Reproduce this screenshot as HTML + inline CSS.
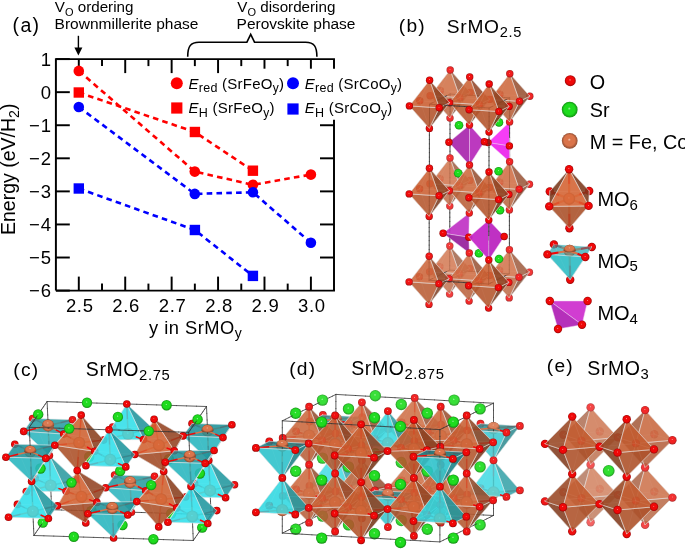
<!DOCTYPE html>
<html><head><meta charset="utf-8"><style>
html,body{margin:0;padding:0;background:#fff;}
svg{display:block;}
text{font-family:"Liberation Sans",Arial,sans-serif;}
</style></head><body>
<svg width="685" height="549" viewBox="0 0 685 549">
<defs><radialGradient id="g1" cx="0.5" cy="0.5" fx="0.47" fy="0.42" r="0.55"><stop offset="0" stop-color="#f99f9f"/><stop offset="0.18" stop-color="#f00e0e"/><stop offset="0.62" stop-color="#f00e0e"/><stop offset="1" stop-color="#870a0a"/></radialGradient><radialGradient id="g2" cx="0.5" cy="0.5" fx="0.47" fy="0.42" r="0.55"><stop offset="0" stop-color="#f99c9c"/><stop offset="0.18" stop-color="#f00808"/><stop offset="0.62" stop-color="#f00808"/><stop offset="1" stop-color="#840404"/></radialGradient><radialGradient id="g3" cx="0.5" cy="0.5" fx="0.47" fy="0.42" r="0.55"><stop offset="0" stop-color="#f9a1a1"/><stop offset="0.18" stop-color="#f11414"/><stop offset="0.62" stop-color="#f11414"/><stop offset="1" stop-color="#8a1111"/></radialGradient><radialGradient id="g4" cx="0.5" cy="0.5" fx="0.47" fy="0.42" r="0.55"><stop offset="0" stop-color="#f99d9d"/><stop offset="0.18" stop-color="#f00b0b"/><stop offset="0.62" stop-color="#f00b0b"/><stop offset="1" stop-color="#850707"/></radialGradient><radialGradient id="g5" cx="0.5" cy="0.5" fx="0.47" fy="0.42" r="0.55"><stop offset="0" stop-color="#faadad"/><stop offset="0.18" stop-color="#f33131"/><stop offset="0.62" stop-color="#f33131"/><stop offset="1" stop-color="#992e2e"/></radialGradient><radialGradient id="g6" cx="0.5" cy="0.5" fx="0.47" fy="0.42" r="0.55"><stop offset="0" stop-color="#faa8a8"/><stop offset="0.18" stop-color="#f22626"/><stop offset="0.62" stop-color="#f22626"/><stop offset="1" stop-color="#932323"/></radialGradient><radialGradient id="g7" cx="0.5" cy="0.5" fx="0.47" fy="0.42" r="0.55"><stop offset="0" stop-color="#faa6a6"/><stop offset="0.18" stop-color="#f12020"/><stop offset="0.62" stop-color="#f12020"/><stop offset="1" stop-color="#901c1c"/></radialGradient><radialGradient id="g8" cx="0.5" cy="0.5" fx="0.47" fy="0.42" r="0.55"><stop offset="0" stop-color="#faafaf"/><stop offset="0.18" stop-color="#f33737"/><stop offset="0.62" stop-color="#f33737"/><stop offset="1" stop-color="#9c3535"/></radialGradient><radialGradient id="g9" cx="0.5" cy="0.5" fx="0.47" fy="0.42" r="0.55"><stop offset="0" stop-color="#faabab"/><stop offset="0.18" stop-color="#f22e2e"/><stop offset="0.62" stop-color="#f22e2e"/><stop offset="1" stop-color="#972b2b"/></radialGradient><radialGradient id="g10" cx="0.5" cy="0.5" fx="0.47" fy="0.42" r="0.55"><stop offset="0" stop-color="#faa9a9"/><stop offset="0.18" stop-color="#f22929"/><stop offset="0.62" stop-color="#f22929"/><stop offset="1" stop-color="#942626"/></radialGradient><radialGradient id="g11" cx="0.5" cy="0.5" fx="0.47" fy="0.42" r="0.55"><stop offset="0" stop-color="#f9a3a3"/><stop offset="0.18" stop-color="#f11919"/><stop offset="0.62" stop-color="#f11919"/><stop offset="1" stop-color="#8d1616"/></radialGradient><radialGradient id="g12" cx="0.5" cy="0.5" fx="0.47" fy="0.42" r="0.55"><stop offset="0" stop-color="#f9a2a2"/><stop offset="0.18" stop-color="#f11616"/><stop offset="0.62" stop-color="#f11616"/><stop offset="1" stop-color="#8b1313"/></radialGradient><radialGradient id="g13" cx="0.5" cy="0.5" fx="0.47" fy="0.42" r="0.55"><stop offset="0" stop-color="#f9a0a0"/><stop offset="0.18" stop-color="#f11111"/><stop offset="0.62" stop-color="#f11111"/><stop offset="1" stop-color="#890e0e"/></radialGradient><radialGradient id="g14" cx="0.5" cy="0.5" fx="0.47" fy="0.42" r="0.55"><stop offset="0" stop-color="#faa8a8"/><stop offset="0.18" stop-color="#f22525"/><stop offset="0.62" stop-color="#f22525"/><stop offset="1" stop-color="#922222"/></radialGradient><radialGradient id="g15" cx="0.5" cy="0.5" fx="0.47" fy="0.42" r="0.55"><stop offset="0" stop-color="#f9a1a1"/><stop offset="0.18" stop-color="#f11313"/><stop offset="0.62" stop-color="#f11313"/><stop offset="1" stop-color="#8a1010"/></radialGradient><radialGradient id="g16" cx="0.5" cy="0.5" fx="0.47" fy="0.42" r="0.55"><stop offset="0" stop-color="#faaaaa"/><stop offset="0.18" stop-color="#f22b2b"/><stop offset="0.62" stop-color="#f22b2b"/><stop offset="1" stop-color="#962828"/></radialGradient><radialGradient id="g17" cx="0.5" cy="0.5" fx="0.47" fy="0.42" r="0.55"><stop offset="0" stop-color="#faa7a7"/><stop offset="0.18" stop-color="#f22222"/><stop offset="0.62" stop-color="#f22222"/><stop offset="1" stop-color="#911f1f"/></radialGradient><radialGradient id="g18" cx="0.5" cy="0.5" fx="0.47" fy="0.42" r="0.55"><stop offset="0" stop-color="#faa4a4"/><stop offset="0.18" stop-color="#f11d1d"/><stop offset="0.62" stop-color="#f11d1d"/><stop offset="1" stop-color="#8e1919"/></radialGradient><radialGradient id="g19" cx="0.5" cy="0.5" fx="0.47" fy="0.42" r="0.55"><stop offset="0" stop-color="#f9a2a2"/><stop offset="0.18" stop-color="#f11717"/><stop offset="0.62" stop-color="#f11717"/><stop offset="1" stop-color="#8c1414"/></radialGradient><radialGradient id="g20" cx="0.5" cy="0.5" fx="0.47" fy="0.42" r="0.55"><stop offset="0" stop-color="#f99e9e"/><stop offset="0.18" stop-color="#f00c0c"/><stop offset="0.62" stop-color="#f00c0c"/><stop offset="1" stop-color="#860808"/></radialGradient><radialGradient id="g21" cx="0.5" cy="0.5" fx="0.47" fy="0.42" r="0.55"><stop offset="0" stop-color="#faa5a5"/><stop offset="0.18" stop-color="#f11d1d"/><stop offset="0.62" stop-color="#f11d1d"/><stop offset="1" stop-color="#8f1a1a"/></radialGradient><radialGradient id="g22" cx="0.5" cy="0.5" fx="0.47" fy="0.42" r="0.55"><stop offset="0" stop-color="#f9a1a1"/><stop offset="0.18" stop-color="#f11414"/><stop offset="0.62" stop-color="#f11414"/><stop offset="1" stop-color="#8a1010"/></radialGradient><radialGradient id="g23" cx="0.5" cy="0.5" fx="0.47" fy="0.42" r="0.55"><stop offset="0" stop-color="#f99f9f"/><stop offset="0.18" stop-color="#f00f0f"/><stop offset="0.62" stop-color="#f00f0f"/><stop offset="1" stop-color="#870b0b"/></radialGradient><radialGradient id="g24" cx="0.5" cy="0.5" fx="0.47" fy="0.42" r="0.55"><stop offset="0" stop-color="#fab0b0"/><stop offset="0.18" stop-color="#f33b3b"/><stop offset="0.62" stop-color="#f33b3b"/><stop offset="1" stop-color="#9d3838"/></radialGradient><radialGradient id="g25" cx="0.5" cy="0.5" fx="0.47" fy="0.42" r="0.55"><stop offset="0" stop-color="#faacac"/><stop offset="0.18" stop-color="#f22f2f"/><stop offset="0.62" stop-color="#f22f2f"/><stop offset="1" stop-color="#972c2c"/></radialGradient><radialGradient id="g26" cx="0.5" cy="0.5" fx="0.47" fy="0.42" r="0.55"><stop offset="0" stop-color="#fab2b2"/><stop offset="0.18" stop-color="#f33e3e"/><stop offset="0.62" stop-color="#f33e3e"/><stop offset="1" stop-color="#9f3c3c"/></radialGradient><radialGradient id="g27" cx="0.5" cy="0.5" fx="0.47" fy="0.42" r="0.55"><stop offset="0" stop-color="#faafaf"/><stop offset="0.18" stop-color="#f33737"/><stop offset="0.62" stop-color="#f33737"/><stop offset="1" stop-color="#9c3434"/></radialGradient><radialGradient id="g28" cx="0.5" cy="0.5" fx="0.47" fy="0.42" r="0.55"><stop offset="0" stop-color="#faadad"/><stop offset="0.18" stop-color="#f33232"/><stop offset="0.62" stop-color="#f33232"/><stop offset="1" stop-color="#992f2f"/></radialGradient><radialGradient id="g29" cx="0.5" cy="0.5" fx="0.47" fy="0.42" r="0.55"><stop offset="0" stop-color="#faa7a7"/><stop offset="0.18" stop-color="#f22323"/><stop offset="0.62" stop-color="#f22323"/><stop offset="1" stop-color="#912020"/></radialGradient><radialGradient id="g30" cx="0.5" cy="0.5" fx="0.47" fy="0.42" r="0.55"><stop offset="0" stop-color="#f9a0a0"/><stop offset="0.18" stop-color="#f11111"/><stop offset="0.62" stop-color="#f11111"/><stop offset="1" stop-color="#880e0e"/></radialGradient><radialGradient id="g31" cx="0.5" cy="0.5" fx="0.47" fy="0.42" r="0.55"><stop offset="0" stop-color="#faa6a6"/><stop offset="0.18" stop-color="#f11f1f"/><stop offset="0.62" stop-color="#f11f1f"/><stop offset="1" stop-color="#901c1c"/></radialGradient><radialGradient id="g32" cx="0.5" cy="0.5" fx="0.47" fy="0.42" r="0.55"><stop offset="0" stop-color="#f9a4a4"/><stop offset="0.18" stop-color="#f11a1a"/><stop offset="0.62" stop-color="#f11a1a"/><stop offset="1" stop-color="#8d1717"/></radialGradient><radialGradient id="g33" cx="0.5" cy="0.5" fx="0.47" fy="0.42" r="0.55"><stop offset="0" stop-color="#faacac"/><stop offset="0.18" stop-color="#f22e2e"/><stop offset="0.62" stop-color="#f22e2e"/><stop offset="1" stop-color="#972b2b"/></radialGradient><radialGradient id="g34" cx="0.5" cy="0.5" fx="0.47" fy="0.42" r="0.55"><stop offset="0" stop-color="#faaeae"/><stop offset="0.18" stop-color="#f33434"/><stop offset="0.62" stop-color="#f33434"/><stop offset="1" stop-color="#9a3232"/></radialGradient><radialGradient id="g35" cx="0.5" cy="0.5" fx="0.47" fy="0.42" r="0.55"><stop offset="0" stop-color="#faaaaa"/><stop offset="0.18" stop-color="#f22b2b"/><stop offset="0.62" stop-color="#f22b2b"/><stop offset="1" stop-color="#952828"/></radialGradient><radialGradient id="g36" cx="0.5" cy="0.5" fx="0.47" fy="0.42" r="0.55"><stop offset="0" stop-color="#faa6a6"/><stop offset="0.18" stop-color="#f12020"/><stop offset="0.62" stop-color="#f12020"/><stop offset="1" stop-color="#901d1d"/></radialGradient><radialGradient id="g37" cx="0.5" cy="0.5" fx="0.47" fy="0.42" r="0.55"><stop offset="0" stop-color="#f9a1a1"/><stop offset="0.18" stop-color="#f11515"/><stop offset="0.62" stop-color="#f11515"/><stop offset="1" stop-color="#8a1111"/></radialGradient><radialGradient id="g38" cx="0.5" cy="0.5" fx="0.47" fy="0.42" r="0.55"><stop offset="0" stop-color="#faa8a8"/><stop offset="0.18" stop-color="#f22727"/><stop offset="0.62" stop-color="#f22727"/><stop offset="1" stop-color="#932323"/></radialGradient><radialGradient id="g39" cx="0.5" cy="0.5" fx="0.47" fy="0.42" r="0.55"><stop offset="0" stop-color="#f9a3a3"/><stop offset="0.18" stop-color="#f11818"/><stop offset="0.62" stop-color="#f11818"/><stop offset="1" stop-color="#8c1515"/></radialGradient><radialGradient id="g40" cx="0.5" cy="0.5" fx="0.47" fy="0.42" r="0.55"><stop offset="0" stop-color="#fab0b0"/><stop offset="0.18" stop-color="#f33838"/><stop offset="0.62" stop-color="#f33838"/><stop offset="1" stop-color="#9c3535"/></radialGradient><radialGradient id="g41" cx="0.5" cy="0.5" fx="0.47" fy="0.42" r="0.55"><stop offset="0" stop-color="#fab1b1"/><stop offset="0.18" stop-color="#f33c3c"/><stop offset="0.62" stop-color="#f33c3c"/><stop offset="1" stop-color="#9e3939"/></radialGradient><radialGradient id="g42" cx="0.5" cy="0.5" fx="0.47" fy="0.42" r="0.55"><stop offset="0" stop-color="#faabab"/><stop offset="0.18" stop-color="#f22c2c"/><stop offset="0.62" stop-color="#f22c2c"/><stop offset="1" stop-color="#962929"/></radialGradient><radialGradient id="g43" cx="0.5" cy="0.5" fx="0.47" fy="0.42" r="0.55"><stop offset="0" stop-color="#faa7a7"/><stop offset="0.18" stop-color="#f22424"/><stop offset="0.62" stop-color="#f22424"/><stop offset="1" stop-color="#922020"/></radialGradient><radialGradient id="g44" cx="0.5" cy="0.5" fx="0.47" fy="0.42" r="0.55"><stop offset="0" stop-color="#f99c9c"/><stop offset="0.18" stop-color="#f00909"/><stop offset="0.62" stop-color="#f00909"/><stop offset="1" stop-color="#840505"/></radialGradient><radialGradient id="g45" cx="0.5" cy="0.5" fx="0.47" fy="0.42" r="0.55"><stop offset="0" stop-color="#f9a0a0"/><stop offset="0.18" stop-color="#f11111"/><stop offset="0.62" stop-color="#f11111"/><stop offset="1" stop-color="#880d0d"/></radialGradient><radialGradient id="g46" cx="0.5" cy="0.5" fx="0.47" fy="0.42" r="0.55"><stop offset="0" stop-color="#faafaf"/><stop offset="0.18" stop-color="#f33838"/><stop offset="0.62" stop-color="#f33838"/><stop offset="1" stop-color="#9c3535"/></radialGradient><radialGradient id="g47" cx="0.5" cy="0.5" fx="0.47" fy="0.42" r="0.55"><stop offset="0" stop-color="#fab2b2"/><stop offset="0.18" stop-color="#f33e3e"/><stop offset="0.62" stop-color="#f33e3e"/><stop offset="1" stop-color="#9f3b3b"/></radialGradient><radialGradient id="g48" cx="0.5" cy="0.5" fx="0.47" fy="0.42" r="0.55"><stop offset="0" stop-color="#faaeae"/><stop offset="0.18" stop-color="#f33434"/><stop offset="0.62" stop-color="#f33434"/><stop offset="1" stop-color="#9a3131"/></radialGradient><radialGradient id="g49" cx="0.5" cy="0.5" fx="0.47" fy="0.42" r="0.55"><stop offset="0" stop-color="#faacac"/><stop offset="0.18" stop-color="#f22f2f"/><stop offset="0.62" stop-color="#f22f2f"/><stop offset="1" stop-color="#982c2c"/></radialGradient><radialGradient id="g50" cx="0.5" cy="0.5" fx="0.47" fy="0.42" r="0.55"><stop offset="0" stop-color="#a5f1a5"/><stop offset="0.18" stop-color="#1edc1e"/><stop offset="0.62" stop-color="#1edc1e"/><stop offset="1" stop-color="#107910"/></radialGradient><radialGradient id="g51" cx="0.5" cy="0.5" fx="0.47" fy="0.42" r="0.55"><stop offset="0" stop-color="#f0c7b7"/><stop offset="0.18" stop-color="#da744a"/><stop offset="0.62" stop-color="#da744a"/><stop offset="1" stop-color="#784029"/></radialGradient><radialGradient id="g52" cx="0.5" cy="0.5" fx="0.47" fy="0.42" r="0.55"><stop offset="0" stop-color="#f1cab9"/><stop offset="0.18" stop-color="#db7951"/><stop offset="0.62" stop-color="#db7951"/><stop offset="1" stop-color="#7d4731"/></radialGradient><radialGradient id="g53" cx="0.5" cy="0.5" fx="0.47" fy="0.42" r="0.55"><stop offset="0" stop-color="#f1cbbc"/><stop offset="0.18" stop-color="#dd7e56"/><stop offset="0.62" stop-color="#dd7e56"/><stop offset="1" stop-color="#814d37"/></radialGradient><radialGradient id="g54" cx="0.5" cy="0.5" fx="0.47" fy="0.42" r="0.55"><stop offset="0" stop-color="#f0c8b8"/><stop offset="0.18" stop-color="#db764d"/><stop offset="0.62" stop-color="#db764d"/><stop offset="1" stop-color="#7a432c"/></radialGradient><radialGradient id="g55" cx="0.5" cy="0.5" fx="0.47" fy="0.42" r="0.55"><stop offset="0" stop-color="#f9a2a2"/><stop offset="0.18" stop-color="#f11717"/><stop offset="0.62" stop-color="#f11717"/><stop offset="1" stop-color="#8b1313"/></radialGradient><radialGradient id="g56" cx="0.5" cy="0.5" fx="0.47" fy="0.42" r="0.55"><stop offset="0" stop-color="#f99e9e"/><stop offset="0.18" stop-color="#f00c0c"/><stop offset="0.62" stop-color="#f00c0c"/><stop offset="1" stop-color="#860909"/></radialGradient><radialGradient id="g57" cx="0.5" cy="0.5" fx="0.47" fy="0.42" r="0.55"><stop offset="0" stop-color="#f99d9d"/><stop offset="0.18" stop-color="#f00909"/><stop offset="0.62" stop-color="#f00909"/><stop offset="1" stop-color="#840505"/></radialGradient><radialGradient id="g58" cx="0.5" cy="0.5" fx="0.47" fy="0.42" r="0.55"><stop offset="0" stop-color="#f9a3a3"/><stop offset="0.18" stop-color="#f11a1a"/><stop offset="0.62" stop-color="#f11a1a"/><stop offset="1" stop-color="#8d1717"/></radialGradient><radialGradient id="g59" cx="0.5" cy="0.5" fx="0.47" fy="0.42" r="0.55"><stop offset="0" stop-color="#f9a1a1"/><stop offset="0.18" stop-color="#f11515"/><stop offset="0.62" stop-color="#f11515"/><stop offset="1" stop-color="#8b1212"/></radialGradient><radialGradient id="g60" cx="0.5" cy="0.5" fx="0.47" fy="0.42" r="0.55"><stop offset="0" stop-color="#faa5a5"/><stop offset="0.18" stop-color="#f11e1e"/><stop offset="0.62" stop-color="#f11e1e"/><stop offset="1" stop-color="#8f1b1b"/></radialGradient><radialGradient id="g61" cx="0.5" cy="0.5" fx="0.47" fy="0.42" r="0.55"><stop offset="0" stop-color="#f99f9f"/><stop offset="0.18" stop-color="#f01010"/><stop offset="0.62" stop-color="#f01010"/><stop offset="1" stop-color="#880d0d"/></radialGradient><radialGradient id="g62" cx="0.5" cy="0.5" fx="0.47" fy="0.42" r="0.55"><stop offset="0" stop-color="#faa6a6"/><stop offset="0.18" stop-color="#f22222"/><stop offset="0.62" stop-color="#f22222"/><stop offset="1" stop-color="#911e1e"/></radialGradient><radialGradient id="g63" cx="0.5" cy="0.5" fx="0.47" fy="0.42" r="0.55"><stop offset="0" stop-color="#f99d9d"/><stop offset="0.18" stop-color="#f00909"/><stop offset="0.62" stop-color="#f00909"/><stop offset="1" stop-color="#850606"/></radialGradient><radialGradient id="g64" cx="0.5" cy="0.5" fx="0.47" fy="0.42" r="0.55"><stop offset="0" stop-color="#f9a2a2"/><stop offset="0.18" stop-color="#f11515"/><stop offset="0.62" stop-color="#f11515"/><stop offset="1" stop-color="#8b1212"/></radialGradient><radialGradient id="g65" cx="0.5" cy="0.5" fx="0.47" fy="0.42" r="0.55"><stop offset="0" stop-color="#f99d9d"/><stop offset="0.18" stop-color="#f00a0a"/><stop offset="0.62" stop-color="#f00a0a"/><stop offset="1" stop-color="#850606"/></radialGradient><radialGradient id="g66" cx="0.5" cy="0.5" fx="0.47" fy="0.42" r="0.55"><stop offset="0" stop-color="#f99e9e"/><stop offset="0.18" stop-color="#f00d0d"/><stop offset="0.62" stop-color="#f00d0d"/><stop offset="1" stop-color="#860909"/></radialGradient><radialGradient id="g67" cx="0.5" cy="0.5" fx="0.47" fy="0.42" r="0.55"><stop offset="0" stop-color="#f99e9e"/><stop offset="0.18" stop-color="#f00b0b"/><stop offset="0.62" stop-color="#f00b0b"/><stop offset="1" stop-color="#860808"/></radialGradient><radialGradient id="g68" cx="0.5" cy="0.5" fx="0.47" fy="0.42" r="0.55"><stop offset="0" stop-color="#a7f1a7"/><stop offset="0.18" stop-color="#24dd24"/><stop offset="0.62" stop-color="#24dd24"/><stop offset="1" stop-color="#167c16"/></radialGradient><radialGradient id="g69" cx="0.5" cy="0.5" fx="0.47" fy="0.42" r="0.55"><stop offset="0" stop-color="#a6f1a6"/><stop offset="0.18" stop-color="#21dc21"/><stop offset="0.62" stop-color="#21dc21"/><stop offset="1" stop-color="#137b13"/></radialGradient><radialGradient id="g70" cx="0.5" cy="0.5" fx="0.47" fy="0.42" r="0.55"><stop offset="0" stop-color="#a9f2a9"/><stop offset="0.18" stop-color="#27dd27"/><stop offset="0.62" stop-color="#27dd27"/><stop offset="1" stop-color="#1a7e1a"/></radialGradient><radialGradient id="g71" cx="0.5" cy="0.5" fx="0.47" fy="0.42" r="0.55"><stop offset="0" stop-color="#abf2ab"/><stop offset="0.18" stop-color="#2dde2d"/><stop offset="0.62" stop-color="#2dde2d"/><stop offset="1" stop-color="#218221"/></radialGradient><radialGradient id="g72" cx="0.5" cy="0.5" fx="0.47" fy="0.42" r="0.55"><stop offset="0" stop-color="#a6f1a6"/><stop offset="0.18" stop-color="#21dc21"/><stop offset="0.62" stop-color="#21dc21"/><stop offset="1" stop-color="#147b14"/></radialGradient><radialGradient id="g73" cx="0.5" cy="0.5" fx="0.47" fy="0.42" r="0.55"><stop offset="0" stop-color="#f0c8b7"/><stop offset="0.18" stop-color="#da754b"/><stop offset="0.62" stop-color="#da754b"/><stop offset="1" stop-color="#79412a"/></radialGradient><radialGradient id="g74" cx="0.5" cy="0.5" fx="0.47" fy="0.42" r="0.55"><stop offset="0" stop-color="#f1ccbd"/><stop offset="0.18" stop-color="#dd8059"/><stop offset="0.62" stop-color="#dd8059"/><stop offset="1" stop-color="#83503b"/></radialGradient><radialGradient id="g75" cx="0.5" cy="0.5" fx="0.47" fy="0.42" r="0.55"><stop offset="0" stop-color="#f2cdbd"/><stop offset="0.18" stop-color="#dd815b"/><stop offset="0.62" stop-color="#dd815b"/><stop offset="1" stop-color="#85523d"/></radialGradient><radialGradient id="g76" cx="0.5" cy="0.5" fx="0.47" fy="0.42" r="0.55"><stop offset="0" stop-color="#f1c9b9"/><stop offset="0.18" stop-color="#db7850"/><stop offset="0.62" stop-color="#db7850"/><stop offset="1" stop-color="#7c4630"/></radialGradient><radialGradient id="g77" cx="0.5" cy="0.5" fx="0.47" fy="0.42" r="0.55"><stop offset="0" stop-color="#f1caba"/><stop offset="0.18" stop-color="#dc7a52"/><stop offset="0.62" stop-color="#dc7a52"/><stop offset="1" stop-color="#7e4832"/></radialGradient><radialGradient id="g78" cx="0.5" cy="0.5" fx="0.47" fy="0.42" r="0.55"><stop offset="0" stop-color="#f2cebf"/><stop offset="0.18" stop-color="#de8560"/><stop offset="0.62" stop-color="#de8560"/><stop offset="1" stop-color="#885742"/></radialGradient><radialGradient id="g79" cx="0.5" cy="0.5" fx="0.47" fy="0.42" r="0.55"><stop offset="0" stop-color="#f2cebf"/><stop offset="0.18" stop-color="#de835e"/><stop offset="0.62" stop-color="#de835e"/><stop offset="1" stop-color="#875540"/></radialGradient><radialGradient id="g80" cx="0.5" cy="0.5" fx="0.47" fy="0.42" r="0.55"><stop offset="0" stop-color="#f1cbbb"/><stop offset="0.18" stop-color="#dc7c55"/><stop offset="0.62" stop-color="#dc7c55"/><stop offset="1" stop-color="#804b35"/></radialGradient><radialGradient id="g81" cx="0.5" cy="0.5" fx="0.47" fy="0.42" r="0.55"><stop offset="0" stop-color="#f1cbbb"/><stop offset="0.18" stop-color="#dc7d56"/><stop offset="0.62" stop-color="#dc7d56"/><stop offset="1" stop-color="#814d37"/></radialGradient><radialGradient id="g82" cx="0.5" cy="0.5" fx="0.47" fy="0.42" r="0.55"><stop offset="0" stop-color="#f2cdbd"/><stop offset="0.18" stop-color="#dd815b"/><stop offset="0.62" stop-color="#dd815b"/><stop offset="1" stop-color="#84523d"/></radialGradient><radialGradient id="g83" cx="0.5" cy="0.5" fx="0.47" fy="0.42" r="0.55"><stop offset="0" stop-color="#f1c9b9"/><stop offset="0.18" stop-color="#db7850"/><stop offset="0.62" stop-color="#db7850"/><stop offset="1" stop-color="#7c462f"/></radialGradient><radialGradient id="g84" cx="0.5" cy="0.5" fx="0.47" fy="0.42" r="0.55"><stop offset="0" stop-color="#f1caba"/><stop offset="0.18" stop-color="#dc7a51"/><stop offset="0.62" stop-color="#dc7a51"/><stop offset="1" stop-color="#7d4832"/></radialGradient><radialGradient id="g85" cx="0.5" cy="0.5" fx="0.47" fy="0.42" r="0.55"><stop offset="0" stop-color="#f2cdbe"/><stop offset="0.18" stop-color="#de835e"/><stop offset="0.62" stop-color="#de835e"/><stop offset="1" stop-color="#875540"/></radialGradient><radialGradient id="g86" cx="0.5" cy="0.5" fx="0.47" fy="0.42" r="0.55"><stop offset="0" stop-color="#f99f9f"/><stop offset="0.18" stop-color="#f01010"/><stop offset="0.62" stop-color="#f01010"/><stop offset="1" stop-color="#880c0c"/></radialGradient><radialGradient id="g87" cx="0.5" cy="0.5" fx="0.47" fy="0.42" r="0.55"><stop offset="0" stop-color="#f99f9f"/><stop offset="0.18" stop-color="#f00f0f"/><stop offset="0.62" stop-color="#f00f0f"/><stop offset="1" stop-color="#880c0c"/></radialGradient><radialGradient id="g88" cx="0.5" cy="0.5" fx="0.47" fy="0.42" r="0.55"><stop offset="0" stop-color="#f9a0a0"/><stop offset="0.18" stop-color="#f11313"/><stop offset="0.62" stop-color="#f11313"/><stop offset="1" stop-color="#890f0f"/></radialGradient><radialGradient id="g89" cx="0.5" cy="0.5" fx="0.47" fy="0.42" r="0.55"><stop offset="0" stop-color="#f9a3a3"/><stop offset="0.18" stop-color="#f11a1a"/><stop offset="0.62" stop-color="#f11a1a"/><stop offset="1" stop-color="#8d1616"/></radialGradient><radialGradient id="g90" cx="0.5" cy="0.5" fx="0.47" fy="0.42" r="0.55"><stop offset="0" stop-color="#faa7a7"/><stop offset="0.18" stop-color="#f22323"/><stop offset="0.62" stop-color="#f22323"/><stop offset="1" stop-color="#922020"/></radialGradient><radialGradient id="g91" cx="0.5" cy="0.5" fx="0.47" fy="0.42" r="0.55"><stop offset="0" stop-color="#f9a4a4"/><stop offset="0.18" stop-color="#f11c1c"/><stop offset="0.62" stop-color="#f11c1c"/><stop offset="1" stop-color="#8e1818"/></radialGradient><radialGradient id="g92" cx="0.5" cy="0.5" fx="0.47" fy="0.42" r="0.55"><stop offset="0" stop-color="#f9a4a4"/><stop offset="0.18" stop-color="#f11c1c"/><stop offset="0.62" stop-color="#f11c1c"/><stop offset="1" stop-color="#8e1919"/></radialGradient><radialGradient id="g93" cx="0.5" cy="0.5" fx="0.47" fy="0.42" r="0.55"><stop offset="0" stop-color="#f9a3a3"/><stop offset="0.18" stop-color="#f11919"/><stop offset="0.62" stop-color="#f11919"/><stop offset="1" stop-color="#8c1515"/></radialGradient><radialGradient id="g94" cx="0.5" cy="0.5" fx="0.47" fy="0.42" r="0.55"><stop offset="0" stop-color="#faa8a8"/><stop offset="0.18" stop-color="#f22626"/><stop offset="0.62" stop-color="#f22626"/><stop offset="1" stop-color="#932222"/></radialGradient><radialGradient id="g95" cx="0.5" cy="0.5" fx="0.47" fy="0.42" r="0.55"><stop offset="0" stop-color="#faa5a5"/><stop offset="0.18" stop-color="#f11d1d"/><stop offset="0.62" stop-color="#f11d1d"/><stop offset="1" stop-color="#8e1a1a"/></radialGradient><radialGradient id="g96" cx="0.5" cy="0.5" fx="0.47" fy="0.42" r="0.55"><stop offset="0" stop-color="#faa8a8"/><stop offset="0.18" stop-color="#f22424"/><stop offset="0.62" stop-color="#f22424"/><stop offset="1" stop-color="#922121"/></radialGradient><radialGradient id="g97" cx="0.5" cy="0.5" fx="0.47" fy="0.42" r="0.55"><stop offset="0" stop-color="#faa5a5"/><stop offset="0.18" stop-color="#f11f1f"/><stop offset="0.62" stop-color="#f11f1f"/><stop offset="1" stop-color="#8f1c1c"/></radialGradient><radialGradient id="g98" cx="0.5" cy="0.5" fx="0.47" fy="0.42" r="0.55"><stop offset="0" stop-color="#f9a1a1"/><stop offset="0.18" stop-color="#f11515"/><stop offset="0.62" stop-color="#f11515"/><stop offset="1" stop-color="#8a1212"/></radialGradient><radialGradient id="g99" cx="0.5" cy="0.5" fx="0.47" fy="0.42" r="0.55"><stop offset="0" stop-color="#f9a0a0"/><stop offset="0.18" stop-color="#f11212"/><stop offset="0.62" stop-color="#f11212"/><stop offset="1" stop-color="#890f0f"/></radialGradient><radialGradient id="g100" cx="0.5" cy="0.5" fx="0.47" fy="0.42" r="0.55"><stop offset="0" stop-color="#f99c9c"/><stop offset="0.18" stop-color="#f00808"/><stop offset="0.62" stop-color="#f00808"/><stop offset="1" stop-color="#840505"/></radialGradient><radialGradient id="g101" cx="0.5" cy="0.5" fx="0.47" fy="0.42" r="0.55"><stop offset="0" stop-color="#f99e9e"/><stop offset="0.18" stop-color="#f00d0d"/><stop offset="0.62" stop-color="#f00d0d"/><stop offset="1" stop-color="#870a0a"/></radialGradient><radialGradient id="g102" cx="0.5" cy="0.5" fx="0.47" fy="0.42" r="0.55"><stop offset="0" stop-color="#faa8a8"/><stop offset="0.18" stop-color="#f22525"/><stop offset="0.62" stop-color="#f22525"/><stop offset="1" stop-color="#932222"/></radialGradient><radialGradient id="g103" cx="0.5" cy="0.5" fx="0.47" fy="0.42" r="0.55"><stop offset="0" stop-color="#f9a4a4"/><stop offset="0.18" stop-color="#f11b1b"/><stop offset="0.62" stop-color="#f11b1b"/><stop offset="1" stop-color="#8e1818"/></radialGradient><radialGradient id="g104" cx="0.5" cy="0.5" fx="0.47" fy="0.42" r="0.55"><stop offset="0" stop-color="#f9a1a1"/><stop offset="0.18" stop-color="#f11313"/><stop offset="0.62" stop-color="#f11313"/><stop offset="1" stop-color="#890f0f"/></radialGradient><radialGradient id="g105" cx="0.5" cy="0.5" fx="0.47" fy="0.42" r="0.55"><stop offset="0" stop-color="#faa7a7"/><stop offset="0.18" stop-color="#f22424"/><stop offset="0.62" stop-color="#f22424"/><stop offset="1" stop-color="#922121"/></radialGradient><radialGradient id="g106" cx="0.5" cy="0.5" fx="0.47" fy="0.42" r="0.55"><stop offset="0" stop-color="#aaf2aa"/><stop offset="0.18" stop-color="#29de29"/><stop offset="0.62" stop-color="#29de29"/><stop offset="1" stop-color="#1c801c"/></radialGradient><radialGradient id="g107" cx="0.5" cy="0.5" fx="0.47" fy="0.42" r="0.55"><stop offset="0" stop-color="#aaf2aa"/><stop offset="0.18" stop-color="#2cde2c"/><stop offset="0.62" stop-color="#2cde2c"/><stop offset="1" stop-color="#1f811f"/></radialGradient><radialGradient id="g108" cx="0.5" cy="0.5" fx="0.47" fy="0.42" r="0.55"><stop offset="0" stop-color="#a6f1a6"/><stop offset="0.18" stop-color="#20dc20"/><stop offset="0.62" stop-color="#20dc20"/><stop offset="1" stop-color="#127a12"/></radialGradient><radialGradient id="g109" cx="0.5" cy="0.5" fx="0.47" fy="0.42" r="0.55"><stop offset="0" stop-color="#b0f3b0"/><stop offset="0.18" stop-color="#39e039"/><stop offset="0.62" stop-color="#39e039"/><stop offset="1" stop-color="#2d892d"/></radialGradient><radialGradient id="g110" cx="0.5" cy="0.5" fx="0.47" fy="0.42" r="0.55"><stop offset="0" stop-color="#abf2ab"/><stop offset="0.18" stop-color="#2dde2d"/><stop offset="0.62" stop-color="#2dde2d"/><stop offset="1" stop-color="#208220"/></radialGradient><radialGradient id="g111" cx="0.5" cy="0.5" fx="0.47" fy="0.42" r="0.55"><stop offset="0" stop-color="#acf2ac"/><stop offset="0.18" stop-color="#2fdf2f"/><stop offset="0.62" stop-color="#2fdf2f"/><stop offset="1" stop-color="#238323"/></radialGradient><radialGradient id="g112" cx="0.5" cy="0.5" fx="0.47" fy="0.42" r="0.55"><stop offset="0" stop-color="#adf2ad"/><stop offset="0.18" stop-color="#31df31"/><stop offset="0.62" stop-color="#31df31"/><stop offset="1" stop-color="#258425"/></radialGradient><radialGradient id="g113" cx="0.5" cy="0.5" fx="0.47" fy="0.42" r="0.55"><stop offset="0" stop-color="#a7f1a7"/><stop offset="0.18" stop-color="#23dd23"/><stop offset="0.62" stop-color="#23dd23"/><stop offset="1" stop-color="#167c16"/></radialGradient><radialGradient id="g114" cx="0.5" cy="0.5" fx="0.47" fy="0.42" r="0.55"><stop offset="0" stop-color="#a8f1a8"/><stop offset="0.18" stop-color="#26dd26"/><stop offset="0.62" stop-color="#26dd26"/><stop offset="1" stop-color="#197e19"/></radialGradient><radialGradient id="g115" cx="0.5" cy="0.5" fx="0.47" fy="0.42" r="0.55"><stop offset="0" stop-color="#adf2ad"/><stop offset="0.18" stop-color="#33df33"/><stop offset="0.62" stop-color="#33df33"/><stop offset="1" stop-color="#268526"/></radialGradient><radialGradient id="g116" cx="0.5" cy="0.5" fx="0.47" fy="0.42" r="0.55"><stop offset="0" stop-color="#aef2ae"/><stop offset="0.18" stop-color="#35e035"/><stop offset="0.62" stop-color="#35e035"/><stop offset="1" stop-color="#298729"/></radialGradient><radialGradient id="g117" cx="0.5" cy="0.5" fx="0.47" fy="0.42" r="0.55"><stop offset="0" stop-color="#aff3af"/><stop offset="0.18" stop-color="#37e037"/><stop offset="0.62" stop-color="#37e037"/><stop offset="1" stop-color="#2b882b"/></radialGradient><radialGradient id="g118" cx="0.5" cy="0.5" fx="0.47" fy="0.42" r="0.55"><stop offset="0" stop-color="#a9f2a9"/><stop offset="0.18" stop-color="#29de29"/><stop offset="0.62" stop-color="#29de29"/><stop offset="1" stop-color="#1c801c"/></radialGradient><radialGradient id="g119" cx="0.5" cy="0.5" fx="0.47" fy="0.42" r="0.55"><stop offset="0" stop-color="#aaf2aa"/><stop offset="0.18" stop-color="#2bde2b"/><stop offset="0.62" stop-color="#2bde2b"/><stop offset="1" stop-color="#1f811f"/></radialGradient><radialGradient id="g120" cx="0.5" cy="0.5" fx="0.47" fy="0.42" r="0.55"><stop offset="0" stop-color="#b0f3b0"/><stop offset="0.18" stop-color="#38e038"/><stop offset="0.62" stop-color="#38e038"/><stop offset="1" stop-color="#2c892c"/></radialGradient><radialGradient id="g121" cx="0.5" cy="0.5" fx="0.47" fy="0.42" r="0.55"><stop offset="0" stop-color="#acf2ac"/><stop offset="0.18" stop-color="#2fdf2f"/><stop offset="0.62" stop-color="#2fdf2f"/><stop offset="1" stop-color="#228322"/></radialGradient><radialGradient id="g122" cx="0.5" cy="0.5" fx="0.47" fy="0.42" r="0.55"><stop offset="0" stop-color="#faa7a7"/><stop offset="0.18" stop-color="#f22323"/><stop offset="0.62" stop-color="#f22323"/><stop offset="1" stop-color="#911f1f"/></radialGradient><radialGradient id="g123" cx="0.5" cy="0.5" fx="0.47" fy="0.42" r="0.55"><stop offset="0" stop-color="#f9a2a2"/><stop offset="0.18" stop-color="#f11616"/><stop offset="0.62" stop-color="#f11616"/><stop offset="1" stop-color="#8b1212"/></radialGradient><radialGradient id="g124" cx="0.5" cy="0.5" fx="0.47" fy="0.42" r="0.55"><stop offset="0" stop-color="#fab2b2"/><stop offset="0.18" stop-color="#f33f3f"/><stop offset="0.62" stop-color="#f33f3f"/><stop offset="1" stop-color="#9f3c3c"/></radialGradient><radialGradient id="g125" cx="0.5" cy="0.5" fx="0.47" fy="0.42" r="0.55"><stop offset="0" stop-color="#fbbdbd"/><stop offset="0.18" stop-color="#f55b5b"/><stop offset="0.62" stop-color="#f55b5b"/><stop offset="1" stop-color="#ad5959"/></radialGradient><radialGradient id="g126" cx="0.5" cy="0.5" fx="0.47" fy="0.42" r="0.55"><stop offset="0" stop-color="#fbc2c2"/><stop offset="0.18" stop-color="#f66666"/><stop offset="0.62" stop-color="#f66666"/><stop offset="1" stop-color="#b36464"/></radialGradient><radialGradient id="g127" cx="0.5" cy="0.5" fx="0.47" fy="0.42" r="0.55"><stop offset="0" stop-color="#fbbbbb"/><stop offset="0.18" stop-color="#f55454"/><stop offset="0.62" stop-color="#f55454"/><stop offset="1" stop-color="#aa5252"/></radialGradient><radialGradient id="g128" cx="0.5" cy="0.5" fx="0.47" fy="0.42" r="0.55"><stop offset="0" stop-color="#fab5b5"/><stop offset="0.18" stop-color="#f44545"/><stop offset="0.62" stop-color="#f44545"/><stop offset="1" stop-color="#a34343"/></radialGradient><radialGradient id="g129" cx="0.5" cy="0.5" fx="0.47" fy="0.42" r="0.55"><stop offset="0" stop-color="#fbb8b8"/><stop offset="0.18" stop-color="#f44e4e"/><stop offset="0.62" stop-color="#f44e4e"/><stop offset="1" stop-color="#a74b4b"/></radialGradient><radialGradient id="g130" cx="0.5" cy="0.5" fx="0.47" fy="0.42" r="0.55"><stop offset="0" stop-color="#fbc1c1"/><stop offset="0.18" stop-color="#f66363"/><stop offset="0.62" stop-color="#f66363"/><stop offset="1" stop-color="#b16161"/></radialGradient><radialGradient id="g131" cx="0.5" cy="0.5" fx="0.47" fy="0.42" r="0.55"><stop offset="0" stop-color="#fbbdbd"/><stop offset="0.18" stop-color="#f55b5b"/><stop offset="0.62" stop-color="#f55b5b"/><stop offset="1" stop-color="#ad5858"/></radialGradient><radialGradient id="g132" cx="0.5" cy="0.5" fx="0.47" fy="0.42" r="0.55"><stop offset="0" stop-color="#faadad"/><stop offset="0.18" stop-color="#f23131"/><stop offset="0.62" stop-color="#f23131"/><stop offset="1" stop-color="#982e2e"/></radialGradient><radialGradient id="g133" cx="0.5" cy="0.5" fx="0.47" fy="0.42" r="0.55"><stop offset="0" stop-color="#fbb5b5"/><stop offset="0.18" stop-color="#f44747"/><stop offset="0.62" stop-color="#f44747"/><stop offset="1" stop-color="#a34444"/></radialGradient><radialGradient id="g134" cx="0.5" cy="0.5" fx="0.47" fy="0.42" r="0.55"><stop offset="0" stop-color="#acf2ac"/><stop offset="0.18" stop-color="#30df30"/><stop offset="0.62" stop-color="#30df30"/><stop offset="1" stop-color="#248424"/></radialGradient></defs>
<path d="M334.0,68.7 L334.0,59.1 L55.9,59.1 L55.9,290.6" stroke="#000" stroke-width="1.95" fill="none" stroke-linejoin="miter"/>
<path d="M55.9,290.6 L334.0,290.6 L334.0,119.7" stroke="#000" stroke-width="1.95" fill="none"/>
<line x1="78.80" y1="290.6" x2="78.80" y2="276.6" stroke="#000" stroke-width="1.95" fill="none"/>
<line x1="78.80" y1="59.1" x2="78.80" y2="73.1" stroke="#000" stroke-width="1.95" fill="none"/>
<line x1="102.01" y1="290.6" x2="102.01" y2="283.6" stroke="#000" stroke-width="1.95" fill="none"/>
<line x1="102.01" y1="59.1" x2="102.01" y2="66.1" stroke="#000" stroke-width="1.95" fill="none"/>
<line x1="125.22" y1="290.6" x2="125.22" y2="276.6" stroke="#000" stroke-width="1.95" fill="none"/>
<line x1="125.22" y1="59.1" x2="125.22" y2="73.1" stroke="#000" stroke-width="1.95" fill="none"/>
<line x1="148.43" y1="290.6" x2="148.43" y2="283.6" stroke="#000" stroke-width="1.95" fill="none"/>
<line x1="148.43" y1="59.1" x2="148.43" y2="66.1" stroke="#000" stroke-width="1.95" fill="none"/>
<line x1="171.64" y1="290.6" x2="171.64" y2="276.6" stroke="#000" stroke-width="1.95" fill="none"/>
<line x1="171.64" y1="59.1" x2="171.64" y2="73.1" stroke="#000" stroke-width="1.95" fill="none"/>
<line x1="194.85" y1="290.6" x2="194.85" y2="283.6" stroke="#000" stroke-width="1.95" fill="none"/>
<line x1="194.85" y1="59.1" x2="194.85" y2="66.1" stroke="#000" stroke-width="1.95" fill="none"/>
<line x1="218.06" y1="290.6" x2="218.06" y2="276.6" stroke="#000" stroke-width="1.95" fill="none"/>
<line x1="218.06" y1="59.1" x2="218.06" y2="73.1" stroke="#000" stroke-width="1.95" fill="none"/>
<line x1="241.27" y1="290.6" x2="241.27" y2="283.6" stroke="#000" stroke-width="1.95" fill="none"/>
<line x1="241.27" y1="59.1" x2="241.27" y2="66.1" stroke="#000" stroke-width="1.95" fill="none"/>
<line x1="264.48" y1="290.6" x2="264.48" y2="276.6" stroke="#000" stroke-width="1.95" fill="none"/>
<line x1="264.48" y1="59.1" x2="264.48" y2="68.7" stroke="#000" stroke-width="1.95" fill="none"/>
<line x1="287.69" y1="290.6" x2="287.69" y2="283.6" stroke="#000" stroke-width="1.95" fill="none"/>
<line x1="287.69" y1="59.1" x2="287.69" y2="66.1" stroke="#000" stroke-width="1.95" fill="none"/>
<line x1="310.90" y1="290.6" x2="310.90" y2="276.6" stroke="#000" stroke-width="1.95" fill="none"/>
<line x1="310.90" y1="59.1" x2="310.90" y2="68.7" stroke="#000" stroke-width="1.95" fill="none"/>
<line x1="55.9" y1="59.10" x2="69.8" y2="59.10" stroke="#000" stroke-width="1.95" fill="none"/>
<text x="52.0" y="65.7" font-size="18.5" letter-spacing="0.9" text-anchor="end" font-family="Liberation Sans, Arial, sans-serif">1</text>
<line x1="55.9" y1="92.17" x2="69.8" y2="92.17" stroke="#000" stroke-width="1.95" fill="none"/>
<text x="52.0" y="98.8" font-size="18.5" letter-spacing="0.9" text-anchor="end" font-family="Liberation Sans, Arial, sans-serif">0</text>
<line x1="55.9" y1="125.24" x2="69.8" y2="125.24" stroke="#000" stroke-width="1.95" fill="none"/>
<line x1="334.0" y1="125.24" x2="320.0" y2="125.24" stroke="#000" stroke-width="1.95" fill="none"/>
<text x="52.0" y="131.8" font-size="18.5" letter-spacing="0.9" text-anchor="end" font-family="Liberation Sans, Arial, sans-serif">−1</text>
<line x1="55.9" y1="158.31" x2="69.8" y2="158.31" stroke="#000" stroke-width="1.95" fill="none"/>
<line x1="334.0" y1="158.31" x2="320.0" y2="158.31" stroke="#000" stroke-width="1.95" fill="none"/>
<text x="52.0" y="164.9" font-size="18.5" letter-spacing="0.9" text-anchor="end" font-family="Liberation Sans, Arial, sans-serif">−2</text>
<line x1="55.9" y1="191.38" x2="69.8" y2="191.38" stroke="#000" stroke-width="1.95" fill="none"/>
<line x1="334.0" y1="191.38" x2="320.0" y2="191.38" stroke="#000" stroke-width="1.95" fill="none"/>
<text x="52.0" y="198.0" font-size="18.5" letter-spacing="0.9" text-anchor="end" font-family="Liberation Sans, Arial, sans-serif">−3</text>
<line x1="55.9" y1="224.45" x2="69.8" y2="224.45" stroke="#000" stroke-width="1.95" fill="none"/>
<line x1="334.0" y1="224.45" x2="320.0" y2="224.45" stroke="#000" stroke-width="1.95" fill="none"/>
<text x="52.0" y="231.0" font-size="18.5" letter-spacing="0.9" text-anchor="end" font-family="Liberation Sans, Arial, sans-serif">−4</text>
<line x1="55.9" y1="257.52" x2="69.8" y2="257.52" stroke="#000" stroke-width="1.95" fill="none"/>
<line x1="334.0" y1="257.52" x2="320.0" y2="257.52" stroke="#000" stroke-width="1.95" fill="none"/>
<text x="52.0" y="264.1" font-size="18.5" letter-spacing="0.9" text-anchor="end" font-family="Liberation Sans, Arial, sans-serif">−5</text>
<line x1="55.9" y1="290.59" x2="69.8" y2="290.59" stroke="#000" stroke-width="1.95" fill="none"/>
<text x="52.0" y="297.2" font-size="18.5" letter-spacing="0.9" text-anchor="end" font-family="Liberation Sans, Arial, sans-serif">−6</text>
<text x="79.8" y="312.2" font-size="18.5" letter-spacing="0.7" text-anchor="middle" font-family="Liberation Sans, Arial, sans-serif">2.5</text>
<text x="126.2" y="312.2" font-size="18.5" letter-spacing="0.7" text-anchor="middle" font-family="Liberation Sans, Arial, sans-serif">2.6</text>
<text x="172.6" y="312.2" font-size="18.5" letter-spacing="0.7" text-anchor="middle" font-family="Liberation Sans, Arial, sans-serif">2.7</text>
<text x="219.1" y="312.2" font-size="18.5" letter-spacing="0.7" text-anchor="middle" font-family="Liberation Sans, Arial, sans-serif">2.8</text>
<text x="265.5" y="312.2" font-size="18.5" letter-spacing="0.7" text-anchor="middle" font-family="Liberation Sans, Arial, sans-serif">2.9</text>
<text x="311.9" y="312.2" font-size="18.5" letter-spacing="0.7" text-anchor="middle" font-family="Liberation Sans, Arial, sans-serif">3.0</text>
<text x="149" y="334" font-size="18.3" letter-spacing="0.5" font-family="Liberation Sans, Arial, sans-serif">y in SrMO<tspan font-size="14" dy="4.3">y</tspan></text>
<text transform="translate(14.5,169.2) rotate(-90)" font-size="19.5" text-anchor="middle" font-family="Liberation Sans, Arial, sans-serif">Energy (eV/H<tspan font-size="14.4" dy="4.5">2</tspan><tspan dy="-4.5">)</tspan></text>
<polyline points="78.8,70.9 194.8,171.6 252.9,184.8 310.9,174.6" fill="none" stroke="#ff0000" stroke-width="2.6" stroke-dasharray="5.6,4.2"/>
<polyline points="78.8,92.5 194.8,132.0 252.9,170.7" fill="none" stroke="#ff0000" stroke-width="2.6" stroke-dasharray="5.6,4.2"/>
<polyline points="78.8,107.0 194.8,193.9 252.9,192.3 310.9,242.8" fill="none" stroke="#0000ff" stroke-width="2.6" stroke-dasharray="5.6,4.2"/>
<polyline points="78.8,188.5 194.8,230.0 252.9,275.9" fill="none" stroke="#0000ff" stroke-width="2.6" stroke-dasharray="5.6,4.2"/>
<circle cx="78.8" cy="70.9" r="5.3" fill="#ff0000"/>
<circle cx="194.8" cy="171.6" r="5.3" fill="#ff0000"/>
<circle cx="252.9" cy="184.8" r="5.3" fill="#ff0000"/>
<circle cx="310.9" cy="174.6" r="5.3" fill="#ff0000"/>
<rect x="73.6" y="87.3" width="10.4" height="10.4" fill="#ff0000"/>
<rect x="189.7" y="126.8" width="10.4" height="10.4" fill="#ff0000"/>
<rect x="247.7" y="165.5" width="10.4" height="10.4" fill="#ff0000"/>
<circle cx="78.8" cy="107.0" r="5.3" fill="#0000ff"/>
<circle cx="194.8" cy="193.9" r="5.3" fill="#0000ff"/>
<circle cx="252.9" cy="192.3" r="5.3" fill="#0000ff"/>
<circle cx="310.9" cy="242.8" r="5.3" fill="#0000ff"/>
<rect x="73.6" y="183.3" width="10.4" height="10.4" fill="#0000ff"/>
<rect x="189.7" y="224.8" width="10.4" height="10.4" fill="#0000ff"/>
<rect x="247.7" y="270.7" width="10.4" height="10.4" fill="#0000ff"/>
<circle cx="176.8" cy="83.2" r="6.0" fill="#ff0000"/>
<rect x="171.2" y="102.4" width="11.2" height="11.2" fill="#ff0000"/>
<circle cx="293.0" cy="83.3" r="6.0" fill="#0000ff"/>
<rect x="287.4" y="103.4" width="11.2" height="11.2" fill="#0000ff"/>
<text x="188.6" y="88.6" font-size="15" letter-spacing="0.25" font-family="Liberation Sans, Arial, sans-serif"><tspan font-style="italic">E</tspan><tspan font-size="12.5" dy="3.8">red</tspan><tspan dy="-3.8"> (SrFeO</tspan><tspan font-size="12" dy="3.8">y</tspan><tspan dy="-3.8">)</tspan></text>
<text x="188.6" y="113.4" font-size="15" letter-spacing="0.25" font-family="Liberation Sans, Arial, sans-serif"><tspan font-style="italic">E</tspan><tspan font-size="12.5" dy="3.8">H</tspan><tspan dy="-3.8"> (SrFeO</tspan><tspan font-size="12" dy="3.8">y</tspan><tspan dy="-3.8">)</tspan></text>
<text x="304.8" y="88.6" font-size="15" letter-spacing="0.25" font-family="Liberation Sans, Arial, sans-serif"><tspan font-style="italic">E</tspan><tspan font-size="12.5" dy="3.8">red</tspan><tspan dy="-3.8"> (SrCoO</tspan><tspan font-size="12" dy="3.8">y</tspan><tspan dy="-3.8">)</tspan></text>
<text x="304.8" y="113.4" font-size="15" letter-spacing="0.25" font-family="Liberation Sans, Arial, sans-serif"><tspan font-style="italic">E</tspan><tspan font-size="12.5" dy="3.8">H</tspan><tspan dy="-3.8"> (SrCoO</tspan><tspan font-size="12" dy="3.8">y</tspan><tspan dy="-3.8">)</tspan></text>
<text x="12.6" y="32" font-size="19.5" letter-spacing="1.3" font-family="Liberation Sans, Arial, sans-serif">(a)</text>
<text x="54.8" y="12" font-size="15.2" font-family="Liberation Sans, Arial, sans-serif">V<tspan font-size="11" dy="4">O</tspan><tspan dy="-4"> ordering</tspan></text>
<text x="54.6" y="29.1" font-size="15.5" font-family="Liberation Sans, Arial, sans-serif">Brownmillerite phase</text>
<text x="237.3" y="12" font-size="15.2" font-family="Liberation Sans, Arial, sans-serif">V<tspan font-size="11" dy="4">O</tspan><tspan dy="-4"> disordering</tspan></text>
<text x="236.6" y="29.3" font-size="15.5" font-family="Liberation Sans, Arial, sans-serif">Perovskite phase</text>
<line x1="78.4" y1="35.8" x2="78.4" y2="49" stroke="#000" stroke-width="1.4"/>
<polygon points="74.4,47.4 82.4,47.4 78.4,55.4" fill="#000"/>
<path d="M187.7,56.8 C187.7,46.5 190.5,42.2 199,42.2 L246.9,42.2 L250.7,34.4 L254.5,42.2 L305.6,42.2 C314.1,42.2 316.9,46.5 316.9,56.8" fill="none" stroke="#000" stroke-width="1.6" stroke-linejoin="miter"/>
<text x="398.8" y="32.2" font-size="19.2" letter-spacing="1.2" font-family="Liberation Sans, Arial, sans-serif">(b)</text>
<text x="446.8" y="32.5" font-size="19.2" letter-spacing="0.7" font-family="Liberation Sans, Arial, sans-serif">SrMO<tspan font-size="14.6" dy="4.2">2.5</tspan></text>
<text x="589.8" y="88.6" font-size="19.8" font-family="Liberation Sans, Arial, sans-serif">O</text>
<text x="589.8" y="116.8" font-size="19.8" font-family="Liberation Sans, Arial, sans-serif">Sr</text>
<text x="589.8" y="148.8" font-size="19.8" font-family="Liberation Sans, Arial, sans-serif">M = Fe, Co</text>
<text x="597.4" y="206.2" font-size="20" font-family="Liberation Sans, Arial, sans-serif">MO<tspan font-size="15" dy="3.6">6</tspan></text>
<text x="597.4" y="267.5" font-size="20" font-family="Liberation Sans, Arial, sans-serif">MO<tspan font-size="15" dy="3.6">5</tspan></text>
<text x="597.4" y="320.2" font-size="20" font-family="Liberation Sans, Arial, sans-serif">MO<tspan font-size="15" dy="3.6">4</tspan></text>
<text x="13.3" y="376.4" font-size="19.2" letter-spacing="1.2" font-family="Liberation Sans, Arial, sans-serif">(c)</text>
<text x="85.8" y="376" font-size="19.5" letter-spacing="0.6" font-family="Liberation Sans, Arial, sans-serif">SrMO<tspan font-size="14.8" dy="4">2.75</tspan></text>
<text x="289.2" y="375.2" font-size="19.2" letter-spacing="1.2" font-family="Liberation Sans, Arial, sans-serif">(d)</text>
<text x="351.2" y="375.2" font-size="19.5" letter-spacing="0.6" font-family="Liberation Sans, Arial, sans-serif">SrMO<tspan font-size="14.8" dy="4">2.875</tspan></text>
<text x="546.8" y="372.4" font-size="19.2" letter-spacing="1.2" font-family="Liberation Sans, Arial, sans-serif">(e)</text>
<text x="587.3" y="375.4" font-size="19.5" letter-spacing="0.6" font-family="Liberation Sans, Arial, sans-serif">SrMO<tspan font-size="14.8" dy="3.6">3</tspan></text>
<polygon points="469.8,268.4 439.9,266.6 449.6,294.1" fill="#b47357" fill-opacity="0.48" stroke="#e8e8e8" stroke-width="0.60" stroke-opacity="0.40" stroke-linejoin="round"/>
<circle cx="439.9" cy="266.6" r="3.70" fill="url(#g26)"/>
<polygon points="469.8,268.4 439.9,266.6 449.8,246.0" fill="#b47357" fill-opacity="0.48" stroke="#e8e8e8" stroke-width="0.60" stroke-opacity="0.40" stroke-linejoin="round"/>
<polygon points="429.6,271.7 439.9,266.6 449.6,294.1" fill="#b47357" fill-opacity="0.48" stroke="#e8e8e8" stroke-width="0.60" stroke-opacity="0.40" stroke-linejoin="round"/>
<polygon points="429.6,271.7 439.9,266.6 449.8,246.0" fill="#b47357" fill-opacity="0.48" stroke="#e8e8e8" stroke-width="0.60" stroke-opacity="0.40" stroke-linejoin="round"/>
<line x1="449.7" y1="265.6" x2="449.7" y2="270.1" stroke="#333" stroke-width="0.90" stroke-linecap="round"/>
<line x1="449.7" y1="270.1" x2="454.7" y2="270.4" stroke="#333" stroke-width="0.80" stroke-linecap="round"/>
<line x1="449.7" y1="261.2" x2="449.7" y2="265.6" stroke="#333" stroke-width="0.90" stroke-linecap="round"/>
<circle cx="469.8" cy="268.4" r="3.70" fill="url(#g26)"/>
<line x1="449.7" y1="256.9" x2="449.7" y2="261.2" stroke="#333" stroke-width="0.90" stroke-linecap="round"/>
<polygon points="469.8,268.4 459.4,273.6 449.6,294.1" fill="#93624d" fill-opacity="0.80" stroke="#e8e8e8" stroke-width="0.60" stroke-opacity="0.90" stroke-linejoin="round"/>
<line x1="448.0" y1="270.9" x2="449.7" y2="270.1" stroke="#333" stroke-width="0.80" stroke-linecap="round"/>
<line x1="454.7" y1="270.4" x2="459.6" y2="270.7" stroke="#333" stroke-width="0.80" stroke-linecap="round"/>
<line x1="449.7" y1="252.4" x2="449.7" y2="256.9" stroke="#333" stroke-width="0.90" stroke-linecap="round"/>
<line x1="449.8" y1="248.1" x2="449.7" y2="252.4" stroke="#333" stroke-width="0.90" stroke-linecap="round"/>
<polygon points="469.9,180.4 440.1,178.6 449.8,206.1" fill="#b37154" fill-opacity="0.48" stroke="#e8e8e8" stroke-width="0.60" stroke-opacity="0.40" stroke-linejoin="round"/>
<line x1="459.6" y1="270.7" x2="464.6" y2="271.0" stroke="#333" stroke-width="0.80" stroke-linecap="round"/>
<line x1="449.8" y1="243.6" x2="449.8" y2="248.1" stroke="#333" stroke-width="0.90" stroke-linecap="round"/>
<polygon points="469.8,268.4 459.4,273.6 449.8,246.0" fill="#a56a50" fill-opacity="0.80" stroke="#e8e8e8" stroke-width="0.60" stroke-opacity="0.90" stroke-linejoin="round"/>
<line x1="449.8" y1="239.2" x2="449.8" y2="243.6" stroke="#333" stroke-width="0.90" stroke-linecap="round"/>
<line x1="449.8" y1="234.9" x2="449.8" y2="239.2" stroke="#333" stroke-width="0.90" stroke-linecap="round"/>
<line x1="464.6" y1="271.0" x2="469.6" y2="271.3" stroke="#333" stroke-width="0.80" stroke-linecap="round"/>
<line x1="449.8" y1="230.4" x2="449.8" y2="234.9" stroke="#333" stroke-width="0.90" stroke-linecap="round"/>
<circle cx="440.1" cy="178.6" r="3.70" fill="url(#g26)"/>
<circle cx="449.6" cy="294.1" r="3.70" fill="url(#g26)"/>
<polygon points="469.9,180.4 440.1,178.6 450.0,158.0" fill="#b26f53" fill-opacity="0.48" stroke="#e8e8e8" stroke-width="0.60" stroke-opacity="0.40" stroke-linejoin="round"/>
<line x1="449.8" y1="226.1" x2="449.8" y2="230.4" stroke="#333" stroke-width="0.90" stroke-linecap="round"/>
<line x1="446.3" y1="271.8" x2="448.0" y2="270.9" stroke="#333" stroke-width="0.80" stroke-linecap="round"/>
<line x1="469.6" y1="271.3" x2="474.5" y2="271.6" stroke="#333" stroke-width="0.80" stroke-linecap="round"/>
<line x1="449.8" y1="221.6" x2="449.8" y2="226.1" stroke="#333" stroke-width="0.90" stroke-linecap="round"/>
<polygon points="429.6,271.7 459.4,273.6 449.6,294.1" fill="#c57857" fill-opacity="0.80" stroke="#e8e8e8" stroke-width="0.60" stroke-opacity="0.90" stroke-linejoin="round"/>
<line x1="449.8" y1="217.2" x2="449.8" y2="221.6" stroke="#333" stroke-width="0.90" stroke-linecap="round"/>
<polygon points="529.4,272.2 499.6,270.3 509.2,297.9" fill="#b26e52" fill-opacity="0.48" stroke="#e8e8e8" stroke-width="0.60" stroke-opacity="0.40" stroke-linejoin="round"/>
<line x1="474.5" y1="271.6" x2="479.5" y2="271.9" stroke="#333" stroke-width="0.80" stroke-linecap="round"/>
<line x1="449.8" y1="212.9" x2="449.8" y2="217.2" stroke="#333" stroke-width="0.90" stroke-linecap="round"/>
<line x1="449.8" y1="208.4" x2="449.8" y2="212.9" stroke="#333" stroke-width="0.90" stroke-linecap="round"/>
<polygon points="429.9,183.7 440.1,178.6 449.8,206.1" fill="#b26e51" fill-opacity="0.48" stroke="#e8e8e8" stroke-width="0.60" stroke-opacity="0.40" stroke-linejoin="round"/>
<line x1="479.5" y1="271.9" x2="484.5" y2="272.2" stroke="#333" stroke-width="0.80" stroke-linecap="round"/>
<line x1="449.9" y1="204.1" x2="449.8" y2="208.4" stroke="#333" stroke-width="0.90" stroke-linecap="round"/>
<polygon points="429.6,271.7 459.4,273.6 449.8,246.0" fill="#d8805a" fill-opacity="0.80" stroke="#e8e8e8" stroke-width="0.60" stroke-opacity="0.90" stroke-linejoin="round"/>
<circle cx="499.6" cy="270.3" r="3.70" fill="url(#g47)"/>
<polygon points="529.4,272.2 499.6,270.3 509.4,249.7" fill="#b16d50" fill-opacity="0.48" stroke="#e8e8e8" stroke-width="0.60" stroke-opacity="0.40" stroke-linejoin="round"/>
<line x1="449.9" y1="199.6" x2="449.9" y2="204.1" stroke="#333" stroke-width="0.90" stroke-linecap="round"/>
<line x1="444.6" y1="272.6" x2="446.3" y2="271.8" stroke="#333" stroke-width="0.80" stroke-linecap="round"/>
<line x1="484.5" y1="272.2" x2="489.4" y2="272.6" stroke="#333" stroke-width="0.80" stroke-linecap="round"/>
<line x1="449.9" y1="195.2" x2="449.9" y2="199.6" stroke="#333" stroke-width="0.90" stroke-linecap="round"/>
<polygon points="429.9,183.7 440.1,178.6 450.0,158.0" fill="#b16d4f" fill-opacity="0.48" stroke="#e8e8e8" stroke-width="0.60" stroke-opacity="0.40" stroke-linejoin="round"/>
<line x1="449.9" y1="190.9" x2="449.9" y2="195.2" stroke="#333" stroke-width="0.90" stroke-linecap="round"/>
<line x1="449.9" y1="186.4" x2="449.9" y2="190.9" stroke="#333" stroke-width="0.90" stroke-linecap="round"/>
<line x1="489.4" y1="272.6" x2="494.4" y2="272.9" stroke="#333" stroke-width="0.80" stroke-linecap="round"/>
<line x1="449.9" y1="182.1" x2="449.9" y2="186.4" stroke="#333" stroke-width="0.90" stroke-linecap="round"/>
<circle cx="449.8" cy="246.0" r="3.70" fill="url(#g41)"/>
<polygon points="489.2,275.4 499.6,270.3 509.2,297.9" fill="#b06c4e" fill-opacity="0.48" stroke="#e8e8e8" stroke-width="0.60" stroke-opacity="0.40" stroke-linejoin="round"/>
<line x1="449.9" y1="177.6" x2="449.9" y2="182.1" stroke="#333" stroke-width="0.90" stroke-linecap="round"/>
<line x1="494.4" y1="272.9" x2="499.4" y2="273.2" stroke="#333" stroke-width="0.80" stroke-linecap="round"/>
<line x1="449.9" y1="173.2" x2="449.9" y2="177.6" stroke="#333" stroke-width="0.90" stroke-linecap="round"/>
<circle cx="469.9" cy="180.4" r="3.70" fill="url(#g24)"/>
<line x1="442.8" y1="273.5" x2="444.6" y2="272.6" stroke="#333" stroke-width="0.80" stroke-linecap="round"/>
<line x1="449.9" y1="168.8" x2="449.9" y2="173.2" stroke="#333" stroke-width="0.90" stroke-linecap="round"/>
<polygon points="469.9,180.4 459.6,185.6 449.8,206.1" fill="#8e5b45" fill-opacity="0.80" stroke="#e8e8e8" stroke-width="0.60" stroke-opacity="0.90" stroke-linejoin="round"/>
<line x1="499.4" y1="273.2" x2="504.3" y2="273.5" stroke="#333" stroke-width="0.80" stroke-linecap="round"/>
<line x1="449.9" y1="164.4" x2="449.9" y2="168.8" stroke="#333" stroke-width="0.90" stroke-linecap="round"/>
<polygon points="489.2,275.4 499.6,270.3 509.4,249.7" fill="#b06a4d" fill-opacity="0.48" stroke="#e8e8e8" stroke-width="0.60" stroke-opacity="0.40" stroke-linejoin="round"/>
<line x1="449.9" y1="160.1" x2="449.9" y2="164.4" stroke="#333" stroke-width="0.90" stroke-linecap="round"/>
<line x1="504.3" y1="273.5" x2="509.3" y2="273.8" stroke="#333" stroke-width="0.80" stroke-linecap="round"/>
<polygon points="470.1,92.4 440.4,90.5 450.0,118.1" fill="#af6a4c" fill-opacity="0.48" stroke="#e8e8e8" stroke-width="0.60" stroke-opacity="0.40" stroke-linejoin="round"/>
<line x1="450.0" y1="155.6" x2="449.9" y2="160.1" stroke="#333" stroke-width="0.90" stroke-linecap="round"/>
<polygon points="469.9,180.4 459.6,185.6 450.0,158.0" fill="#a16348" fill-opacity="0.80" stroke="#e8e8e8" stroke-width="0.60" stroke-opacity="0.90" stroke-linejoin="round"/>
<line x1="450.0" y1="151.2" x2="450.0" y2="155.6" stroke="#333" stroke-width="0.90" stroke-linecap="round"/>
<line x1="509.3" y1="269.4" x2="509.3" y2="273.8" stroke="#333" stroke-width="0.90" stroke-linecap="round"/>
<circle cx="429.6" cy="271.7" r="3.70" fill="url(#g40)"/>
<line x1="450.0" y1="146.8" x2="450.0" y2="151.2" stroke="#333" stroke-width="0.90" stroke-linecap="round"/>
<line x1="509.3" y1="265.0" x2="509.3" y2="269.4" stroke="#333" stroke-width="0.90" stroke-linecap="round"/>
<circle cx="529.4" cy="272.2" r="3.70" fill="url(#g46)"/>
<line x1="450.0" y1="142.4" x2="450.0" y2="146.8" stroke="#333" stroke-width="0.90" stroke-linecap="round"/>
<line x1="441.1" y1="274.3" x2="442.8" y2="273.5" stroke="#333" stroke-width="0.80" stroke-linecap="round"/>
<line x1="509.3" y1="260.6" x2="509.3" y2="265.0" stroke="#333" stroke-width="0.90" stroke-linecap="round"/>
<circle cx="440.4" cy="90.5" r="3.70" fill="url(#g8)"/>
<polygon points="529.4,272.2 519.0,277.3 509.2,297.9" fill="#8c5842" fill-opacity="0.80" stroke="#e8e8e8" stroke-width="0.60" stroke-opacity="0.90" stroke-linejoin="round"/>
<circle cx="449.8" cy="206.1" r="3.70" fill="url(#g27)"/>
<polygon points="470.1,92.4 440.4,90.5 450.2,70.0" fill="#af694a" fill-opacity="0.48" stroke="#e8e8e8" stroke-width="0.60" stroke-opacity="0.40" stroke-linejoin="round"/>
<line x1="509.3" y1="273.8" x2="507.6" y2="274.7" stroke="#333" stroke-width="0.80" stroke-linecap="round"/>
<line x1="450.0" y1="138.1" x2="450.0" y2="142.4" stroke="#333" stroke-width="0.90" stroke-linecap="round"/>
<line x1="509.3" y1="256.2" x2="509.3" y2="260.6" stroke="#333" stroke-width="0.90" stroke-linecap="round"/>
<line x1="450.0" y1="133.7" x2="450.0" y2="138.1" stroke="#333" stroke-width="0.90" stroke-linecap="round"/>
<line x1="509.4" y1="251.8" x2="509.3" y2="256.2" stroke="#333" stroke-width="0.90" stroke-linecap="round"/>
<polygon points="429.9,183.7 459.6,185.6 449.8,206.1" fill="#c3714f" fill-opacity="0.80" stroke="#e8e8e8" stroke-width="0.60" stroke-opacity="0.90" stroke-linejoin="round"/>
<line x1="450.0" y1="129.2" x2="450.0" y2="133.7" stroke="#333" stroke-width="0.90" stroke-linecap="round"/>
<polygon points="529.5,184.2 499.8,182.3 509.4,209.9" fill="#ae6849" fill-opacity="0.48" stroke="#e8e8e8" stroke-width="0.60" stroke-opacity="0.40" stroke-linejoin="round"/>
<line x1="509.4" y1="247.4" x2="509.4" y2="251.8" stroke="#333" stroke-width="0.90" stroke-linecap="round"/>
<line x1="450.0" y1="124.8" x2="450.0" y2="129.2" stroke="#333" stroke-width="0.90" stroke-linecap="round"/>
<polygon points="529.4,272.2 519.0,277.3 509.4,249.7" fill="#a06045" fill-opacity="0.80" stroke="#e8e8e8" stroke-width="0.60" stroke-opacity="0.90" stroke-linejoin="round"/>
<line x1="509.4" y1="243.0" x2="509.4" y2="247.4" stroke="#333" stroke-width="0.90" stroke-linecap="round"/>
<line x1="450.0" y1="120.4" x2="450.0" y2="124.8" stroke="#333" stroke-width="0.90" stroke-linecap="round"/>
<polygon points="430.1,95.7 440.4,90.5 450.0,118.1" fill="#ae6749" fill-opacity="0.48" stroke="#e8e8e8" stroke-width="0.60" stroke-opacity="0.40" stroke-linejoin="round"/>
<line x1="509.4" y1="238.6" x2="509.4" y2="243.0" stroke="#333" stroke-width="0.90" stroke-linecap="round"/>
<line x1="450.1" y1="116.0" x2="450.0" y2="120.4" stroke="#333" stroke-width="0.90" stroke-linecap="round"/>
<polygon points="429.9,183.7 459.6,185.6 450.0,158.0" fill="#d67a52" fill-opacity="0.80" stroke="#e8e8e8" stroke-width="0.60" stroke-opacity="0.90" stroke-linejoin="round"/>
<line x1="509.4" y1="234.2" x2="509.4" y2="238.6" stroke="#333" stroke-width="0.90" stroke-linecap="round"/>
<line x1="439.4" y1="275.2" x2="441.1" y2="274.3" stroke="#333" stroke-width="0.80" stroke-linecap="round"/>
<circle cx="499.8" cy="182.3" r="3.70" fill="url(#g34)"/>
<circle cx="509.2" cy="297.9" r="3.70" fill="url(#g48)"/>
<polygon points="529.5,184.2 499.8,182.3 509.6,161.7" fill="#ae6648" fill-opacity="0.48" stroke="#e8e8e8" stroke-width="0.60" stroke-opacity="0.40" stroke-linejoin="round"/>
<line x1="450.1" y1="111.7" x2="450.1" y2="116.0" stroke="#333" stroke-width="0.90" stroke-linecap="round"/>
<line x1="509.4" y1="229.8" x2="509.4" y2="234.2" stroke="#333" stroke-width="0.90" stroke-linecap="round"/>
<line x1="507.6" y1="274.7" x2="505.9" y2="275.5" stroke="#333" stroke-width="0.80" stroke-linecap="round"/>
<line x1="450.1" y1="107.2" x2="450.1" y2="111.7" stroke="#333" stroke-width="0.90" stroke-linecap="round"/>
<polygon points="489.2,275.4 459.4,273.6 469.1,301.1" fill="#ad6647" fill-opacity="0.48" stroke="#e8e8e8" stroke-width="0.60" stroke-opacity="0.40" stroke-linejoin="round"/>
<line x1="509.4" y1="225.4" x2="509.4" y2="229.8" stroke="#333" stroke-width="0.90" stroke-linecap="round"/>
<polygon points="489.2,275.4 519.0,277.3 509.2,297.9" fill="#c26f4c" fill-opacity="0.80" stroke="#e8e8e8" stroke-width="0.60" stroke-opacity="0.90" stroke-linejoin="round"/>
<polygon points="430.1,95.7 440.4,90.5 450.2,70.0" fill="#ad6647" fill-opacity="0.48" stroke="#e8e8e8" stroke-width="0.60" stroke-opacity="0.40" stroke-linejoin="round"/>
<line x1="450.1" y1="102.8" x2="450.1" y2="107.2" stroke="#333" stroke-width="0.90" stroke-linecap="round"/>
<line x1="509.4" y1="221.0" x2="509.4" y2="225.4" stroke="#333" stroke-width="0.90" stroke-linecap="round"/>
<line x1="450.1" y1="98.5" x2="450.1" y2="102.8" stroke="#333" stroke-width="0.90" stroke-linecap="round"/>
<line x1="509.4" y1="216.6" x2="509.4" y2="221.0" stroke="#333" stroke-width="0.90" stroke-linecap="round"/>
<line x1="450.1" y1="94.0" x2="450.1" y2="98.5" stroke="#333" stroke-width="0.90" stroke-linecap="round"/>
<line x1="509.4" y1="212.2" x2="509.4" y2="216.6" stroke="#333" stroke-width="0.90" stroke-linecap="round"/>
<circle cx="450.0" cy="158.0" r="3.70" fill="url(#g28)"/>
<polygon points="489.4,187.4 499.8,182.3 509.4,209.9" fill="#ad6546" fill-opacity="0.48" stroke="#e8e8e8" stroke-width="0.60" stroke-opacity="0.40" stroke-linejoin="round"/>
<circle cx="459.4" cy="273.6" r="3.70" fill="url(#g28)"/>
<polygon points="489.2,275.4 459.4,273.6 469.3,253.0" fill="#ad6546" fill-opacity="0.48" stroke="#e8e8e8" stroke-width="0.60" stroke-opacity="0.40" stroke-linejoin="round"/>
<line x1="509.4" y1="207.8" x2="509.4" y2="212.2" stroke="#333" stroke-width="0.90" stroke-linecap="round"/>
<polygon points="489.2,275.4 519.0,277.3 509.4,249.7" fill="#d67850" fill-opacity="0.80" stroke="#e8e8e8" stroke-width="0.60" stroke-opacity="0.90" stroke-linejoin="round"/>
<line x1="450.1" y1="94.0" x2="455.1" y2="94.4" stroke="#333" stroke-width="0.80" stroke-linecap="round"/>
<line x1="437.7" y1="276.0" x2="439.4" y2="275.2" stroke="#333" stroke-width="0.80" stroke-linecap="round"/>
<line x1="509.5" y1="203.4" x2="509.4" y2="207.8" stroke="#333" stroke-width="0.90" stroke-linecap="round"/>
<circle cx="470.1" cy="92.4" r="3.70" fill="url(#g5)"/>
<line x1="505.9" y1="275.5" x2="504.1" y2="276.4" stroke="#333" stroke-width="0.80" stroke-linecap="round"/>
<polygon points="470.1,92.4 459.9,97.5 450.0,118.1" fill="#89533c" fill-opacity="0.80" stroke="#e8e8e8" stroke-width="0.60" stroke-opacity="0.90" stroke-linejoin="round"/>
<line x1="509.5" y1="199.0" x2="509.5" y2="203.4" stroke="#333" stroke-width="0.90" stroke-linecap="round"/>
<line x1="448.4" y1="94.9" x2="450.1" y2="94.0" stroke="#333" stroke-width="0.80" stroke-linecap="round"/>
<line x1="455.1" y1="94.4" x2="460.0" y2="94.7" stroke="#333" stroke-width="0.80" stroke-linecap="round"/>
<polygon points="489.4,187.4 499.8,182.3 509.6,161.7" fill="#ac6445" fill-opacity="0.48" stroke="#e8e8e8" stroke-width="0.60" stroke-opacity="0.40" stroke-linejoin="round"/>
<line x1="509.5" y1="194.6" x2="509.5" y2="199.0" stroke="#333" stroke-width="0.90" stroke-linecap="round"/>
<line x1="509.5" y1="190.2" x2="509.5" y2="194.6" stroke="#333" stroke-width="0.90" stroke-linecap="round"/>
<polygon points="449.1,278.7 459.4,273.6 469.1,301.1" fill="#ac6344" fill-opacity="0.48" stroke="#e8e8e8" stroke-width="0.60" stroke-opacity="0.40" stroke-linejoin="round"/>
<line x1="460.0" y1="94.7" x2="465.0" y2="95.0" stroke="#333" stroke-width="0.80" stroke-linecap="round"/>
<line x1="509.5" y1="185.8" x2="509.5" y2="190.2" stroke="#333" stroke-width="0.90" stroke-linecap="round"/>
<polygon points="470.1,92.4 459.9,97.5 450.2,70.0" fill="#9d5c40" fill-opacity="0.80" stroke="#e8e8e8" stroke-width="0.60" stroke-opacity="0.90" stroke-linejoin="round"/>
<circle cx="509.4" cy="249.7" r="3.70" fill="url(#g49)"/>
<circle cx="479.0" cy="253.3" r="4.30" fill="url(#g50)"/>
<circle cx="499.0" cy="259.0" r="4.30" fill="url(#g50)"/>
<line x1="509.5" y1="181.4" x2="509.5" y2="185.8" stroke="#333" stroke-width="0.90" stroke-linecap="round"/>
<circle cx="429.9" cy="183.7" r="3.70" fill="url(#g25)"/>
<line x1="436.0" y1="276.9" x2="437.7" y2="276.0" stroke="#333" stroke-width="0.80" stroke-linecap="round"/>
<line x1="465.0" y1="95.0" x2="470.0" y2="95.3" stroke="#333" stroke-width="0.80" stroke-linecap="round"/>
<line x1="509.5" y1="177.0" x2="509.5" y2="181.4" stroke="#333" stroke-width="0.90" stroke-linecap="round"/>
<circle cx="529.5" cy="184.2" r="3.70" fill="url(#g33)"/>
<line x1="504.1" y1="276.4" x2="502.4" y2="277.2" stroke="#333" stroke-width="0.80" stroke-linecap="round"/>
<polygon points="449.1,278.7 459.4,273.6 469.3,253.0" fill="#ab6242" fill-opacity="0.48" stroke="#e8e8e8" stroke-width="0.60" stroke-opacity="0.40" stroke-linejoin="round"/>
<line x1="509.5" y1="172.6" x2="509.5" y2="177.0" stroke="#333" stroke-width="0.90" stroke-linecap="round"/>
<polygon points="529.5,184.2 519.2,189.3 509.4,209.9" fill="#87513a" fill-opacity="0.80" stroke="#e8e8e8" stroke-width="0.60" stroke-opacity="0.90" stroke-linejoin="round"/>
<circle cx="450.0" cy="118.1" r="3.70" fill="url(#g9)"/>
<line x1="446.7" y1="95.8" x2="448.4" y2="94.9" stroke="#333" stroke-width="0.80" stroke-linecap="round"/>
<line x1="509.5" y1="168.2" x2="509.5" y2="172.6" stroke="#333" stroke-width="0.90" stroke-linecap="round"/>
<line x1="470.0" y1="95.3" x2="474.9" y2="95.6" stroke="#333" stroke-width="0.80" stroke-linecap="round"/>
<line x1="509.6" y1="163.8" x2="509.5" y2="168.2" stroke="#333" stroke-width="0.90" stroke-linecap="round"/>
<polygon points="430.1,95.7 459.9,97.5 450.0,118.1" fill="#c06b47" fill-opacity="0.80" stroke="#e8e8e8" stroke-width="0.60" stroke-opacity="0.90" stroke-linejoin="round"/>
<polygon points="529.8,96.2 499.9,94.3 509.6,121.9" fill="#ab6141" fill-opacity="0.48" stroke="#e8e8e8" stroke-width="0.60" stroke-opacity="0.40" stroke-linejoin="round"/>
<line x1="509.6" y1="159.4" x2="509.6" y2="163.8" stroke="#333" stroke-width="0.90" stroke-linecap="round"/>
<line x1="474.9" y1="95.6" x2="479.9" y2="95.9" stroke="#333" stroke-width="0.80" stroke-linecap="round"/>
<polygon points="529.5,184.2 519.2,189.3 509.6,161.7" fill="#9b593d" fill-opacity="0.80" stroke="#e8e8e8" stroke-width="0.60" stroke-opacity="0.90" stroke-linejoin="round"/>
<line x1="509.6" y1="155.0" x2="509.6" y2="159.4" stroke="#333" stroke-width="0.90" stroke-linecap="round"/>
<circle cx="489.2" cy="275.4" r="3.70" fill="url(#g42)"/>
<line x1="509.6" y1="150.6" x2="509.6" y2="155.0" stroke="#333" stroke-width="0.90" stroke-linecap="round"/>
<polygon points="489.2,275.4 478.9,280.6 469.1,301.1" fill="#864f37" fill-opacity="0.80" stroke="#e8e8e8" stroke-width="0.60" stroke-opacity="0.90" stroke-linejoin="round"/>
<line x1="434.2" y1="277.7" x2="436.0" y2="276.9" stroke="#333" stroke-width="0.80" stroke-linecap="round"/>
<line x1="479.9" y1="95.9" x2="484.9" y2="96.2" stroke="#333" stroke-width="0.80" stroke-linecap="round"/>
<polygon points="430.1,95.7 459.9,97.5 450.2,70.0" fill="#d4744a" fill-opacity="0.80" stroke="#e8e8e8" stroke-width="0.60" stroke-opacity="0.90" stroke-linejoin="round"/>
<line x1="509.6" y1="146.2" x2="509.6" y2="150.6" stroke="#333" stroke-width="0.90" stroke-linecap="round"/>
<line x1="502.4" y1="277.2" x2="500.7" y2="278.1" stroke="#333" stroke-width="0.80" stroke-linecap="round"/>
<circle cx="499.9" cy="94.3" r="3.70" fill="url(#g16)"/>
<circle cx="509.4" cy="209.9" r="3.70" fill="url(#g35)"/>
<polygon points="529.8,96.2 499.9,94.3 509.8,73.7" fill="#aa6040" fill-opacity="0.48" stroke="#e8e8e8" stroke-width="0.60" stroke-opacity="0.40" stroke-linejoin="round"/>
<line x1="509.6" y1="141.8" x2="509.6" y2="146.2" stroke="#333" stroke-width="0.90" stroke-linecap="round"/>
<line x1="444.9" y1="96.6" x2="446.7" y2="95.8" stroke="#333" stroke-width="0.80" stroke-linecap="round"/>
<polygon points="488.0,142.6 509.6,121.9 509.4,145.9" fill="#f52df5" fill-opacity="0.92" stroke="#f0d0f0" stroke-width="0.60" stroke-opacity="0.8" stroke-linejoin="round"/>
<circle cx="500.0" cy="210.3" r="4.30" fill="url(#g50)"/>
<line x1="484.9" y1="96.2" x2="489.8" y2="96.5" stroke="#333" stroke-width="0.80" stroke-linecap="round"/>
<polygon points="489.4,187.4 459.6,185.6 469.3,213.1" fill="#aa5f3f" fill-opacity="0.48" stroke="#e8e8e8" stroke-width="0.60" stroke-opacity="0.40" stroke-linejoin="round"/>
<line x1="509.6" y1="137.4" x2="509.6" y2="141.8" stroke="#333" stroke-width="0.90" stroke-linecap="round"/>
<polygon points="509.6,121.9 509.4,145.9 509.6,161.7" fill="#e628e6" fill-opacity="0.92" stroke="#f0d0f0" stroke-width="0.60" stroke-opacity="0.8" stroke-linejoin="round"/>
<polygon points="488.0,142.6 509.4,145.9 509.6,161.7" fill="#eb23eb" fill-opacity="0.92" stroke="#f0d0f0" stroke-width="0.60" stroke-opacity="0.8" stroke-linejoin="round"/>
<polygon points="489.4,187.4 519.2,189.3 509.4,209.9" fill="#bf6944" fill-opacity="0.80" stroke="#e8e8e8" stroke-width="0.60" stroke-opacity="0.90" stroke-linejoin="round"/>
<polygon points="489.2,275.4 478.9,280.6 469.3,253.0" fill="#9a583b" fill-opacity="0.80" stroke="#e8e8e8" stroke-width="0.60" stroke-opacity="0.90" stroke-linejoin="round"/>
<line x1="509.6" y1="133.0" x2="509.6" y2="137.4" stroke="#333" stroke-width="0.90" stroke-linecap="round"/>
<line x1="489.8" y1="96.5" x2="494.8" y2="96.9" stroke="#333" stroke-width="0.80" stroke-linecap="round"/>
<line x1="509.6" y1="128.6" x2="509.6" y2="133.0" stroke="#333" stroke-width="0.90" stroke-linecap="round"/>
<line x1="509.6" y1="124.2" x2="509.6" y2="128.6" stroke="#333" stroke-width="0.90" stroke-linecap="round"/>
<circle cx="450.2" cy="70.0" r="3.70" fill="url(#g10)"/>
<polygon points="489.6,99.4 499.9,94.3 509.6,121.9" fill="#a95e3e" fill-opacity="0.48" stroke="#e8e8e8" stroke-width="0.60" stroke-opacity="0.40" stroke-linejoin="round"/>
<circle cx="459.6" cy="185.6" r="3.70" fill="url(#g10)"/>
<circle cx="469.1" cy="301.1" r="3.70" fill="url(#g10)"/>
<line x1="432.5" y1="278.6" x2="434.2" y2="277.7" stroke="#333" stroke-width="0.80" stroke-linecap="round"/>
<polygon points="489.4,187.4 459.6,185.6 469.5,165.0" fill="#a95e3e" fill-opacity="0.48" stroke="#e8e8e8" stroke-width="0.60" stroke-opacity="0.40" stroke-linejoin="round"/>
<line x1="509.6" y1="119.8" x2="509.6" y2="124.2" stroke="#333" stroke-width="0.90" stroke-linecap="round"/>
<line x1="494.8" y1="96.9" x2="499.8" y2="97.2" stroke="#333" stroke-width="0.80" stroke-linecap="round"/>
<polygon points="489.4,187.4 519.2,189.3 509.6,161.7" fill="#d47248" fill-opacity="0.80" stroke="#e8e8e8" stroke-width="0.60" stroke-opacity="0.90" stroke-linejoin="round"/>
<line x1="500.7" y1="278.1" x2="499.0" y2="278.9" stroke="#333" stroke-width="0.80" stroke-linecap="round"/>
<polygon points="443.1,233.2 469.3,213.1 468.8,237.2" fill="#c032c4" fill-opacity="0.92" stroke="#f0d0f0" stroke-width="0.60" stroke-opacity="0.8" stroke-linejoin="round"/>
<polygon points="449.1,278.7 419.4,276.8 429.0,304.4" fill="#a95d3d" fill-opacity="0.48" stroke="#e8e8e8" stroke-width="0.60" stroke-opacity="0.40" stroke-linejoin="round"/>
<line x1="509.7" y1="115.4" x2="509.6" y2="119.8" stroke="#333" stroke-width="0.90" stroke-linecap="round"/>
<polygon points="443.1,233.2 468.8,237.2 469.3,253.0" fill="#961e9b" fill-opacity="0.92" stroke="#f0d0f0" stroke-width="0.60" stroke-opacity="0.8" stroke-linejoin="round"/>
<polygon points="449.1,278.7 478.9,280.6 469.1,301.1" fill="#be6742" fill-opacity="0.80" stroke="#e8e8e8" stroke-width="0.60" stroke-opacity="0.90" stroke-linejoin="round"/>
<line x1="443.2" y1="97.5" x2="444.9" y2="96.6" stroke="#333" stroke-width="0.80" stroke-linecap="round"/>
<line x1="509.7" y1="111.0" x2="509.7" y2="115.4" stroke="#333" stroke-width="0.90" stroke-linecap="round"/>
<line x1="499.8" y1="97.2" x2="504.7" y2="97.5" stroke="#333" stroke-width="0.80" stroke-linecap="round"/>
<polygon points="489.6,99.4 499.9,94.3 509.8,73.7" fill="#a85d3c" fill-opacity="0.48" stroke="#e8e8e8" stroke-width="0.60" stroke-opacity="0.40" stroke-linejoin="round"/>
<line x1="509.7" y1="106.6" x2="509.7" y2="111.0" stroke="#333" stroke-width="0.90" stroke-linecap="round"/>
<line x1="509.7" y1="102.2" x2="509.7" y2="106.6" stroke="#333" stroke-width="0.90" stroke-linecap="round"/>
<polygon points="449.4,190.7 459.6,185.6 469.3,213.1" fill="#a85c3c" fill-opacity="0.48" stroke="#e8e8e8" stroke-width="0.60" stroke-opacity="0.40" stroke-linejoin="round"/>
<circle cx="419.4" cy="276.8" r="3.70" fill="url(#g38)"/>
<line x1="504.7" y1="97.5" x2="509.7" y2="97.8" stroke="#333" stroke-width="0.80" stroke-linecap="round"/>
<polygon points="449.1,278.7 419.4,276.8 429.2,256.2" fill="#a85c3c" fill-opacity="0.48" stroke="#e8e8e8" stroke-width="0.60" stroke-opacity="0.40" stroke-linejoin="round"/>
<polygon points="449.1,278.7 478.9,280.6 469.3,253.0" fill="#d37146" fill-opacity="0.80" stroke="#e8e8e8" stroke-width="0.60" stroke-opacity="0.90" stroke-linejoin="round"/>
<line x1="509.7" y1="97.8" x2="509.7" y2="102.2" stroke="#333" stroke-width="0.90" stroke-linecap="round"/>
<circle cx="509.6" cy="161.7" r="3.70" fill="url(#g6)"/>
<circle cx="458.2" cy="173.2" r="4.30" fill="url(#g50)"/>
<circle cx="498.6" cy="171.3" r="4.30" fill="url(#g50)"/>
<circle cx="519.0" cy="277.3" r="3.70" fill="url(#g6)"/>
<circle cx="488.0" cy="142.6" r="3.70" fill="url(#g2)"/>
<circle cx="509.4" cy="145.9" r="3.70" fill="url(#g2)"/>
<line x1="430.8" y1="279.4" x2="432.5" y2="278.6" stroke="#333" stroke-width="0.80" stroke-linecap="round"/>
<circle cx="430.1" cy="95.7" r="3.70" fill="url(#g6)"/>
<line x1="499.0" y1="278.9" x2="497.3" y2="279.8" stroke="#333" stroke-width="0.80" stroke-linecap="round"/>
<circle cx="529.8" cy="96.2" r="3.70" fill="url(#g14)"/>
<line x1="441.5" y1="98.3" x2="443.2" y2="97.5" stroke="#333" stroke-width="0.80" stroke-linecap="round"/>
<polygon points="449.4,190.7 459.6,185.6 469.5,165.0" fill="#a85b3a" fill-opacity="0.48" stroke="#e8e8e8" stroke-width="0.60" stroke-opacity="0.40" stroke-linejoin="round"/>
<polygon points="529.8,96.2 519.5,101.3 509.6,121.9" fill="#824931" fill-opacity="0.80" stroke="#e8e8e8" stroke-width="0.60" stroke-opacity="0.90" stroke-linejoin="round"/>
<line x1="509.7" y1="97.8" x2="508.0" y2="98.7" stroke="#333" stroke-width="0.80" stroke-linecap="round"/>
<polygon points="409.1,281.9 419.4,276.8 429.0,304.4" fill="#a75b3a" fill-opacity="0.48" stroke="#e8e8e8" stroke-width="0.60" stroke-opacity="0.40" stroke-linejoin="round"/>
<circle cx="469.3" cy="253.0" r="3.70" fill="url(#g43)"/>
<circle cx="443.1" cy="233.2" r="3.70" fill="url(#g2)"/>
<circle cx="468.8" cy="237.2" r="3.70" fill="url(#g2)"/>
<polygon points="529.8,96.2 519.5,101.3 509.8,73.7" fill="#975235" fill-opacity="0.80" stroke="#e8e8e8" stroke-width="0.60" stroke-opacity="0.90" stroke-linejoin="round"/>
<line x1="429.1" y1="280.3" x2="430.8" y2="279.4" stroke="#333" stroke-width="0.80" stroke-linecap="round"/>
<circle cx="489.4" cy="187.4" r="3.70" fill="url(#g29)"/>
<polygon points="409.1,281.9 419.4,276.8 429.2,256.2" fill="#a75938" fill-opacity="0.48" stroke="#e8e8e8" stroke-width="0.60" stroke-opacity="0.40" stroke-linejoin="round"/>
<polygon points="489.4,187.4 479.1,192.6 469.3,213.1" fill="#81482f" fill-opacity="0.80" stroke="#e8e8e8" stroke-width="0.60" stroke-opacity="0.90" stroke-linejoin="round"/>
<line x1="497.3" y1="279.8" x2="495.6" y2="280.6" stroke="#333" stroke-width="0.80" stroke-linecap="round"/>
<line x1="439.8" y1="99.2" x2="441.5" y2="98.3" stroke="#333" stroke-width="0.80" stroke-linecap="round"/>
<circle cx="509.6" cy="121.9" r="3.70" fill="url(#g17)"/>
<line x1="508.0" y1="98.7" x2="506.3" y2="99.5" stroke="#333" stroke-width="0.80" stroke-linecap="round"/>
<circle cx="459.0" cy="125.3" r="4.30" fill="url(#g50)"/>
<circle cx="499.0" cy="122.4" r="4.30" fill="url(#g50)"/>
<line x1="429.1" y1="275.9" x2="429.1" y2="280.3" stroke="#333" stroke-width="0.90" stroke-linecap="round"/>
<polygon points="489.6,99.4 459.9,97.5 469.5,125.1" fill="#a65837" fill-opacity="0.48" stroke="#e8e8e8" stroke-width="0.60" stroke-opacity="0.40" stroke-linejoin="round"/>
<polygon points="489.6,99.4 519.5,101.3 509.6,121.9" fill="#bc633c" fill-opacity="0.80" stroke="#e8e8e8" stroke-width="0.60" stroke-opacity="0.90" stroke-linejoin="round"/>
<line x1="434.1" y1="280.6" x2="429.1" y2="280.3" stroke="#333" stroke-width="0.80" stroke-linecap="round"/>
<polygon points="489.4,187.4 479.1,192.6 469.5,165.0" fill="#965133" fill-opacity="0.80" stroke="#e8e8e8" stroke-width="0.60" stroke-opacity="0.90" stroke-linejoin="round"/>
<line x1="429.1" y1="271.5" x2="429.1" y2="275.9" stroke="#333" stroke-width="0.90" stroke-linecap="round"/>
<circle cx="449.1" cy="278.7" r="3.70" fill="url(#g36)"/>
<line x1="429.1" y1="267.1" x2="429.1" y2="271.5" stroke="#333" stroke-width="0.90" stroke-linecap="round"/>
<polygon points="449.1,278.7 438.9,283.8 429.0,304.4" fill="#7f462d" fill-opacity="0.80" stroke="#e8e8e8" stroke-width="0.60" stroke-opacity="0.90" stroke-linejoin="round"/>
<line x1="439.0" y1="280.9" x2="434.1" y2="280.6" stroke="#333" stroke-width="0.80" stroke-linecap="round"/>
<line x1="429.1" y1="262.7" x2="429.1" y2="267.1" stroke="#333" stroke-width="0.90" stroke-linecap="round"/>
<circle cx="459.9" cy="97.5" r="3.70" fill="url(#g7)"/>
<circle cx="469.3" cy="213.1" r="3.70" fill="url(#g31)"/>
<line x1="495.6" y1="280.6" x2="493.9" y2="281.5" stroke="#333" stroke-width="0.80" stroke-linecap="round"/>
<polygon points="489.6,99.4 459.9,97.5 469.7,77.0" fill="#a55736" fill-opacity="0.48" stroke="#e8e8e8" stroke-width="0.60" stroke-opacity="0.40" stroke-linejoin="round"/>
<line x1="429.1" y1="258.3" x2="429.1" y2="262.7" stroke="#333" stroke-width="0.90" stroke-linecap="round"/>
<polygon points="489.6,99.4 519.5,101.3 509.8,73.7" fill="#d26c40" fill-opacity="0.80" stroke="#e8e8e8" stroke-width="0.60" stroke-opacity="0.90" stroke-linejoin="round"/>
<polygon points="469.5,125.1 448.9,142.3 469.5,165.0" fill="#a826ac" fill-opacity="0.92" stroke="#f0d0f0" stroke-width="0.60" stroke-opacity="0.8" stroke-linejoin="round"/>
<line x1="438.1" y1="100.0" x2="439.8" y2="99.2" stroke="#333" stroke-width="0.80" stroke-linecap="round"/>
<polygon points="449.4,190.7 419.6,188.8 429.2,216.4" fill="#a55735" fill-opacity="0.48" stroke="#e8e8e8" stroke-width="0.60" stroke-opacity="0.40" stroke-linejoin="round"/>
<line x1="444.0" y1="281.2" x2="439.0" y2="280.9" stroke="#333" stroke-width="0.80" stroke-linecap="round"/>
<line x1="429.2" y1="253.9" x2="429.1" y2="258.3" stroke="#333" stroke-width="0.90" stroke-linecap="round"/>
<polygon points="469.5,125.1 484.4,141.7 469.5,165.0" fill="#b628ba" fill-opacity="0.92" stroke="#f0d0f0" stroke-width="0.60" stroke-opacity="0.8" stroke-linejoin="round"/>
<polygon points="449.4,190.7 479.1,192.6 469.3,213.1" fill="#bc613a" fill-opacity="0.80" stroke="#e8e8e8" stroke-width="0.60" stroke-opacity="0.90" stroke-linejoin="round"/>
<line x1="506.3" y1="99.5" x2="504.6" y2="100.4" stroke="#333" stroke-width="0.80" stroke-linecap="round"/>
<polygon points="449.1,278.7 438.9,283.8 429.2,256.2" fill="#954f31" fill-opacity="0.80" stroke="#e8e8e8" stroke-width="0.60" stroke-opacity="0.90" stroke-linejoin="round"/>
<line x1="429.2" y1="249.5" x2="429.2" y2="253.9" stroke="#333" stroke-width="0.90" stroke-linecap="round"/>
<line x1="429.2" y1="245.1" x2="429.2" y2="249.5" stroke="#333" stroke-width="0.90" stroke-linecap="round"/>
<line x1="449.0" y1="281.6" x2="444.0" y2="281.2" stroke="#333" stroke-width="0.80" stroke-linecap="round"/>
<line x1="429.2" y1="240.7" x2="429.2" y2="245.1" stroke="#333" stroke-width="0.90" stroke-linecap="round"/>
<polygon points="449.6,102.7 459.9,97.5 469.5,125.1" fill="#a55634" fill-opacity="0.48" stroke="#e8e8e8" stroke-width="0.60" stroke-opacity="0.40" stroke-linejoin="round"/>
<circle cx="419.6" cy="188.8" r="3.70" fill="url(#g21)"/>
<circle cx="429.0" cy="304.4" r="3.70" fill="url(#g21)"/>
<polygon points="449.4,190.7 419.6,188.8 429.4,168.2" fill="#a55534" fill-opacity="0.48" stroke="#e8e8e8" stroke-width="0.60" stroke-opacity="0.40" stroke-linejoin="round"/>
<line x1="429.2" y1="236.3" x2="429.2" y2="240.7" stroke="#333" stroke-width="0.90" stroke-linecap="round"/>
<polygon points="449.4,190.7 479.1,192.6 469.5,165.0" fill="#d26b3e" fill-opacity="0.80" stroke="#e8e8e8" stroke-width="0.60" stroke-opacity="0.90" stroke-linejoin="round"/>
<line x1="453.9" y1="281.9" x2="449.0" y2="281.6" stroke="#333" stroke-width="0.80" stroke-linecap="round"/>
<circle cx="509.8" cy="73.7" r="3.70" fill="url(#g18)"/>
<circle cx="519.2" cy="189.3" r="3.70" fill="url(#g18)"/>
<line x1="493.9" y1="281.5" x2="492.1" y2="282.3" stroke="#333" stroke-width="0.80" stroke-linecap="round"/>
<line x1="429.2" y1="231.9" x2="429.2" y2="236.3" stroke="#333" stroke-width="0.90" stroke-linecap="round"/>
<polygon points="409.1,281.9 438.9,283.8 429.0,304.4" fill="#bb6038" fill-opacity="0.80" stroke="#e8e8e8" stroke-width="0.60" stroke-opacity="0.90" stroke-linejoin="round"/>
<line x1="436.4" y1="100.9" x2="438.1" y2="100.0" stroke="#333" stroke-width="0.80" stroke-linecap="round"/>
<line x1="429.2" y1="227.5" x2="429.2" y2="231.9" stroke="#333" stroke-width="0.90" stroke-linecap="round"/>
<polygon points="508.8,282.4 478.9,280.6 488.6,308.1" fill="#a45532" fill-opacity="0.48" stroke="#e8e8e8" stroke-width="0.60" stroke-opacity="0.40" stroke-linejoin="round"/>
<line x1="458.9" y1="282.2" x2="453.9" y2="281.9" stroke="#333" stroke-width="0.80" stroke-linecap="round"/>
<line x1="504.6" y1="100.4" x2="502.8" y2="101.2" stroke="#333" stroke-width="0.80" stroke-linecap="round"/>
<polygon points="449.6,102.7 459.9,97.5 469.7,77.0" fill="#a45432" fill-opacity="0.48" stroke="#e8e8e8" stroke-width="0.60" stroke-opacity="0.40" stroke-linejoin="round"/>
<line x1="429.2" y1="223.1" x2="429.2" y2="227.5" stroke="#333" stroke-width="0.90" stroke-linecap="round"/>
<line x1="429.2" y1="218.7" x2="429.2" y2="223.1" stroke="#333" stroke-width="0.90" stroke-linecap="round"/>
<polygon points="409.2,193.9 419.6,188.8 429.2,216.4" fill="#a45432" fill-opacity="0.48" stroke="#e8e8e8" stroke-width="0.60" stroke-opacity="0.40" stroke-linejoin="round"/>
<line x1="463.9" y1="282.5" x2="458.9" y2="282.2" stroke="#333" stroke-width="0.80" stroke-linecap="round"/>
<line x1="429.2" y1="214.3" x2="429.2" y2="218.7" stroke="#333" stroke-width="0.90" stroke-linecap="round"/>
<polygon points="409.1,281.9 438.9,283.8 429.2,256.2" fill="#d1693d" fill-opacity="0.80" stroke="#e8e8e8" stroke-width="0.60" stroke-opacity="0.90" stroke-linejoin="round"/>
<circle cx="469.5" cy="165.0" r="3.70" fill="url(#g32)"/>
<circle cx="478.9" cy="280.6" r="3.70" fill="url(#g32)"/>
<circle cx="448.9" cy="142.3" r="3.70" fill="url(#g2)"/>
<circle cx="484.4" cy="141.7" r="3.70" fill="url(#g2)"/>
<polygon points="508.8,282.4 478.9,280.6 488.8,260.0" fill="#a35331" fill-opacity="0.48" stroke="#e8e8e8" stroke-width="0.60" stroke-opacity="0.40" stroke-linejoin="round"/>
<line x1="429.3" y1="209.9" x2="429.2" y2="214.3" stroke="#333" stroke-width="0.90" stroke-linecap="round"/>
<line x1="468.8" y1="282.8" x2="463.9" y2="282.5" stroke="#333" stroke-width="0.80" stroke-linecap="round"/>
<line x1="429.3" y1="205.5" x2="429.3" y2="209.9" stroke="#333" stroke-width="0.90" stroke-linecap="round"/>
<line x1="492.1" y1="282.3" x2="490.4" y2="283.2" stroke="#333" stroke-width="0.80" stroke-linecap="round"/>
<circle cx="489.6" cy="99.4" r="3.70" fill="url(#g11)"/>
<polygon points="409.2,193.9 419.6,188.8 429.4,168.2" fill="#a35330" fill-opacity="0.48" stroke="#e8e8e8" stroke-width="0.60" stroke-opacity="0.40" stroke-linejoin="round"/>
<line x1="429.3" y1="201.1" x2="429.3" y2="205.5" stroke="#333" stroke-width="0.90" stroke-linecap="round"/>
<polygon points="489.6,99.4 479.4,104.5 469.5,125.1" fill="#7c4026" fill-opacity="0.80" stroke="#e8e8e8" stroke-width="0.60" stroke-opacity="0.90" stroke-linejoin="round"/>
<line x1="434.6" y1="101.7" x2="436.4" y2="100.9" stroke="#333" stroke-width="0.80" stroke-linecap="round"/>
<line x1="429.3" y1="196.7" x2="429.3" y2="201.1" stroke="#333" stroke-width="0.90" stroke-linecap="round"/>
<line x1="473.8" y1="283.1" x2="468.8" y2="282.8" stroke="#333" stroke-width="0.80" stroke-linecap="round"/>
<line x1="502.8" y1="101.2" x2="501.1" y2="102.1" stroke="#333" stroke-width="0.80" stroke-linecap="round"/>
<line x1="429.3" y1="192.3" x2="429.3" y2="196.7" stroke="#333" stroke-width="0.90" stroke-linecap="round"/>
<circle cx="429.2" cy="256.2" r="3.70" fill="url(#g39)"/>
<polygon points="468.6,285.7 478.9,280.6 488.6,308.1" fill="#a3522f" fill-opacity="0.48" stroke="#e8e8e8" stroke-width="0.60" stroke-opacity="0.40" stroke-linejoin="round"/>
<line x1="429.3" y1="187.9" x2="429.3" y2="192.3" stroke="#333" stroke-width="0.90" stroke-linecap="round"/>
<line x1="478.8" y1="283.4" x2="473.8" y2="283.1" stroke="#333" stroke-width="0.80" stroke-linecap="round"/>
<polygon points="489.6,99.4 479.4,104.5 469.7,77.0" fill="#92492b" fill-opacity="0.80" stroke="#e8e8e8" stroke-width="0.60" stroke-opacity="0.90" stroke-linejoin="round"/>
<line x1="429.3" y1="183.5" x2="429.3" y2="187.9" stroke="#333" stroke-width="0.90" stroke-linecap="round"/>
<circle cx="449.4" cy="190.7" r="3.70" fill="url(#g19)"/>
<line x1="429.3" y1="179.1" x2="429.3" y2="183.5" stroke="#333" stroke-width="0.90" stroke-linecap="round"/>
<polygon points="449.4,190.7 439.1,195.8 429.2,216.4" fill="#7a3e24" fill-opacity="0.80" stroke="#e8e8e8" stroke-width="0.60" stroke-opacity="0.90" stroke-linejoin="round"/>
<line x1="483.7" y1="283.7" x2="478.8" y2="283.4" stroke="#333" stroke-width="0.80" stroke-linecap="round"/>
<line x1="490.4" y1="283.2" x2="488.7" y2="284.1" stroke="#333" stroke-width="0.80" stroke-linecap="round"/>
<line x1="429.3" y1="174.7" x2="429.3" y2="179.1" stroke="#333" stroke-width="0.90" stroke-linecap="round"/>
<polygon points="468.6,285.7 478.9,280.6 488.8,260.0" fill="#a2512e" fill-opacity="0.48" stroke="#e8e8e8" stroke-width="0.60" stroke-opacity="0.40" stroke-linejoin="round"/>
<circle cx="469.5" cy="125.1" r="3.70" fill="url(#g12)"/>
<line x1="432.9" y1="102.6" x2="434.6" y2="101.7" stroke="#333" stroke-width="0.80" stroke-linecap="round"/>
<line x1="429.4" y1="170.3" x2="429.3" y2="174.7" stroke="#333" stroke-width="0.90" stroke-linecap="round"/>
<line x1="501.1" y1="102.1" x2="499.4" y2="102.9" stroke="#333" stroke-width="0.80" stroke-linecap="round"/>
<line x1="488.7" y1="284.1" x2="483.7" y2="283.7" stroke="#333" stroke-width="0.80" stroke-linecap="round"/>
<polygon points="449.6,102.7 419.8,100.8 429.4,128.4" fill="#a2502d" fill-opacity="0.48" stroke="#e8e8e8" stroke-width="0.60" stroke-opacity="0.40" stroke-linejoin="round"/>
<line x1="429.4" y1="165.9" x2="429.4" y2="170.3" stroke="#333" stroke-width="0.90" stroke-linecap="round"/>
<polygon points="449.6,102.7 479.4,104.5 469.5,125.1" fill="#b95b32" fill-opacity="0.80" stroke="#e8e8e8" stroke-width="0.60" stroke-opacity="0.90" stroke-linejoin="round"/>
<polygon points="449.4,190.7 439.1,195.8 429.4,168.2" fill="#914828" fill-opacity="0.80" stroke="#e8e8e8" stroke-width="0.60" stroke-opacity="0.90" stroke-linejoin="round"/>
<line x1="429.4" y1="161.5" x2="429.4" y2="165.9" stroke="#333" stroke-width="0.90" stroke-linecap="round"/>
<line x1="488.7" y1="279.6" x2="488.7" y2="284.1" stroke="#333" stroke-width="0.90" stroke-linecap="round"/>
<circle cx="409.1" cy="281.9" r="3.70" fill="url(#g37)"/>
<line x1="429.4" y1="157.1" x2="429.4" y2="161.5" stroke="#333" stroke-width="0.90" stroke-linecap="round"/>
<line x1="488.7" y1="275.2" x2="488.7" y2="279.6" stroke="#333" stroke-width="0.90" stroke-linecap="round"/>
<circle cx="508.8" cy="282.4" r="3.70" fill="url(#g3)"/>
<line x1="429.4" y1="152.7" x2="429.4" y2="157.1" stroke="#333" stroke-width="0.90" stroke-linecap="round"/>
<line x1="488.7" y1="270.9" x2="488.7" y2="275.2" stroke="#333" stroke-width="0.90" stroke-linecap="round"/>
<circle cx="419.8" cy="100.8" r="3.70" fill="url(#g3)"/>
<polygon points="508.8,282.4 498.4,287.6 488.6,308.1" fill="#793c22" fill-opacity="0.80" stroke="#e8e8e8" stroke-width="0.60" stroke-opacity="0.90" stroke-linejoin="round"/>
<circle cx="429.2" cy="216.4" r="3.70" fill="url(#g22)"/>
<polygon points="449.6,102.7 419.8,100.8 429.6,80.2" fill="#a14f2b" fill-opacity="0.48" stroke="#e8e8e8" stroke-width="0.60" stroke-opacity="0.40" stroke-linejoin="round"/>
<line x1="429.4" y1="148.3" x2="429.4" y2="152.7" stroke="#333" stroke-width="0.90" stroke-linecap="round"/>
<polygon points="449.6,102.7 479.4,104.5 469.7,77.0" fill="#d06537" fill-opacity="0.80" stroke="#e8e8e8" stroke-width="0.60" stroke-opacity="0.90" stroke-linejoin="round"/>
<line x1="488.7" y1="266.4" x2="488.7" y2="270.9" stroke="#333" stroke-width="0.90" stroke-linecap="round"/>
<circle cx="519.5" cy="101.3" r="3.70" fill="url(#g15)"/>
<line x1="431.2" y1="103.4" x2="432.9" y2="102.6" stroke="#333" stroke-width="0.80" stroke-linecap="round"/>
<line x1="429.4" y1="143.9" x2="429.4" y2="148.3" stroke="#333" stroke-width="0.90" stroke-linecap="round"/>
<line x1="488.8" y1="262.1" x2="488.7" y2="266.4" stroke="#333" stroke-width="0.90" stroke-linecap="round"/>
<polygon points="409.2,193.9 439.1,195.8 429.2,216.4" fill="#b85930" fill-opacity="0.80" stroke="#e8e8e8" stroke-width="0.60" stroke-opacity="0.90" stroke-linejoin="round"/>
<line x1="499.4" y1="102.9" x2="497.7" y2="103.8" stroke="#333" stroke-width="0.80" stroke-linecap="round"/>
<line x1="429.4" y1="139.5" x2="429.4" y2="143.9" stroke="#333" stroke-width="0.90" stroke-linecap="round"/>
<polygon points="508.9,194.4 479.1,192.6 488.8,220.1" fill="#a04e2a" fill-opacity="0.48" stroke="#e8e8e8" stroke-width="0.60" stroke-opacity="0.40" stroke-linejoin="round"/>
<line x1="488.8" y1="257.6" x2="488.8" y2="262.1" stroke="#333" stroke-width="0.90" stroke-linecap="round"/>
<line x1="429.4" y1="135.1" x2="429.4" y2="139.5" stroke="#333" stroke-width="0.90" stroke-linecap="round"/>
<polygon points="508.8,282.4 498.4,287.6 488.8,260.0" fill="#8f4526" fill-opacity="0.80" stroke="#e8e8e8" stroke-width="0.60" stroke-opacity="0.90" stroke-linejoin="round"/>
<line x1="488.8" y1="253.2" x2="488.8" y2="257.6" stroke="#333" stroke-width="0.90" stroke-linecap="round"/>
<line x1="429.4" y1="130.7" x2="429.4" y2="135.1" stroke="#333" stroke-width="0.90" stroke-linecap="round"/>
<polygon points="409.4,105.9 419.8,100.8 429.4,128.4" fill="#a04d2a" fill-opacity="0.48" stroke="#e8e8e8" stroke-width="0.60" stroke-opacity="0.40" stroke-linejoin="round"/>
<line x1="488.8" y1="248.9" x2="488.8" y2="253.2" stroke="#333" stroke-width="0.90" stroke-linecap="round"/>
<line x1="429.4" y1="126.3" x2="429.4" y2="130.7" stroke="#333" stroke-width="0.90" stroke-linecap="round"/>
<polygon points="409.2,193.9 439.1,195.8 429.4,168.2" fill="#cf6335" fill-opacity="0.80" stroke="#e8e8e8" stroke-width="0.60" stroke-opacity="0.90" stroke-linejoin="round"/>
<line x1="488.8" y1="244.4" x2="488.8" y2="248.9" stroke="#333" stroke-width="0.90" stroke-linecap="round"/>
<circle cx="469.7" cy="77.0" r="3.70" fill="url(#g13)"/>
<circle cx="479.1" cy="192.6" r="3.70" fill="url(#g30)"/>
<circle cx="488.6" cy="308.1" r="3.70" fill="url(#g45)"/>
<polygon points="508.9,194.4 479.1,192.6 489.0,172.0" fill="#a04d29" fill-opacity="0.48" stroke="#e8e8e8" stroke-width="0.60" stroke-opacity="0.40" stroke-linejoin="round"/>
<line x1="429.5" y1="121.9" x2="429.4" y2="126.3" stroke="#333" stroke-width="0.90" stroke-linecap="round"/>
<line x1="488.8" y1="240.1" x2="488.8" y2="244.4" stroke="#333" stroke-width="0.90" stroke-linecap="round"/>
<polygon points="488.8,220.1 468.8,237.2 488.8,260.0" fill="#c424c8" fill-opacity="0.92" stroke="#f0d0f0" stroke-width="0.60" stroke-opacity="0.8" stroke-linejoin="round"/>
<line x1="429.5" y1="117.5" x2="429.5" y2="121.9" stroke="#333" stroke-width="0.90" stroke-linecap="round"/>
<line x1="488.8" y1="235.6" x2="488.8" y2="240.1" stroke="#333" stroke-width="0.90" stroke-linecap="round"/>
<line x1="429.5" y1="104.3" x2="431.2" y2="103.4" stroke="#333" stroke-width="0.80" stroke-linecap="round"/>
<polygon points="488.8,220.1 504.2,236.5 488.8,260.0" fill="#ba20be" fill-opacity="0.92" stroke="#f0d0f0" stroke-width="0.60" stroke-opacity="0.8" stroke-linejoin="round"/>
<polygon points="468.6,285.7 498.4,287.6 488.6,308.1" fill="#b7572e" fill-opacity="0.80" stroke="#e8e8e8" stroke-width="0.60" stroke-opacity="0.90" stroke-linejoin="round"/>
<polygon points="409.4,105.9 419.8,100.8 429.6,80.2" fill="#9f4c28" fill-opacity="0.48" stroke="#e8e8e8" stroke-width="0.60" stroke-opacity="0.40" stroke-linejoin="round"/>
<line x1="429.5" y1="113.1" x2="429.5" y2="117.5" stroke="#333" stroke-width="0.90" stroke-linecap="round"/>
<line x1="497.7" y1="103.8" x2="496.0" y2="104.6" stroke="#333" stroke-width="0.80" stroke-linecap="round"/>
<line x1="488.8" y1="231.2" x2="488.8" y2="235.6" stroke="#333" stroke-width="0.90" stroke-linecap="round"/>
<line x1="429.5" y1="108.7" x2="429.5" y2="113.1" stroke="#333" stroke-width="0.90" stroke-linecap="round"/>
<line x1="488.8" y1="226.9" x2="488.8" y2="231.2" stroke="#333" stroke-width="0.90" stroke-linecap="round"/>
<line x1="429.5" y1="104.3" x2="429.5" y2="108.7" stroke="#333" stroke-width="0.90" stroke-linecap="round"/>
<line x1="488.8" y1="222.4" x2="488.8" y2="226.9" stroke="#333" stroke-width="0.90" stroke-linecap="round"/>
<circle cx="429.4" cy="168.2" r="3.70" fill="url(#g23)"/>
<polygon points="468.9,197.7 479.1,192.6 488.8,220.1" fill="#9f4b27" fill-opacity="0.48" stroke="#e8e8e8" stroke-width="0.60" stroke-opacity="0.40" stroke-linejoin="round"/>
<circle cx="438.9" cy="283.8" r="3.70" fill="url(#g23)"/>
<line x1="488.9" y1="218.1" x2="488.8" y2="222.4" stroke="#333" stroke-width="0.90" stroke-linecap="round"/>
<polygon points="468.6,285.7 498.4,287.6 488.8,260.0" fill="#cf6233" fill-opacity="0.80" stroke="#e8e8e8" stroke-width="0.60" stroke-opacity="0.90" stroke-linejoin="round"/>
<line x1="434.5" y1="104.6" x2="429.5" y2="104.3" stroke="#333" stroke-width="0.80" stroke-linecap="round"/>
<line x1="488.9" y1="213.6" x2="488.9" y2="218.1" stroke="#333" stroke-width="0.90" stroke-linecap="round"/>
<circle cx="449.6" cy="102.7" r="3.70" fill="url(#g1)"/>
<polygon points="449.6,102.7 439.2,107.8 429.4,128.4" fill="#76381d" fill-opacity="0.80" stroke="#e8e8e8" stroke-width="0.60" stroke-opacity="0.90" stroke-linejoin="round"/>
<line x1="488.9" y1="209.2" x2="488.9" y2="213.6" stroke="#333" stroke-width="0.90" stroke-linecap="round"/>
<line x1="439.4" y1="104.9" x2="434.5" y2="104.6" stroke="#333" stroke-width="0.80" stroke-linecap="round"/>
<polygon points="468.9,197.7 479.1,192.6 489.0,172.0" fill="#9f4b27" fill-opacity="0.48" stroke="#e8e8e8" stroke-width="0.60" stroke-opacity="0.40" stroke-linejoin="round"/>
<line x1="488.9" y1="204.9" x2="488.9" y2="209.2" stroke="#333" stroke-width="0.90" stroke-linecap="round"/>
<line x1="496.0" y1="104.6" x2="494.2" y2="105.5" stroke="#333" stroke-width="0.80" stroke-linecap="round"/>
<line x1="488.9" y1="200.4" x2="488.9" y2="204.9" stroke="#333" stroke-width="0.90" stroke-linecap="round"/>
<line x1="444.4" y1="105.2" x2="439.4" y2="104.9" stroke="#333" stroke-width="0.80" stroke-linecap="round"/>
<line x1="488.9" y1="196.1" x2="488.9" y2="200.4" stroke="#333" stroke-width="0.90" stroke-linecap="round"/>
<polygon points="449.6,102.7 439.2,107.8 429.6,80.2" fill="#8e4323" fill-opacity="0.80" stroke="#e8e8e8" stroke-width="0.60" stroke-opacity="0.90" stroke-linejoin="round"/>
<circle cx="488.8" cy="260.0" r="3.70" fill="url(#g20)"/>
<circle cx="504.2" cy="236.5" r="3.70" fill="url(#g2)"/>
<line x1="488.9" y1="191.6" x2="488.9" y2="196.1" stroke="#333" stroke-width="0.90" stroke-linecap="round"/>
<circle cx="409.2" cy="193.9" r="3.70" fill="url(#g20)"/>
<line x1="449.4" y1="105.5" x2="444.4" y2="105.2" stroke="#333" stroke-width="0.80" stroke-linecap="round"/>
<line x1="488.9" y1="187.2" x2="488.9" y2="191.6" stroke="#333" stroke-width="0.90" stroke-linecap="round"/>
<circle cx="508.9" cy="194.4" r="3.70" fill="url(#g4)"/>
<line x1="488.9" y1="182.8" x2="488.9" y2="187.2" stroke="#333" stroke-width="0.90" stroke-linecap="round"/>
<polygon points="508.9,194.4 498.6,199.6 488.8,220.1" fill="#76381d" fill-opacity="0.80" stroke="#e8e8e8" stroke-width="0.60" stroke-opacity="0.90" stroke-linejoin="round"/>
<circle cx="429.4" cy="128.4" r="3.70" fill="url(#g4)"/>
<line x1="488.9" y1="178.4" x2="488.9" y2="182.8" stroke="#333" stroke-width="0.90" stroke-linecap="round"/>
<line x1="454.3" y1="105.9" x2="449.4" y2="105.5" stroke="#333" stroke-width="0.80" stroke-linecap="round"/>
<line x1="494.2" y1="105.5" x2="492.5" y2="106.3" stroke="#333" stroke-width="0.80" stroke-linecap="round"/>
<line x1="488.9" y1="174.1" x2="488.9" y2="178.4" stroke="#333" stroke-width="0.90" stroke-linecap="round"/>
<polygon points="409.4,105.9 439.2,107.8 429.4,128.4" fill="#b7562d" fill-opacity="0.80" stroke="#e8e8e8" stroke-width="0.60" stroke-opacity="0.90" stroke-linejoin="round"/>
<polygon points="509.1,106.4 479.4,104.5 489.0,132.1" fill="#9f4b27" fill-opacity="0.48" stroke="#e8e8e8" stroke-width="0.60" stroke-opacity="0.40" stroke-linejoin="round"/>
<line x1="489.0" y1="169.6" x2="488.9" y2="174.1" stroke="#333" stroke-width="0.90" stroke-linecap="round"/>
<line x1="459.3" y1="106.2" x2="454.3" y2="105.9" stroke="#333" stroke-width="0.80" stroke-linecap="round"/>
<polygon points="508.9,194.4 498.6,199.6 489.0,172.0" fill="#8e4323" fill-opacity="0.80" stroke="#e8e8e8" stroke-width="0.60" stroke-opacity="0.90" stroke-linejoin="round"/>
<line x1="489.0" y1="165.2" x2="489.0" y2="169.6" stroke="#333" stroke-width="0.90" stroke-linecap="round"/>
<circle cx="468.6" cy="285.7" r="3.70" fill="url(#g44)"/>
<line x1="489.0" y1="160.8" x2="489.0" y2="165.2" stroke="#333" stroke-width="0.90" stroke-linecap="round"/>
<line x1="464.3" y1="106.5" x2="459.3" y2="106.2" stroke="#333" stroke-width="0.80" stroke-linecap="round"/>
<polygon points="409.4,105.9 439.2,107.8 429.6,80.2" fill="#cf6233" fill-opacity="0.80" stroke="#e8e8e8" stroke-width="0.60" stroke-opacity="0.90" stroke-linejoin="round"/>
<line x1="489.0" y1="156.4" x2="489.0" y2="160.8" stroke="#333" stroke-width="0.90" stroke-linecap="round"/>
<circle cx="479.4" cy="104.5" r="3.70" fill="url(#g2)"/>
<circle cx="488.8" cy="220.1" r="3.70" fill="url(#g2)"/>
<polygon points="509.1,106.4 479.4,104.5 489.2,84.0" fill="#9f4b27" fill-opacity="0.48" stroke="#e8e8e8" stroke-width="0.60" stroke-opacity="0.40" stroke-linejoin="round"/>
<line x1="489.0" y1="152.1" x2="489.0" y2="156.4" stroke="#333" stroke-width="0.90" stroke-linecap="round"/>
<line x1="469.2" y1="106.8" x2="464.3" y2="106.5" stroke="#333" stroke-width="0.80" stroke-linecap="round"/>
<line x1="492.5" y1="106.3" x2="490.8" y2="107.2" stroke="#333" stroke-width="0.80" stroke-linecap="round"/>
<line x1="489.0" y1="147.7" x2="489.0" y2="152.1" stroke="#333" stroke-width="0.90" stroke-linecap="round"/>
<polygon points="468.9,197.7 498.6,199.6 488.8,220.1" fill="#b7562d" fill-opacity="0.80" stroke="#e8e8e8" stroke-width="0.60" stroke-opacity="0.90" stroke-linejoin="round"/>
<line x1="489.0" y1="143.2" x2="489.0" y2="147.7" stroke="#333" stroke-width="0.90" stroke-linecap="round"/>
<line x1="474.2" y1="107.1" x2="469.2" y2="106.8" stroke="#333" stroke-width="0.80" stroke-linecap="round"/>
<line x1="489.0" y1="138.8" x2="489.0" y2="143.2" stroke="#333" stroke-width="0.90" stroke-linecap="round"/>
<line x1="489.0" y1="134.4" x2="489.0" y2="138.8" stroke="#333" stroke-width="0.90" stroke-linecap="round"/>
<circle cx="429.6" cy="80.2" r="3.70" fill="url(#g2)"/>
<polygon points="469.1,109.7 479.4,104.5 489.0,132.1" fill="#9f4b27" fill-opacity="0.48" stroke="#e8e8e8" stroke-width="0.60" stroke-opacity="0.40" stroke-linejoin="round"/>
<circle cx="439.1" cy="195.8" r="3.70" fill="url(#g2)"/>
<line x1="489.1" y1="130.1" x2="489.0" y2="134.4" stroke="#333" stroke-width="0.90" stroke-linecap="round"/>
<line x1="479.2" y1="107.4" x2="474.2" y2="107.1" stroke="#333" stroke-width="0.80" stroke-linecap="round"/>
<polygon points="468.9,197.7 498.6,199.6 489.0,172.0" fill="#cf6233" fill-opacity="0.80" stroke="#e8e8e8" stroke-width="0.60" stroke-opacity="0.90" stroke-linejoin="round"/>
<line x1="489.1" y1="125.7" x2="489.1" y2="130.1" stroke="#333" stroke-width="0.90" stroke-linecap="round"/>
<line x1="489.1" y1="121.2" x2="489.1" y2="125.7" stroke="#333" stroke-width="0.90" stroke-linecap="round"/>
<line x1="484.1" y1="107.7" x2="479.2" y2="107.4" stroke="#333" stroke-width="0.80" stroke-linecap="round"/>
<line x1="490.8" y1="107.2" x2="489.1" y2="108.0" stroke="#333" stroke-width="0.80" stroke-linecap="round"/>
<polygon points="469.1,109.7 479.4,104.5 489.2,84.0" fill="#9f4b27" fill-opacity="0.48" stroke="#e8e8e8" stroke-width="0.60" stroke-opacity="0.40" stroke-linejoin="round"/>
<line x1="489.1" y1="116.8" x2="489.1" y2="121.2" stroke="#333" stroke-width="0.90" stroke-linecap="round"/>
<line x1="489.1" y1="112.5" x2="489.1" y2="116.8" stroke="#333" stroke-width="0.90" stroke-linecap="round"/>
<line x1="489.1" y1="108.0" x2="484.1" y2="107.7" stroke="#333" stroke-width="0.80" stroke-linecap="round"/>
<line x1="489.1" y1="108.0" x2="489.1" y2="112.5" stroke="#333" stroke-width="0.90" stroke-linecap="round"/>
<circle cx="489.0" cy="172.0" r="3.70" fill="url(#g2)"/>
<circle cx="498.4" cy="287.6" r="3.70" fill="url(#g2)"/>
<circle cx="409.4" cy="105.9" r="3.70" fill="url(#g2)"/>
<circle cx="509.1" cy="106.4" r="3.70" fill="url(#g2)"/>
<polygon points="509.1,106.4 498.9,111.5 489.0,132.1" fill="#76381d" fill-opacity="0.80" stroke="#e8e8e8" stroke-width="0.60" stroke-opacity="0.90" stroke-linejoin="round"/>
<polygon points="509.1,106.4 498.9,111.5 489.2,84.0" fill="#8e4323" fill-opacity="0.80" stroke="#e8e8e8" stroke-width="0.60" stroke-opacity="0.90" stroke-linejoin="round"/>
<circle cx="468.9" cy="197.7" r="3.70" fill="url(#g2)"/>
<circle cx="489.0" cy="132.1" r="3.70" fill="url(#g2)"/>
<polygon points="469.1,109.7 498.9,111.5 489.0,132.1" fill="#b7562d" fill-opacity="0.80" stroke="#e8e8e8" stroke-width="0.60" stroke-opacity="0.90" stroke-linejoin="round"/>
<circle cx="439.2" cy="107.8" r="3.70" fill="url(#g2)"/>
<polygon points="469.1,109.7 498.9,111.5 489.2,84.0" fill="#cf6233" fill-opacity="0.80" stroke="#e8e8e8" stroke-width="0.60" stroke-opacity="0.90" stroke-linejoin="round"/>
<circle cx="489.2" cy="84.0" r="3.70" fill="url(#g2)"/>
<circle cx="498.6" cy="199.6" r="3.70" fill="url(#g2)"/>
<circle cx="469.1" cy="109.7" r="3.70" fill="url(#g2)"/>
<circle cx="498.9" cy="111.5" r="3.70" fill="url(#g2)"/>
<circle cx="570.3" cy="80.7" r="5.50" fill="url(#g2)"/>
<circle cx="569.7" cy="109.7" r="7.90" fill="url(#g50)"/>
<circle cx="569.7" cy="140.8" r="7.90" fill="url(#g51)"/>
<polygon points="549.8,191.5 589.2,191.0 569.4,228.2" fill="#9f4b27" fill-opacity="0.48" stroke="#e8e8e8" stroke-width="0.60" stroke-opacity="0.40" stroke-linejoin="round"/>
<line x1="559.5" y1="195.1" x2="549.8" y2="191.5" stroke="#f00808" stroke-width="2.20"/>
<line x1="579.2" y1="194.8" x2="589.2" y2="191.0" stroke="#f00808" stroke-width="2.20"/>
<polygon points="549.8,191.5 589.2,191.0 569.1,169.2" fill="#9f4b27" fill-opacity="0.48" stroke="#e8e8e8" stroke-width="0.60" stroke-opacity="0.40" stroke-linejoin="round"/>
<line x1="569.3" y1="213.4" x2="569.4" y2="228.2" stroke="#f00808" stroke-width="2.20"/>
<circle cx="549.8" cy="191.5" r="4.20" fill="url(#g2)"/>
<line x1="569.2" y1="198.7" x2="559.5" y2="195.1" stroke="#da744a" stroke-width="2.20"/>
<line x1="569.2" y1="198.7" x2="579.2" y2="194.8" stroke="#da744a" stroke-width="2.20"/>
<circle cx="589.2" cy="191.0" r="4.20" fill="url(#g2)"/>
<polygon points="549.8,191.5 549.2,206.4 569.4,228.2" fill="#9f4b27" fill-opacity="0.48" stroke="#e8e8e8" stroke-width="0.60" stroke-opacity="0.40" stroke-linejoin="round"/>
<polygon points="588.6,205.9 589.2,191.0 569.4,228.2" fill="#9f4b27" fill-opacity="0.48" stroke="#e8e8e8" stroke-width="0.60" stroke-opacity="0.40" stroke-linejoin="round"/>
<line x1="569.2" y1="198.7" x2="569.3" y2="213.4" stroke="#da744a" stroke-width="2.20"/>
<line x1="569.2" y1="198.7" x2="569.1" y2="183.9" stroke="#da744a" stroke-width="2.20"/>
<polygon points="549.8,191.5 549.2,206.4 569.1,169.2" fill="#76381d" fill-opacity="0.80" stroke="#e8e8e8" stroke-width="0.60" stroke-opacity="0.90" stroke-linejoin="round"/>
<polygon points="588.6,205.9 589.2,191.0 569.1,169.2" fill="#79391e" fill-opacity="0.80" stroke="#e8e8e8" stroke-width="0.60" stroke-opacity="0.90" stroke-linejoin="round"/>
<line x1="569.2" y1="198.7" x2="559.2" y2="202.5" stroke="#da744a" stroke-width="2.20"/>
<circle cx="569.4" cy="228.2" r="4.20" fill="url(#g2)"/>
<line x1="569.2" y1="198.7" x2="578.9" y2="202.3" stroke="#da744a" stroke-width="2.20"/>
<circle cx="569.2" cy="198.7" r="6.00" fill="url(#g51)"/>
<line x1="569.1" y1="183.9" x2="569.1" y2="169.2" stroke="#f00808" stroke-width="2.20"/>
<polygon points="588.6,205.9 549.2,206.4 569.4,228.2" fill="#ab512a" fill-opacity="0.80" stroke="#e8e8e8" stroke-width="0.60" stroke-opacity="0.90" stroke-linejoin="round"/>
<line x1="559.2" y1="202.5" x2="549.2" y2="206.4" stroke="#f00808" stroke-width="2.20"/>
<line x1="578.9" y1="202.3" x2="588.6" y2="205.9" stroke="#f00808" stroke-width="2.20"/>
<polygon points="588.6,205.9 549.2,206.4 569.1,169.2" fill="#da6736" fill-opacity="0.80" stroke="#e8e8e8" stroke-width="0.60" stroke-opacity="0.90" stroke-linejoin="round"/>
<circle cx="569.1" cy="169.2" r="4.20" fill="url(#g2)"/>
<circle cx="549.2" cy="206.4" r="4.20" fill="url(#g2)"/>
<circle cx="588.6" cy="205.9" r="4.20" fill="url(#g2)"/>
<line x1="561.8" y1="247.5" x2="553.9" y2="244.4" stroke="#f00808" stroke-width="2.20"/>
<polygon points="553.9,244.4 591.8,247.0 570.2,279.7" fill="#27aab1" fill-opacity="0.48" stroke="#e8e8e8" stroke-width="0.60" stroke-opacity="0.40" stroke-linejoin="round"/>
<line x1="580.7" y1="248.8" x2="591.8" y2="247.0" stroke="#f00808" stroke-width="2.20"/>
<circle cx="553.9" cy="244.4" r="4.20" fill="url(#g2)"/>
<line x1="569.6" y1="250.7" x2="561.8" y2="247.5" stroke="#da744a" stroke-width="2.20"/>
<line x1="569.9" y1="265.2" x2="570.2" y2="279.7" stroke="#f00808" stroke-width="2.20"/>
<polygon points="553.9,244.4 547.4,254.4 570.2,279.7" fill="#27aab1" fill-opacity="0.48" stroke="#e8e8e8" stroke-width="0.60" stroke-opacity="0.40" stroke-linejoin="round"/>
<line x1="569.6" y1="250.7" x2="580.7" y2="248.8" stroke="#da744a" stroke-width="2.20"/>
<line x1="569.6" y1="250.7" x2="569.9" y2="265.2" stroke="#da744a" stroke-width="2.20"/>
<circle cx="591.8" cy="247.0" r="4.20" fill="url(#g2)"/>
<circle cx="569.6" cy="250.7" r="6.00" fill="url(#g51)"/>
<polygon points="585.3,257.0 591.8,247.0 570.2,279.7" fill="#27aab1" fill-opacity="0.48" stroke="#e8e8e8" stroke-width="0.60" stroke-opacity="0.40" stroke-linejoin="round"/>
<polygon points="585.3,257.0 547.4,254.4 553.9,244.4 591.8,247.0" fill="#27aab1" fill-opacity="0.48" stroke="#e8e8e8" stroke-width="0.60" stroke-opacity="0.40" stroke-linejoin="round"/>
<line x1="569.6" y1="250.7" x2="558.5" y2="252.5" stroke="#da744a" stroke-width="2.20"/>
<line x1="569.6" y1="250.7" x2="577.5" y2="253.8" stroke="#da744a" stroke-width="2.20"/>
<path d="M563.60,250.57 A6.00,6.00 0 0 1 575.60,250.83 A6.00,1.53 1.2 0 1 563.60,250.57 Z" fill="url(#g51)"/>
<circle cx="570.2" cy="279.7" r="4.20" fill="url(#g2)"/>
<polygon points="585.3,257.0 547.4,254.4 570.2,279.7" fill="#2cbec6" fill-opacity="0.80" stroke="#e8e8e8" stroke-width="0.60" stroke-opacity="0.90" stroke-linejoin="round"/>
<line x1="558.5" y1="252.5" x2="547.4" y2="254.4" stroke="#f00808" stroke-width="2.20"/>
<line x1="577.5" y1="253.8" x2="585.3" y2="257.0" stroke="#f00808" stroke-width="2.20"/>
<circle cx="547.4" cy="254.4" r="4.20" fill="url(#g2)"/>
<circle cx="585.3" cy="257.0" r="4.20" fill="url(#g2)"/>
<polygon points="549.8,301.0 587.6,301.0 582.0,324.7" fill="#cd2dcd" fill-opacity="0.92" stroke="#f0d0f0" stroke-width="0.60" stroke-opacity="0.8" stroke-linejoin="round"/>
<polygon points="549.8,301.0 582.0,324.7 558.0,329.0" fill="#af1eb4" fill-opacity="0.92" stroke="#f0d0f0" stroke-width="0.60" stroke-opacity="0.8" stroke-linejoin="round"/>
<circle cx="549.8" cy="301.0" r="4.20" fill="url(#g2)"/>
<circle cx="587.6" cy="301.0" r="4.20" fill="url(#g2)"/>
<circle cx="582.0" cy="324.7" r="4.20" fill="url(#g2)"/>
<circle cx="558.0" cy="329.0" r="4.20" fill="url(#g2)"/>
<line x1="42.9" y1="482.1" x2="35.2" y2="478.6" stroke="#f00808" stroke-width="1.50"/>
<line x1="62.9" y1="482.7" x2="75.1" y2="479.8" stroke="#f00808" stroke-width="1.50"/>
<polygon points="75.1,479.8 35.2,478.6 49.4,455.6" fill="#39b1b7" fill-opacity="0.48" stroke="#e8e8e8" stroke-width="0.60" stroke-opacity="0.40" stroke-linejoin="round"/>
<line x1="51.7" y1="509.7" x2="61.7" y2="510.0" stroke="#333" stroke-width="0.80" stroke-linecap="round"/>
<line x1="51.4" y1="502.9" x2="51.7" y2="509.7" stroke="#333" stroke-width="0.80" stroke-linecap="round"/>
<line x1="50.7" y1="485.6" x2="42.9" y2="482.1" stroke="#da744a" stroke-width="1.50"/>
<line x1="51.7" y1="509.7" x2="50.6" y2="511.3" stroke="#333" stroke-width="0.80" stroke-linecap="round"/>
<line x1="61.7" y1="510.0" x2="71.6" y2="510.3" stroke="#333" stroke-width="0.80" stroke-linecap="round"/>
<line x1="51.1" y1="496.2" x2="51.4" y2="502.9" stroke="#333" stroke-width="0.80" stroke-linecap="round"/>
<circle cx="35.2" cy="478.6" r="3.80" fill="url(#g62)"/>
<line x1="50.7" y1="485.6" x2="62.9" y2="482.7" stroke="#da744a" stroke-width="1.50"/>
<line x1="71.6" y1="510.3" x2="81.6" y2="510.6" stroke="#333" stroke-width="0.80" stroke-linecap="round"/>
<line x1="50.8" y1="489.4" x2="51.1" y2="496.2" stroke="#333" stroke-width="0.80" stroke-linecap="round"/>
<line x1="50.6" y1="511.3" x2="49.5" y2="512.9" stroke="#333" stroke-width="0.80" stroke-linecap="round"/>
<line x1="81.6" y1="510.6" x2="91.5" y2="510.9" stroke="#333" stroke-width="0.80" stroke-linecap="round"/>
<line x1="50.6" y1="482.6" x2="50.8" y2="489.4" stroke="#333" stroke-width="0.80" stroke-linecap="round"/>
<polygon points="75.1,479.8 66.1,491.2 26.3,491.5 35.2,478.6" fill="#36afb6" fill-opacity="0.48" stroke="#e8e8e8" stroke-width="0.60" stroke-opacity="0.40" stroke-linejoin="round"/>
<polygon points="26.3,491.5 35.2,478.6 49.4,455.6" fill="#36afb6" fill-opacity="0.48" stroke="#e8e8e8" stroke-width="0.60" stroke-opacity="0.40" stroke-linejoin="round"/>
<line x1="91.5" y1="510.9" x2="101.5" y2="511.3" stroke="#333" stroke-width="0.80" stroke-linecap="round"/>
<line x1="50.3" y1="475.9" x2="50.6" y2="482.6" stroke="#333" stroke-width="0.80" stroke-linecap="round"/>
<line x1="122.4" y1="478.6" x2="114.6" y2="475.1" stroke="#f00808" stroke-width="1.50"/>
<line x1="50.7" y1="485.6" x2="50.0" y2="470.6" stroke="#da744a" stroke-width="1.50"/>
<line x1="40.4" y1="422.0" x2="32.6" y2="418.5" stroke="#f00808" stroke-width="1.50"/>
<line x1="50.7" y1="485.6" x2="38.5" y2="488.5" stroke="#da744a" stroke-width="1.50"/>
<line x1="49.5" y1="512.9" x2="48.4" y2="514.5" stroke="#333" stroke-width="0.80" stroke-linecap="round"/>
<polygon points="154.5,476.3 114.6,475.1 131.4,512.2" fill="#35afb6" fill-opacity="0.48" stroke="#e8e8e8" stroke-width="0.60" stroke-opacity="0.40" stroke-linejoin="round"/>
<line x1="101.5" y1="511.3" x2="111.5" y2="511.6" stroke="#333" stroke-width="0.80" stroke-linecap="round"/>
<polygon points="72.5,419.7 32.6,418.5 49.4,455.6" fill="#34afb6" fill-opacity="0.48" stroke="#e8e8e8" stroke-width="0.60" stroke-opacity="0.40" stroke-linejoin="round"/>
<line x1="50.0" y1="469.1" x2="50.3" y2="475.9" stroke="#333" stroke-width="0.80" stroke-linecap="round"/>
<circle cx="75.1" cy="479.8" r="3.80" fill="url(#g60)"/>
<line x1="50.7" y1="485.6" x2="58.4" y2="488.4" stroke="#da744a" stroke-width="1.50"/>
<circle cx="91.5" cy="510.9" r="5.20" fill="url(#g71)"/>
<circle cx="50.7" cy="485.6" r="6.00" fill="url(#g53)"/>
<line x1="111.5" y1="511.6" x2="121.4" y2="511.9" stroke="#333" stroke-width="0.80" stroke-linecap="round"/>
<polygon points="75.1,479.8 66.1,491.2 49.4,455.6" fill="#2f9aa0" fill-opacity="0.80" stroke="#e8e8e8" stroke-width="0.60" stroke-opacity="0.90" stroke-linejoin="round"/>
<line x1="49.7" y1="462.4" x2="50.0" y2="469.1" stroke="#333" stroke-width="0.80" stroke-linecap="round"/>
<line x1="50.0" y1="470.6" x2="49.4" y2="455.6" stroke="#f00808" stroke-width="1.50"/>
<line x1="48.4" y1="514.5" x2="47.2" y2="516.1" stroke="#333" stroke-width="0.80" stroke-linecap="round"/>
<line x1="121.4" y1="511.9" x2="131.4" y2="512.2" stroke="#333" stroke-width="0.80" stroke-linecap="round"/>
<line x1="49.4" y1="455.6" x2="49.7" y2="462.4" stroke="#333" stroke-width="0.80" stroke-linecap="round"/>
<line x1="142.3" y1="479.3" x2="154.5" y2="476.3" stroke="#f00808" stroke-width="1.50"/>
<line x1="60.3" y1="422.7" x2="72.5" y2="419.7" stroke="#f00808" stroke-width="1.50"/>
<line x1="38.5" y1="488.5" x2="26.3" y2="491.5" stroke="#f00808" stroke-width="1.50"/>
<line x1="131.4" y1="512.2" x2="141.4" y2="512.5" stroke="#333" stroke-width="0.80" stroke-linecap="round"/>
<line x1="49.1" y1="448.8" x2="49.4" y2="455.6" stroke="#333" stroke-width="0.80" stroke-linecap="round"/>
<line x1="130.8" y1="497.2" x2="131.4" y2="512.2" stroke="#f00808" stroke-width="1.50"/>
<line x1="48.8" y1="440.6" x2="49.4" y2="455.6" stroke="#f00808" stroke-width="1.50"/>
<line x1="47.2" y1="516.1" x2="46.1" y2="517.8" stroke="#333" stroke-width="0.80" stroke-linecap="round"/>
<line x1="141.4" y1="512.5" x2="151.3" y2="512.8" stroke="#333" stroke-width="0.80" stroke-linecap="round"/>
<polygon points="105.6,487.8 114.6,475.1 131.4,512.2" fill="#31aeb5" fill-opacity="0.48" stroke="#e8e8e8" stroke-width="0.60" stroke-opacity="0.40" stroke-linejoin="round"/>
<line x1="48.8" y1="442.1" x2="49.1" y2="448.8" stroke="#333" stroke-width="0.80" stroke-linecap="round"/>
<polygon points="23.7,431.4 32.6,418.5 49.4,455.6" fill="#31aeb5" fill-opacity="0.48" stroke="#e8e8e8" stroke-width="0.60" stroke-opacity="0.40" stroke-linejoin="round"/>
<line x1="130.1" y1="482.2" x2="122.4" y2="478.6" stroke="#da744a" stroke-width="1.50"/>
<line x1="48.1" y1="425.6" x2="40.4" y2="422.0" stroke="#da744a" stroke-width="1.50"/>
<line x1="151.3" y1="512.8" x2="161.3" y2="513.1" stroke="#333" stroke-width="0.80" stroke-linecap="round"/>
<circle cx="114.6" cy="475.1" r="3.80" fill="url(#g58)"/>
<line x1="48.5" y1="435.3" x2="48.8" y2="442.1" stroke="#333" stroke-width="0.80" stroke-linecap="round"/>
<polygon points="26.3,491.5 66.1,491.2 49.4,455.6" fill="#3ee6f0" fill-opacity="0.80" stroke="#e8e8e8" stroke-width="0.60" stroke-opacity="0.90" stroke-linejoin="round"/>
<circle cx="32.6" cy="418.5" r="3.80" fill="url(#g58)"/>
<line x1="130.1" y1="482.2" x2="142.3" y2="479.3" stroke="#da744a" stroke-width="1.50"/>
<line x1="48.1" y1="425.6" x2="60.3" y2="422.7" stroke="#da744a" stroke-width="1.50"/>
<line x1="130.1" y1="482.2" x2="130.8" y2="497.2" stroke="#da744a" stroke-width="1.50"/>
<line x1="161.3" y1="513.1" x2="171.2" y2="513.5" stroke="#333" stroke-width="0.80" stroke-linecap="round"/>
<line x1="46.1" y1="517.8" x2="45.0" y2="519.4" stroke="#333" stroke-width="0.80" stroke-linecap="round"/>
<line x1="48.1" y1="425.6" x2="48.8" y2="440.6" stroke="#da744a" stroke-width="1.50"/>
<line x1="58.4" y1="488.4" x2="66.1" y2="491.2" stroke="#f00808" stroke-width="1.50"/>
<line x1="48.2" y1="428.6" x2="48.5" y2="435.3" stroke="#333" stroke-width="0.80" stroke-linecap="round"/>
<line x1="202.3" y1="487.1" x2="194.6" y2="483.6" stroke="#f00808" stroke-width="1.50"/>
<line x1="120.3" y1="430.5" x2="112.6" y2="427.0" stroke="#f00808" stroke-width="1.50"/>
<polygon points="154.5,476.3 145.7,490.7 131.4,512.2" fill="#30adb4" fill-opacity="0.48" stroke="#e8e8e8" stroke-width="0.60" stroke-opacity="0.40" stroke-linejoin="round"/>
<line x1="171.2" y1="513.5" x2="181.2" y2="513.8" stroke="#333" stroke-width="0.80" stroke-linecap="round"/>
<polygon points="72.5,419.7 63.7,434.1 49.4,455.6" fill="#2fadb4" fill-opacity="0.48" stroke="#e8e8e8" stroke-width="0.60" stroke-opacity="0.40" stroke-linejoin="round"/>
<polygon points="154.5,476.3 145.7,490.7 105.6,487.8 114.6,475.1" fill="#2b9ba1" fill-opacity="0.80" stroke="#e8e8e8" stroke-width="0.60" stroke-opacity="0.90" stroke-linejoin="round"/>
<circle cx="130.1" cy="482.2" r="6.00" fill="url(#g52)"/>
<polygon points="72.5,419.7 63.7,434.1 23.7,431.4 32.6,418.5" fill="#2b9ba1" fill-opacity="0.80" stroke="#e8e8e8" stroke-width="0.60" stroke-opacity="0.90" stroke-linejoin="round"/>
<circle cx="48.1" cy="425.6" r="6.00" fill="url(#g52)"/>
<line x1="48.0" y1="421.8" x2="48.2" y2="428.6" stroke="#333" stroke-width="0.80" stroke-linecap="round"/>
<line x1="181.2" y1="513.8" x2="191.2" y2="514.1" stroke="#333" stroke-width="0.80" stroke-linecap="round"/>
<line x1="45.0" y1="519.4" x2="43.9" y2="521.0" stroke="#333" stroke-width="0.80" stroke-linecap="round"/>
<line x1="47.7" y1="415.0" x2="48.0" y2="421.8" stroke="#333" stroke-width="0.80" stroke-linecap="round"/>
<line x1="130.1" y1="482.2" x2="117.9" y2="485.0" stroke="#da744a" stroke-width="1.50"/>
<circle cx="171.2" cy="513.5" r="5.20" fill="url(#g70)"/>
<line x1="48.1" y1="425.6" x2="35.9" y2="428.5" stroke="#da744a" stroke-width="1.50"/>
<line x1="191.2" y1="514.1" x2="201.1" y2="514.4" stroke="#333" stroke-width="0.80" stroke-linecap="round"/>
<circle cx="89.2" cy="456.8" r="5.20" fill="url(#g70)"/>
<circle cx="154.5" cy="476.3" r="3.80" fill="url(#g55)"/>
<line x1="222.3" y1="487.7" x2="234.5" y2="484.8" stroke="#f00808" stroke-width="1.50"/>
<circle cx="72.5" cy="419.7" r="3.80" fill="url(#g55)"/>
<line x1="47.4" y1="408.3" x2="47.7" y2="415.0" stroke="#333" stroke-width="0.80" stroke-linecap="round"/>
<line x1="140.3" y1="431.1" x2="152.5" y2="428.2" stroke="#f00808" stroke-width="1.50"/>
<line x1="130.1" y1="482.2" x2="137.9" y2="486.5" stroke="#da744a" stroke-width="1.50"/>
<path d="M124.13,482.43 A6.00,6.00 0 0 1 136.12,481.92 A6.00,1.90 -2.5 0 1 124.13,482.43 Z" fill="url(#g52)"/>
<line x1="48.1" y1="425.6" x2="55.9" y2="429.9" stroke="#da744a" stroke-width="1.50"/>
<path d="M42.13,425.83 A6.00,6.00 0 0 1 54.12,425.32 A6.00,1.90 -2.5 0 1 42.13,425.83 Z" fill="url(#g52)"/>
<line x1="201.1" y1="514.4" x2="211.1" y2="514.7" stroke="#333" stroke-width="0.80" stroke-linecap="round"/>
<polygon points="234.5,484.8 194.6,483.6 208.8,460.6" fill="#2dacb3" fill-opacity="0.48" stroke="#e8e8e8" stroke-width="0.60" stroke-opacity="0.40" stroke-linejoin="round"/>
<polygon points="152.5,428.2 112.6,427.0 126.8,404.0" fill="#2dacb3" fill-opacity="0.48" stroke="#e8e8e8" stroke-width="0.60" stroke-opacity="0.40" stroke-linejoin="round"/>
<line x1="43.9" y1="521.0" x2="42.8" y2="522.6" stroke="#333" stroke-width="0.80" stroke-linecap="round"/>
<line x1="47.1" y1="401.5" x2="47.4" y2="408.3" stroke="#333" stroke-width="0.80" stroke-linecap="round"/>
<line x1="210.8" y1="507.9" x2="211.1" y2="514.7" stroke="#333" stroke-width="0.80" stroke-linecap="round"/>
<circle cx="131.4" cy="512.2" r="3.80" fill="url(#g64)"/>
<polygon points="105.6,487.8 145.7,490.7 131.4,512.2" fill="#2fb8c0" fill-opacity="0.80" stroke="#e8e8e8" stroke-width="0.60" stroke-opacity="0.90" stroke-linejoin="round"/>
<circle cx="49.4" cy="455.6" r="3.80" fill="url(#g59)"/>
<polygon points="23.7,431.4 63.7,434.1 49.4,455.6" fill="#2fb8c0" fill-opacity="0.80" stroke="#e8e8e8" stroke-width="0.60" stroke-opacity="0.90" stroke-linejoin="round"/>
<line x1="47.1" y1="401.5" x2="57.1" y2="401.8" stroke="#333" stroke-width="0.80" stroke-linecap="round"/>
<line x1="73.8" y1="494.0" x2="66.1" y2="491.2" stroke="#f00808" stroke-width="1.50"/>
<line x1="210.1" y1="490.6" x2="202.3" y2="487.1" stroke="#da744a" stroke-width="1.50"/>
<line x1="211.1" y1="514.7" x2="210.0" y2="516.3" stroke="#333" stroke-width="0.80" stroke-linecap="round"/>
<line x1="128.1" y1="434.0" x2="120.3" y2="430.5" stroke="#da744a" stroke-width="1.50"/>
<line x1="117.9" y1="485.0" x2="105.6" y2="487.8" stroke="#f00808" stroke-width="1.50"/>
<line x1="47.1" y1="401.5" x2="46.0" y2="403.1" stroke="#333" stroke-width="0.80" stroke-linecap="round"/>
<line x1="210.5" y1="501.2" x2="210.8" y2="507.9" stroke="#333" stroke-width="0.80" stroke-linecap="round"/>
<line x1="35.9" y1="428.5" x2="23.7" y2="431.4" stroke="#f00808" stroke-width="1.50"/>
<circle cx="194.6" cy="483.6" r="3.80" fill="url(#g3)"/>
<polygon points="105.6,487.8 66.1,491.2 85.8,522.9" fill="#a14f2c" fill-opacity="0.48" stroke="#e8e8e8" stroke-width="0.60" stroke-opacity="0.40" stroke-linejoin="round"/>
<line x1="42.8" y1="522.6" x2="41.7" y2="524.2" stroke="#333" stroke-width="0.80" stroke-linecap="round"/>
<line x1="57.1" y1="401.8" x2="67.0" y2="402.1" stroke="#333" stroke-width="0.80" stroke-linecap="round"/>
<circle cx="112.6" cy="427.0" r="3.80" fill="url(#g3)"/>
<line x1="210.1" y1="490.6" x2="222.3" y2="487.7" stroke="#da744a" stroke-width="1.50"/>
<line x1="128.1" y1="434.0" x2="140.3" y2="431.1" stroke="#da744a" stroke-width="1.50"/>
<line x1="210.2" y1="494.4" x2="210.5" y2="501.2" stroke="#333" stroke-width="0.80" stroke-linecap="round"/>
<circle cx="26.3" cy="491.5" r="3.80" fill="url(#g22)"/>
<line x1="67.0" y1="402.1" x2="77.0" y2="402.4" stroke="#333" stroke-width="0.80" stroke-linecap="round"/>
<line x1="210.0" y1="516.3" x2="208.9" y2="517.9" stroke="#333" stroke-width="0.80" stroke-linecap="round"/>
<circle cx="42.8" cy="522.6" r="5.20" fill="url(#g68)"/>
<line x1="209.9" y1="487.6" x2="210.2" y2="494.4" stroke="#333" stroke-width="0.80" stroke-linecap="round"/>
<line x1="46.0" y1="403.1" x2="44.9" y2="404.7" stroke="#333" stroke-width="0.80" stroke-linecap="round"/>
<polygon points="234.5,484.8 225.6,497.7 185.6,497.0 194.6,483.6" fill="#2aabb2" fill-opacity="0.48" stroke="#e8e8e8" stroke-width="0.60" stroke-opacity="0.40" stroke-linejoin="round"/>
<polygon points="185.6,497.0 194.6,483.6 208.8,460.6" fill="#2aabb2" fill-opacity="0.48" stroke="#e8e8e8" stroke-width="0.60" stroke-opacity="0.40" stroke-linejoin="round"/>
<polygon points="152.5,428.2 143.5,439.6 103.6,440.1 112.6,427.0" fill="#2aabb2" fill-opacity="0.48" stroke="#e8e8e8" stroke-width="0.60" stroke-opacity="0.40" stroke-linejoin="round"/>
<line x1="77.0" y1="402.4" x2="87.0" y2="402.8" stroke="#333" stroke-width="0.80" stroke-linecap="round"/>
<line x1="41.7" y1="524.2" x2="40.6" y2="525.8" stroke="#333" stroke-width="0.80" stroke-linecap="round"/>
<polygon points="103.6,440.1 112.6,427.0 126.8,404.0" fill="#2aabb2" fill-opacity="0.48" stroke="#e8e8e8" stroke-width="0.60" stroke-opacity="0.40" stroke-linejoin="round"/>
<line x1="137.9" y1="486.5" x2="145.7" y2="490.7" stroke="#f00808" stroke-width="1.50"/>
<line x1="55.9" y1="429.9" x2="63.7" y2="434.1" stroke="#f00808" stroke-width="1.50"/>
<line x1="93.6" y1="492.3" x2="105.6" y2="487.8" stroke="#f00808" stroke-width="1.50"/>
<line x1="209.7" y1="480.9" x2="209.9" y2="487.6" stroke="#333" stroke-width="0.80" stroke-linecap="round"/>
<line x1="210.1" y1="490.6" x2="209.4" y2="475.6" stroke="#da744a" stroke-width="1.50"/>
<line x1="87.0" y1="402.8" x2="96.9" y2="403.1" stroke="#333" stroke-width="0.80" stroke-linecap="round"/>
<line x1="199.8" y1="427.0" x2="192.0" y2="423.5" stroke="#f00808" stroke-width="1.50"/>
<line x1="128.1" y1="434.0" x2="127.4" y2="419.0" stroke="#da744a" stroke-width="1.50"/>
<polygon points="105.6,487.8 66.1,491.2 77.2,470.5" fill="#a04d29" fill-opacity="0.48" stroke="#e8e8e8" stroke-width="0.60" stroke-opacity="0.40" stroke-linejoin="round"/>
<line x1="210.1" y1="490.6" x2="197.8" y2="493.8" stroke="#da744a" stroke-width="1.50"/>
<line x1="208.9" y1="517.9" x2="207.8" y2="519.5" stroke="#333" stroke-width="0.80" stroke-linecap="round"/>
<line x1="83.7" y1="509.8" x2="85.8" y2="522.9" stroke="#f00808" stroke-width="1.50"/>
<line x1="128.1" y1="434.0" x2="115.8" y2="437.1" stroke="#da744a" stroke-width="1.50"/>
<polygon points="231.9,424.7 192.0,423.5 208.8,460.6" fill="#29aab2" fill-opacity="0.48" stroke="#e8e8e8" stroke-width="0.60" stroke-opacity="0.40" stroke-linejoin="round"/>
<line x1="209.4" y1="474.1" x2="209.7" y2="480.9" stroke="#333" stroke-width="0.80" stroke-linecap="round"/>
<line x1="44.9" y1="404.7" x2="43.8" y2="406.3" stroke="#333" stroke-width="0.80" stroke-linecap="round"/>
<polygon points="57.4,505.8 66.1,491.2 85.8,522.9" fill="#a04c29" fill-opacity="0.48" stroke="#e8e8e8" stroke-width="0.60" stroke-opacity="0.40" stroke-linejoin="round"/>
<circle cx="234.5" cy="484.8" r="3.80" fill="url(#g30)"/>
<line x1="96.9" y1="403.1" x2="106.9" y2="403.4" stroke="#333" stroke-width="0.80" stroke-linecap="round"/>
<circle cx="152.5" cy="428.2" r="3.80" fill="url(#g45)"/>
<line x1="40.6" y1="525.8" x2="39.5" y2="527.4" stroke="#333" stroke-width="0.80" stroke-linecap="round"/>
<line x1="210.1" y1="490.6" x2="217.8" y2="494.2" stroke="#da744a" stroke-width="1.50"/>
<line x1="81.5" y1="496.8" x2="73.8" y2="494.0" stroke="#da744a" stroke-width="1.50"/>
<circle cx="210.1" cy="490.6" r="6.00" fill="url(#g54)"/>
<polygon points="234.5,484.8 225.6,497.7 208.8,460.6" fill="#24979d" fill-opacity="0.80" stroke="#e8e8e8" stroke-width="0.60" stroke-opacity="0.90" stroke-linejoin="round"/>
<line x1="128.1" y1="434.0" x2="135.8" y2="436.8" stroke="#da744a" stroke-width="1.50"/>
<circle cx="168.9" cy="459.3" r="5.20" fill="url(#g72)"/>
<circle cx="128.1" cy="434.0" r="6.00" fill="url(#g54)"/>
<line x1="209.1" y1="467.4" x2="209.4" y2="474.1" stroke="#333" stroke-width="0.80" stroke-linecap="round"/>
<circle cx="87.0" cy="402.8" r="5.20" fill="url(#g69)"/>
<polygon points="152.5,428.2 143.5,439.6 126.8,404.0" fill="#23949b" fill-opacity="0.80" stroke="#e8e8e8" stroke-width="0.60" stroke-opacity="0.90" stroke-linejoin="round"/>
<circle cx="66.1" cy="491.2" r="3.80" fill="url(#g61)"/>
<line x1="106.9" y1="403.4" x2="116.8" y2="403.7" stroke="#333" stroke-width="0.80" stroke-linecap="round"/>
<line x1="209.4" y1="475.6" x2="208.8" y2="460.6" stroke="#f00808" stroke-width="1.50"/>
<line x1="127.4" y1="419.0" x2="126.8" y2="404.0" stroke="#f00808" stroke-width="1.50"/>
<line x1="207.8" y1="519.5" x2="206.7" y2="521.1" stroke="#333" stroke-width="0.80" stroke-linecap="round"/>
<line x1="81.5" y1="496.8" x2="93.6" y2="492.3" stroke="#da744a" stroke-width="1.50"/>
<line x1="208.8" y1="460.6" x2="209.1" y2="467.4" stroke="#333" stroke-width="0.80" stroke-linecap="round"/>
<line x1="81.5" y1="496.8" x2="83.7" y2="509.8" stroke="#da744a" stroke-width="1.50"/>
<line x1="43.8" y1="406.3" x2="42.7" y2="407.9" stroke="#333" stroke-width="0.80" stroke-linecap="round"/>
<line x1="116.8" y1="403.7" x2="126.8" y2="404.0" stroke="#333" stroke-width="0.80" stroke-linecap="round"/>
<line x1="219.7" y1="427.7" x2="231.9" y2="424.7" stroke="#f00808" stroke-width="1.50"/>
<line x1="39.5" y1="527.4" x2="38.4" y2="529.0" stroke="#333" stroke-width="0.80" stroke-linecap="round"/>
<line x1="197.8" y1="493.8" x2="185.6" y2="497.0" stroke="#f00808" stroke-width="1.50"/>
<line x1="115.8" y1="437.1" x2="103.6" y2="440.1" stroke="#f00808" stroke-width="1.50"/>
<line x1="208.5" y1="453.8" x2="208.8" y2="460.6" stroke="#333" stroke-width="0.80" stroke-linecap="round"/>
<polygon points="105.6,487.8 96.9,502.4 85.8,522.9" fill="#612e18" fill-opacity="0.80" stroke="#e8e8e8" stroke-width="0.60" stroke-opacity="0.90" stroke-linejoin="round"/>
<line x1="126.8" y1="404.0" x2="136.8" y2="404.3" stroke="#333" stroke-width="0.80" stroke-linecap="round"/>
<polygon points="57.4,505.8 66.1,491.2 77.2,470.5" fill="#9f4b27" fill-opacity="0.48" stroke="#e8e8e8" stroke-width="0.60" stroke-opacity="0.40" stroke-linejoin="round"/>
<line x1="153.4" y1="495.0" x2="145.7" y2="490.7" stroke="#f00808" stroke-width="1.50"/>
<line x1="208.2" y1="445.6" x2="208.8" y2="460.6" stroke="#f00808" stroke-width="1.50"/>
<line x1="206.7" y1="521.1" x2="205.5" y2="522.8" stroke="#333" stroke-width="0.80" stroke-linecap="round"/>
<line x1="71.4" y1="438.4" x2="63.7" y2="434.1" stroke="#f00808" stroke-width="1.50"/>
<line x1="208.2" y1="447.1" x2="208.5" y2="453.8" stroke="#333" stroke-width="0.80" stroke-linecap="round"/>
<line x1="42.7" y1="407.9" x2="41.5" y2="409.6" stroke="#333" stroke-width="0.80" stroke-linecap="round"/>
<line x1="136.8" y1="404.3" x2="146.7" y2="404.6" stroke="#333" stroke-width="0.80" stroke-linecap="round"/>
<polygon points="183.0,435.9 192.0,423.5 208.8,460.6" fill="#27aab1" fill-opacity="0.48" stroke="#e8e8e8" stroke-width="0.60" stroke-opacity="0.40" stroke-linejoin="round"/>
<line x1="207.5" y1="430.6" x2="199.8" y2="427.0" stroke="#da744a" stroke-width="1.50"/>
<line x1="81.5" y1="496.8" x2="79.3" y2="483.7" stroke="#da744a" stroke-width="1.50"/>
<polygon points="185.6,497.0 145.7,490.7 158.7,526.9" fill="#9f4b27" fill-opacity="0.48" stroke="#e8e8e8" stroke-width="0.60" stroke-opacity="0.40" stroke-linejoin="round"/>
<line x1="38.4" y1="529.0" x2="37.2" y2="530.7" stroke="#333" stroke-width="0.80" stroke-linecap="round"/>
<polygon points="103.6,440.1 63.7,434.1 77.2,470.5" fill="#9f4b27" fill-opacity="0.48" stroke="#e8e8e8" stroke-width="0.60" stroke-opacity="0.40" stroke-linejoin="round"/>
<line x1="81.5" y1="496.8" x2="69.4" y2="501.3" stroke="#da744a" stroke-width="1.50"/>
<polygon points="185.6,497.0 225.6,497.7 208.8,460.6" fill="#35e6f0" fill-opacity="0.80" stroke="#e8e8e8" stroke-width="0.60" stroke-opacity="0.90" stroke-linejoin="round"/>
<line x1="207.9" y1="440.3" x2="208.2" y2="447.1" stroke="#333" stroke-width="0.80" stroke-linecap="round"/>
<circle cx="192.0" cy="423.5" r="3.80" fill="url(#g66)"/>
<line x1="146.7" y1="404.6" x2="156.7" y2="404.9" stroke="#333" stroke-width="0.80" stroke-linecap="round"/>
<polygon points="103.6,440.1 143.5,439.6 126.8,404.0" fill="#35e5ef" fill-opacity="0.80" stroke="#e8e8e8" stroke-width="0.60" stroke-opacity="0.90" stroke-linejoin="round"/>
<line x1="207.5" y1="430.6" x2="219.7" y2="427.7" stroke="#da744a" stroke-width="1.50"/>
<circle cx="122.5" cy="525.1" r="5.20" fill="url(#g50)"/>
<circle cx="40.5" cy="468.5" r="5.20" fill="url(#g50)"/>
<line x1="217.8" y1="494.2" x2="225.6" y2="497.7" stroke="#f00808" stroke-width="1.50"/>
<circle cx="105.6" cy="487.8" r="3.80" fill="url(#g56)"/>
<line x1="205.5" y1="522.8" x2="204.4" y2="524.4" stroke="#333" stroke-width="0.80" stroke-linecap="round"/>
<line x1="81.5" y1="496.8" x2="89.2" y2="499.6" stroke="#da744a" stroke-width="1.50"/>
<line x1="207.5" y1="430.6" x2="208.2" y2="445.6" stroke="#da744a" stroke-width="1.50"/>
<circle cx="81.5" cy="496.8" r="6.00" fill="url(#g51)"/>
<circle cx="23.7" cy="431.4" r="3.80" fill="url(#g56)"/>
<line x1="173.4" y1="498.2" x2="185.6" y2="497.0" stroke="#f00808" stroke-width="1.50"/>
<line x1="207.6" y1="433.6" x2="207.9" y2="440.3" stroke="#333" stroke-width="0.80" stroke-linecap="round"/>
<line x1="135.8" y1="436.8" x2="143.5" y2="439.6" stroke="#f00808" stroke-width="1.50"/>
<line x1="156.7" y1="404.9" x2="166.6" y2="405.2" stroke="#333" stroke-width="0.80" stroke-linecap="round"/>
<line x1="91.4" y1="441.4" x2="103.6" y2="440.1" stroke="#f00808" stroke-width="1.50"/>
<line x1="41.5" y1="409.6" x2="40.4" y2="411.2" stroke="#333" stroke-width="0.80" stroke-linecap="round"/>
<polygon points="105.6,487.8 96.9,502.4 77.2,470.5" fill="#924524" fill-opacity="0.80" stroke="#e8e8e8" stroke-width="0.60" stroke-opacity="0.90" stroke-linejoin="round"/>
<polygon points="185.6,497.0 145.7,490.7 163.7,471.4" fill="#9f4b27" fill-opacity="0.48" stroke="#e8e8e8" stroke-width="0.60" stroke-opacity="0.40" stroke-linejoin="round"/>
<line x1="37.2" y1="530.7" x2="36.1" y2="532.3" stroke="#333" stroke-width="0.80" stroke-linecap="round"/>
<polygon points="103.6,440.1 63.7,434.1 81.2,415.1" fill="#9f4b27" fill-opacity="0.48" stroke="#e8e8e8" stroke-width="0.60" stroke-opacity="0.40" stroke-linejoin="round"/>
<circle cx="85.8" cy="522.9" r="3.80" fill="url(#g67)"/>
<polygon points="231.9,424.7 223.0,437.6 208.8,460.6" fill="#18686c" fill-opacity="0.80" stroke="#e8e8e8" stroke-width="0.60" stroke-opacity="0.90" stroke-linejoin="round"/>
<line x1="79.3" y1="483.7" x2="77.2" y2="470.5" stroke="#f00808" stroke-width="1.50"/>
<circle cx="207.5" cy="430.6" r="6.00" fill="url(#g51)"/>
<polygon points="231.9,424.7 223.0,437.6 183.0,435.9 192.0,423.5" fill="#219197" fill-opacity="0.80" stroke="#e8e8e8" stroke-width="0.60" stroke-opacity="0.90" stroke-linejoin="round"/>
<polygon points="57.4,505.8 96.9,502.4 85.8,522.9" fill="#a24c28" fill-opacity="0.80" stroke="#e8e8e8" stroke-width="0.60" stroke-opacity="0.90" stroke-linejoin="round"/>
<line x1="207.4" y1="426.8" x2="207.6" y2="433.6" stroke="#333" stroke-width="0.80" stroke-linecap="round"/>
<line x1="166.6" y1="405.2" x2="176.6" y2="405.6" stroke="#333" stroke-width="0.80" stroke-linecap="round"/>
<line x1="69.4" y1="501.3" x2="57.4" y2="505.8" stroke="#f00808" stroke-width="1.50"/>
<line x1="25.1" y1="507.9" x2="17.4" y2="504.4" stroke="#f00808" stroke-width="1.50"/>
<line x1="204.4" y1="524.4" x2="203.3" y2="526.0" stroke="#333" stroke-width="0.80" stroke-linecap="round"/>
<line x1="207.1" y1="420.0" x2="207.4" y2="426.8" stroke="#333" stroke-width="0.80" stroke-linecap="round"/>
<line x1="176.6" y1="405.6" x2="186.6" y2="405.9" stroke="#333" stroke-width="0.80" stroke-linecap="round"/>
<line x1="40.4" y1="411.2" x2="39.3" y2="412.8" stroke="#333" stroke-width="0.80" stroke-linecap="round"/>
<line x1="161.2" y1="499.3" x2="153.4" y2="495.0" stroke="#da744a" stroke-width="1.50"/>
<line x1="207.5" y1="430.6" x2="195.3" y2="433.2" stroke="#da744a" stroke-width="1.50"/>
<line x1="36.1" y1="532.3" x2="35.0" y2="533.9" stroke="#333" stroke-width="0.80" stroke-linecap="round"/>
<line x1="79.2" y1="442.7" x2="71.4" y2="438.4" stroke="#da744a" stroke-width="1.50"/>
<line x1="159.9" y1="513.1" x2="158.7" y2="526.9" stroke="#f00808" stroke-width="1.50"/>
<line x1="78.2" y1="456.6" x2="77.2" y2="470.5" stroke="#f00808" stroke-width="1.50"/>
<circle cx="166.6" cy="405.2" r="5.20" fill="url(#g50)"/>
<polygon points="136.8,501.6 145.7,490.7 158.7,526.9" fill="#9f4b27" fill-opacity="0.48" stroke="#e8e8e8" stroke-width="0.60" stroke-opacity="0.40" stroke-linejoin="round"/>
<circle cx="231.9" cy="424.7" r="3.80" fill="url(#g65)"/>
<line x1="206.8" y1="413.3" x2="207.1" y2="420.0" stroke="#333" stroke-width="0.80" stroke-linecap="round"/>
<line x1="186.6" y1="405.9" x2="196.5" y2="406.2" stroke="#333" stroke-width="0.80" stroke-linecap="round"/>
<polygon points="54.8,445.3 63.7,434.1 77.2,470.5" fill="#9f4b27" fill-opacity="0.48" stroke="#e8e8e8" stroke-width="0.60" stroke-opacity="0.40" stroke-linejoin="round"/>
<line x1="161.2" y1="499.3" x2="173.4" y2="498.2" stroke="#da744a" stroke-width="1.50"/>
<circle cx="145.7" cy="490.7" r="3.80" fill="url(#g63)"/>
<line x1="207.5" y1="430.6" x2="215.3" y2="434.1" stroke="#da744a" stroke-width="1.50"/>
<line x1="79.2" y1="442.7" x2="91.4" y2="441.4" stroke="#da744a" stroke-width="1.50"/>
<path d="M201.53,430.83 A6.00,6.00 0 0 1 213.52,430.32 A6.00,1.90 -2.5 0 1 201.53,430.83 Z" fill="url(#g51)"/>
<circle cx="63.7" cy="434.1" r="3.80" fill="url(#g57)"/>
<line x1="203.3" y1="526.0" x2="202.2" y2="527.6" stroke="#333" stroke-width="0.80" stroke-linecap="round"/>
<line x1="206.5" y1="406.5" x2="206.8" y2="413.3" stroke="#333" stroke-width="0.80" stroke-linecap="round"/>
<line x1="196.5" y1="406.2" x2="206.5" y2="406.5" stroke="#333" stroke-width="0.80" stroke-linecap="round"/>
<polygon points="57.4,505.8 96.9,502.4 77.2,470.5" fill="#d76535" fill-opacity="0.80" stroke="#e8e8e8" stroke-width="0.60" stroke-opacity="0.90" stroke-linejoin="round"/>
<line x1="161.2" y1="499.3" x2="159.9" y2="513.1" stroke="#da744a" stroke-width="1.50"/>
<line x1="39.3" y1="412.8" x2="38.2" y2="414.4" stroke="#333" stroke-width="0.80" stroke-linecap="round"/>
<line x1="79.2" y1="442.7" x2="78.2" y2="456.6" stroke="#da744a" stroke-width="1.50"/>
<line x1="45.1" y1="508.6" x2="57.4" y2="505.8" stroke="#f00808" stroke-width="1.50"/>
<line x1="35.0" y1="533.9" x2="33.9" y2="535.5" stroke="#333" stroke-width="0.80" stroke-linecap="round"/>
<circle cx="208.8" cy="460.6" r="3.80" fill="url(#g2)"/>
<polygon points="136.8,501.6 145.7,490.7 163.7,471.4" fill="#622e18" fill-opacity="0.80" stroke="#e8e8e8" stroke-width="0.60" stroke-opacity="0.90" stroke-linejoin="round"/>
<polygon points="183.0,435.9 223.0,437.6 208.8,460.6" fill="#2ab8c0" fill-opacity="0.80" stroke="#e8e8e8" stroke-width="0.60" stroke-opacity="0.90" stroke-linejoin="round"/>
<line x1="89.2" y1="499.6" x2="96.9" y2="502.4" stroke="#f00808" stroke-width="1.50"/>
<circle cx="126.8" cy="404.0" r="3.80" fill="url(#g2)"/>
<polygon points="185.6,497.0 176.7,507.9 158.7,526.9" fill="#9f4b27" fill-opacity="0.48" stroke="#e8e8e8" stroke-width="0.60" stroke-opacity="0.40" stroke-linejoin="round"/>
<polygon points="54.8,445.3 63.7,434.1 81.2,415.1" fill="#622e18" fill-opacity="0.80" stroke="#e8e8e8" stroke-width="0.60" stroke-opacity="0.90" stroke-linejoin="round"/>
<polygon points="103.6,440.1 94.7,451.3 77.2,470.5" fill="#9f4b27" fill-opacity="0.48" stroke="#e8e8e8" stroke-width="0.60" stroke-opacity="0.40" stroke-linejoin="round"/>
<line x1="151.2" y1="442.4" x2="143.5" y2="439.6" stroke="#f00808" stroke-width="1.50"/>
<polygon points="57.4,505.8 17.4,504.4 31.6,481.4" fill="#27aab1" fill-opacity="0.48" stroke="#e8e8e8" stroke-width="0.60" stroke-opacity="0.40" stroke-linejoin="round"/>
<line x1="206.5" y1="406.5" x2="205.4" y2="408.1" stroke="#333" stroke-width="0.80" stroke-linecap="round"/>
<line x1="195.3" y1="433.2" x2="183.0" y2="435.9" stroke="#f00808" stroke-width="1.50"/>
<line x1="161.2" y1="499.3" x2="162.4" y2="485.3" stroke="#da744a" stroke-width="1.50"/>
<line x1="202.2" y1="527.6" x2="201.1" y2="529.2" stroke="#333" stroke-width="0.80" stroke-linecap="round"/>
<polygon points="183.0,435.9 143.5,439.6 163.7,471.4" fill="#9f4b27" fill-opacity="0.48" stroke="#e8e8e8" stroke-width="0.60" stroke-opacity="0.40" stroke-linejoin="round"/>
<line x1="79.2" y1="442.7" x2="80.2" y2="428.9" stroke="#da744a" stroke-width="1.50"/>
<line x1="33.9" y1="535.5" x2="43.9" y2="535.8" stroke="#333" stroke-width="0.80" stroke-linecap="round"/>
<line x1="33.6" y1="528.7" x2="33.9" y2="535.5" stroke="#333" stroke-width="0.80" stroke-linecap="round"/>
<line x1="38.2" y1="414.4" x2="37.1" y2="416.0" stroke="#333" stroke-width="0.80" stroke-linecap="round"/>
<circle cx="185.6" cy="497.0" r="3.80" fill="url(#g2)"/>
<line x1="161.2" y1="499.3" x2="149.0" y2="500.4" stroke="#da744a" stroke-width="1.50"/>
<line x1="32.9" y1="511.4" x2="25.1" y2="507.9" stroke="#da744a" stroke-width="1.50"/>
<circle cx="103.6" cy="440.1" r="3.80" fill="url(#g2)"/>
<line x1="79.2" y1="442.7" x2="67.0" y2="444.0" stroke="#da744a" stroke-width="1.50"/>
<polygon points="185.6,497.0 176.7,507.9 163.7,471.4" fill="#884021" fill-opacity="0.80" stroke="#e8e8e8" stroke-width="0.60" stroke-opacity="0.90" stroke-linejoin="round"/>
<circle cx="202.2" cy="527.6" r="5.20" fill="url(#g50)"/>
<line x1="43.9" y1="535.8" x2="53.8" y2="536.1" stroke="#333" stroke-width="0.80" stroke-linecap="round"/>
<line x1="33.3" y1="522.0" x2="33.6" y2="528.7" stroke="#333" stroke-width="0.80" stroke-linecap="round"/>
<line x1="162.4" y1="485.3" x2="163.7" y2="471.4" stroke="#f00808" stroke-width="1.50"/>
<polygon points="103.6,440.1 94.7,451.3 81.2,415.1" fill="#894122" fill-opacity="0.80" stroke="#e8e8e8" stroke-width="0.60" stroke-opacity="0.90" stroke-linejoin="round"/>
<circle cx="120.2" cy="471.0" r="5.20" fill="url(#g50)"/>
<circle cx="17.4" cy="504.4" r="3.80" fill="url(#g2)"/>
<line x1="161.2" y1="499.3" x2="169.0" y2="503.6" stroke="#da744a" stroke-width="1.50"/>
<line x1="205.4" y1="408.1" x2="204.3" y2="409.7" stroke="#333" stroke-width="0.80" stroke-linecap="round"/>
<line x1="80.2" y1="428.9" x2="81.2" y2="415.1" stroke="#f00808" stroke-width="1.50"/>
<circle cx="38.2" cy="414.4" r="5.20" fill="url(#g50)"/>
<circle cx="161.2" cy="499.3" r="6.00" fill="url(#g51)"/>
<line x1="79.2" y1="442.7" x2="87.0" y2="447.0" stroke="#da744a" stroke-width="1.50"/>
<line x1="32.9" y1="511.4" x2="45.1" y2="508.6" stroke="#da744a" stroke-width="1.50"/>
<circle cx="79.2" cy="442.7" r="6.00" fill="url(#g51)"/>
<line x1="201.1" y1="529.2" x2="200.0" y2="530.8" stroke="#333" stroke-width="0.80" stroke-linecap="round"/>
<line x1="53.8" y1="536.1" x2="63.8" y2="536.4" stroke="#333" stroke-width="0.80" stroke-linecap="round"/>
<line x1="33.0" y1="515.2" x2="33.3" y2="522.0" stroke="#333" stroke-width="0.80" stroke-linecap="round"/>
<line x1="37.1" y1="416.0" x2="36.0" y2="417.6" stroke="#333" stroke-width="0.80" stroke-linecap="round"/>
<line x1="215.3" y1="434.1" x2="223.0" y2="437.6" stroke="#f00808" stroke-width="1.50"/>
<line x1="170.9" y1="440.5" x2="183.0" y2="435.9" stroke="#f00808" stroke-width="1.50"/>
<line x1="63.8" y1="536.4" x2="73.8" y2="536.8" stroke="#333" stroke-width="0.80" stroke-linecap="round"/>
<line x1="32.8" y1="508.4" x2="33.0" y2="515.2" stroke="#333" stroke-width="0.80" stroke-linecap="round"/>
<polygon points="57.4,505.8 48.4,518.5 8.5,517.3 17.4,504.4" fill="#27aab1" fill-opacity="0.48" stroke="#e8e8e8" stroke-width="0.60" stroke-opacity="0.40" stroke-linejoin="round"/>
<polygon points="183.0,435.9 143.5,439.6 154.1,419.3" fill="#9f4b27" fill-opacity="0.48" stroke="#e8e8e8" stroke-width="0.60" stroke-opacity="0.40" stroke-linejoin="round"/>
<line x1="161.3" y1="458.3" x2="163.7" y2="471.4" stroke="#f00808" stroke-width="1.50"/>
<polygon points="8.5,517.3 17.4,504.4 31.6,481.4" fill="#27aab1" fill-opacity="0.48" stroke="#e8e8e8" stroke-width="0.60" stroke-opacity="0.40" stroke-linejoin="round"/>
<polygon points="136.8,501.6 176.7,507.9 158.7,526.9" fill="#af522b" fill-opacity="0.80" stroke="#e8e8e8" stroke-width="0.60" stroke-opacity="0.90" stroke-linejoin="round"/>
<line x1="204.3" y1="409.7" x2="203.2" y2="411.3" stroke="#333" stroke-width="0.80" stroke-linecap="round"/>
<polygon points="54.8,445.3 94.7,451.3 77.2,470.5" fill="#ae522b" fill-opacity="0.80" stroke="#e8e8e8" stroke-width="0.60" stroke-opacity="0.90" stroke-linejoin="round"/>
<polygon points="134.8,454.5 143.5,439.6 163.7,471.4" fill="#9f4b27" fill-opacity="0.48" stroke="#e8e8e8" stroke-width="0.60" stroke-opacity="0.40" stroke-linejoin="round"/>
<line x1="200.0" y1="530.8" x2="198.9" y2="532.4" stroke="#333" stroke-width="0.80" stroke-linecap="round"/>
<line x1="149.0" y1="500.4" x2="136.8" y2="501.6" stroke="#f00808" stroke-width="1.50"/>
<line x1="73.8" y1="536.8" x2="83.7" y2="537.1" stroke="#333" stroke-width="0.80" stroke-linecap="round"/>
<line x1="104.6" y1="505.2" x2="96.9" y2="502.4" stroke="#f00808" stroke-width="1.50"/>
<line x1="32.5" y1="501.7" x2="32.8" y2="508.4" stroke="#333" stroke-width="0.80" stroke-linecap="round"/>
<line x1="67.0" y1="444.0" x2="54.8" y2="445.3" stroke="#f00808" stroke-width="1.50"/>
<circle cx="158.7" cy="526.9" r="3.80" fill="url(#g2)"/>
<circle cx="77.2" cy="470.5" r="3.80" fill="url(#g2)"/>
<line x1="32.9" y1="511.4" x2="32.2" y2="496.4" stroke="#da744a" stroke-width="1.50"/>
<line x1="158.9" y1="445.2" x2="151.2" y2="442.4" stroke="#da744a" stroke-width="1.50"/>
<line x1="36.0" y1="417.6" x2="34.9" y2="419.2" stroke="#333" stroke-width="0.80" stroke-linecap="round"/>
<circle cx="225.6" cy="497.7" r="3.80" fill="url(#g2)"/>
<line x1="22.6" y1="447.8" x2="14.8" y2="444.3" stroke="#f00808" stroke-width="1.50"/>
<line x1="32.9" y1="511.4" x2="20.7" y2="514.3" stroke="#da744a" stroke-width="1.50"/>
<circle cx="143.5" cy="439.6" r="3.80" fill="url(#g2)"/>
<polygon points="136.8,501.6 96.9,502.4 113.6,538.0" fill="#27aab1" fill-opacity="0.48" stroke="#e8e8e8" stroke-width="0.60" stroke-opacity="0.40" stroke-linejoin="round"/>
<line x1="83.7" y1="537.1" x2="93.7" y2="537.4" stroke="#333" stroke-width="0.80" stroke-linecap="round"/>
<polygon points="54.8,445.3 14.8,444.3 31.6,481.4" fill="#27aab1" fill-opacity="0.48" stroke="#e8e8e8" stroke-width="0.60" stroke-opacity="0.40" stroke-linejoin="round"/>
<line x1="32.2" y1="494.9" x2="32.5" y2="501.7" stroke="#333" stroke-width="0.80" stroke-linecap="round"/>
<circle cx="57.4" cy="505.8" r="3.80" fill="url(#g2)"/>
<line x1="158.9" y1="445.2" x2="170.9" y2="440.5" stroke="#da744a" stroke-width="1.50"/>
<polygon points="136.8,501.6 176.7,507.9 163.7,471.4" fill="#d56534" fill-opacity="0.80" stroke="#e8e8e8" stroke-width="0.60" stroke-opacity="0.90" stroke-linejoin="round"/>
<line x1="203.2" y1="411.3" x2="202.1" y2="412.9" stroke="#333" stroke-width="0.80" stroke-linecap="round"/>
<line x1="158.9" y1="445.2" x2="161.3" y2="458.3" stroke="#da744a" stroke-width="1.50"/>
<polygon points="54.8,445.3 94.7,451.3 81.2,415.1" fill="#d56534" fill-opacity="0.80" stroke="#e8e8e8" stroke-width="0.60" stroke-opacity="0.90" stroke-linejoin="round"/>
<line x1="32.9" y1="511.4" x2="40.6" y2="515.0" stroke="#da744a" stroke-width="1.50"/>
<circle cx="73.8" cy="536.8" r="5.20" fill="url(#g50)"/>
<circle cx="32.9" cy="511.4" r="6.00" fill="url(#g51)"/>
<polygon points="57.4,505.8 48.4,518.5 31.6,481.4" fill="#22969c" fill-opacity="0.80" stroke="#e8e8e8" stroke-width="0.60" stroke-opacity="0.90" stroke-linejoin="round"/>
<line x1="93.7" y1="537.4" x2="103.6" y2="537.7" stroke="#333" stroke-width="0.80" stroke-linecap="round"/>
<line x1="198.9" y1="532.4" x2="197.8" y2="534.0" stroke="#333" stroke-width="0.80" stroke-linecap="round"/>
<line x1="31.9" y1="488.2" x2="32.2" y2="494.9" stroke="#333" stroke-width="0.80" stroke-linecap="round"/>
<line x1="169.0" y1="503.6" x2="176.7" y2="507.9" stroke="#f00808" stroke-width="1.50"/>
<line x1="34.9" y1="419.2" x2="33.8" y2="420.8" stroke="#333" stroke-width="0.80" stroke-linecap="round"/>
<line x1="32.2" y1="496.4" x2="31.6" y2="481.4" stroke="#f00808" stroke-width="1.50"/>
<line x1="87.0" y1="447.0" x2="94.7" y2="451.3" stroke="#f00808" stroke-width="1.50"/>
<polygon points="183.0,435.9 174.3,450.8 163.7,471.4" fill="#612e18" fill-opacity="0.80" stroke="#e8e8e8" stroke-width="0.60" stroke-opacity="0.90" stroke-linejoin="round"/>
<line x1="103.6" y1="537.7" x2="113.6" y2="538.0" stroke="#333" stroke-width="0.80" stroke-linecap="round"/>
<polygon points="134.8,454.5 143.5,439.6 154.1,419.3" fill="#9f4b27" fill-opacity="0.48" stroke="#e8e8e8" stroke-width="0.60" stroke-opacity="0.40" stroke-linejoin="round"/>
<line x1="31.6" y1="481.4" x2="31.9" y2="488.2" stroke="#333" stroke-width="0.80" stroke-linecap="round"/>
<line x1="124.6" y1="504.8" x2="136.8" y2="501.6" stroke="#f00808" stroke-width="1.50"/>
<line x1="42.6" y1="448.3" x2="54.8" y2="445.3" stroke="#f00808" stroke-width="1.50"/>
<line x1="202.1" y1="412.9" x2="200.9" y2="414.6" stroke="#333" stroke-width="0.80" stroke-linecap="round"/>
<line x1="20.7" y1="514.3" x2="8.5" y2="517.3" stroke="#f00808" stroke-width="1.50"/>
<line x1="113.6" y1="538.0" x2="123.6" y2="538.3" stroke="#333" stroke-width="0.80" stroke-linecap="round"/>
<line x1="197.8" y1="534.0" x2="196.6" y2="535.7" stroke="#333" stroke-width="0.80" stroke-linecap="round"/>
<line x1="31.3" y1="474.6" x2="31.6" y2="481.4" stroke="#333" stroke-width="0.80" stroke-linecap="round"/>
<line x1="158.9" y1="445.2" x2="156.5" y2="432.3" stroke="#da744a" stroke-width="1.50"/>
<line x1="158.9" y1="445.2" x2="146.9" y2="449.9" stroke="#da744a" stroke-width="1.50"/>
<line x1="33.8" y1="420.8" x2="32.6" y2="422.5" stroke="#333" stroke-width="0.80" stroke-linecap="round"/>
<line x1="113.0" y1="523.0" x2="113.6" y2="538.0" stroke="#f00808" stroke-width="1.50"/>
<line x1="31.0" y1="466.4" x2="31.6" y2="481.4" stroke="#f00808" stroke-width="1.50"/>
<line x1="123.6" y1="538.3" x2="133.5" y2="538.6" stroke="#333" stroke-width="0.80" stroke-linecap="round"/>
<polygon points="87.9,513.8 96.9,502.4 113.6,538.0" fill="#27aab1" fill-opacity="0.48" stroke="#e8e8e8" stroke-width="0.60" stroke-opacity="0.40" stroke-linejoin="round"/>
<circle cx="199.9" cy="473.5" r="5.20" fill="url(#g50)"/>
<line x1="31.0" y1="467.9" x2="31.3" y2="474.6" stroke="#333" stroke-width="0.80" stroke-linecap="round"/>
<line x1="112.3" y1="508.0" x2="104.6" y2="505.2" stroke="#da744a" stroke-width="1.50"/>
<polygon points="5.9,457.2 14.8,444.3 31.6,481.4" fill="#27aab1" fill-opacity="0.48" stroke="#e8e8e8" stroke-width="0.60" stroke-opacity="0.40" stroke-linejoin="round"/>
<circle cx="117.9" cy="416.9" r="5.20" fill="url(#g50)"/>
<line x1="158.9" y1="445.2" x2="166.6" y2="448.0" stroke="#da744a" stroke-width="1.50"/>
<circle cx="183.0" cy="435.9" r="3.80" fill="url(#g2)"/>
<line x1="30.3" y1="451.4" x2="22.6" y2="447.8" stroke="#da744a" stroke-width="1.50"/>
<circle cx="158.9" cy="445.2" r="6.00" fill="url(#g51)"/>
<line x1="200.9" y1="414.6" x2="199.8" y2="416.2" stroke="#333" stroke-width="0.80" stroke-linecap="round"/>
<circle cx="96.9" cy="502.4" r="3.80" fill="url(#g2)"/>
<line x1="133.5" y1="538.6" x2="143.5" y2="538.9" stroke="#333" stroke-width="0.80" stroke-linecap="round"/>
<line x1="196.6" y1="535.7" x2="195.5" y2="537.3" stroke="#333" stroke-width="0.80" stroke-linecap="round"/>
<polygon points="183.0,435.9 174.3,450.8 154.1,419.3" fill="#934524" fill-opacity="0.80" stroke="#e8e8e8" stroke-width="0.60" stroke-opacity="0.90" stroke-linejoin="round"/>
<line x1="30.7" y1="461.1" x2="31.0" y2="467.9" stroke="#333" stroke-width="0.80" stroke-linecap="round"/>
<polygon points="8.5,517.3 48.4,518.5 31.6,481.4" fill="#35e6f1" fill-opacity="0.80" stroke="#e8e8e8" stroke-width="0.60" stroke-opacity="0.90" stroke-linejoin="round"/>
<circle cx="14.8" cy="444.3" r="3.80" fill="url(#g2)"/>
<circle cx="163.7" cy="471.4" r="3.80" fill="url(#g2)"/>
<line x1="112.3" y1="508.0" x2="124.6" y2="504.8" stroke="#da744a" stroke-width="1.50"/>
<line x1="32.6" y1="422.5" x2="31.5" y2="424.1" stroke="#333" stroke-width="0.80" stroke-linecap="round"/>
<line x1="30.3" y1="451.4" x2="42.6" y2="448.3" stroke="#da744a" stroke-width="1.50"/>
<circle cx="81.2" cy="415.1" r="3.80" fill="url(#g2)"/>
<line x1="156.5" y1="432.3" x2="154.1" y2="419.3" stroke="#f00808" stroke-width="1.50"/>
<polygon points="134.8,454.5 174.3,450.8 163.7,471.4" fill="#a24c28" fill-opacity="0.80" stroke="#e8e8e8" stroke-width="0.60" stroke-opacity="0.90" stroke-linejoin="round"/>
<line x1="112.3" y1="508.0" x2="113.0" y2="523.0" stroke="#da744a" stroke-width="1.50"/>
<line x1="40.6" y1="515.0" x2="48.4" y2="518.5" stroke="#f00808" stroke-width="1.50"/>
<line x1="143.5" y1="538.9" x2="153.4" y2="539.2" stroke="#333" stroke-width="0.80" stroke-linecap="round"/>
<line x1="30.3" y1="451.4" x2="31.0" y2="466.4" stroke="#da744a" stroke-width="1.50"/>
<line x1="30.5" y1="454.3" x2="30.7" y2="461.1" stroke="#333" stroke-width="0.80" stroke-linecap="round"/>
<line x1="146.9" y1="449.9" x2="134.8" y2="454.5" stroke="#f00808" stroke-width="1.50"/>
<line x1="184.5" y1="512.1" x2="176.7" y2="507.9" stroke="#f00808" stroke-width="1.50"/>
<line x1="102.5" y1="455.5" x2="94.7" y2="451.3" stroke="#f00808" stroke-width="1.50"/>
<polygon points="136.8,501.6 127.8,515.0 113.6,538.0" fill="#18676c" fill-opacity="0.80" stroke="#e8e8e8" stroke-width="0.60" stroke-opacity="0.90" stroke-linejoin="round"/>
<line x1="199.8" y1="416.2" x2="198.7" y2="417.8" stroke="#333" stroke-width="0.80" stroke-linecap="round"/>
<line x1="153.4" y1="539.2" x2="163.4" y2="539.6" stroke="#333" stroke-width="0.80" stroke-linecap="round"/>
<polygon points="136.8,501.6 127.8,515.0 87.9,513.8 96.9,502.4" fill="#229299" fill-opacity="0.80" stroke="#e8e8e8" stroke-width="0.60" stroke-opacity="0.90" stroke-linejoin="round"/>
<circle cx="112.3" cy="508.0" r="6.00" fill="url(#g51)"/>
<polygon points="54.8,445.3 45.8,458.4 31.6,481.4" fill="#18676c" fill-opacity="0.80" stroke="#e8e8e8" stroke-width="0.60" stroke-opacity="0.90" stroke-linejoin="round"/>
<circle cx="30.3" cy="451.4" r="6.00" fill="url(#g51)"/>
<polygon points="54.8,445.3 45.8,458.4 5.9,457.2 14.8,444.3" fill="#219198" fill-opacity="0.80" stroke="#e8e8e8" stroke-width="0.60" stroke-opacity="0.90" stroke-linejoin="round"/>
<line x1="195.5" y1="537.3" x2="194.4" y2="538.9" stroke="#333" stroke-width="0.80" stroke-linecap="round"/>
<line x1="30.2" y1="447.6" x2="30.5" y2="454.3" stroke="#333" stroke-width="0.80" stroke-linecap="round"/>
<line x1="31.5" y1="424.1" x2="30.4" y2="425.7" stroke="#333" stroke-width="0.80" stroke-linecap="round"/>
<line x1="163.4" y1="539.6" x2="173.4" y2="539.9" stroke="#333" stroke-width="0.80" stroke-linecap="round"/>
<line x1="29.9" y1="440.8" x2="30.2" y2="447.6" stroke="#333" stroke-width="0.80" stroke-linecap="round"/>
<circle cx="223.0" cy="437.6" r="3.80" fill="url(#g2)"/>
<line x1="112.3" y1="508.0" x2="100.1" y2="510.9" stroke="#da744a" stroke-width="1.50"/>
<circle cx="153.4" cy="539.2" r="5.20" fill="url(#g50)"/>
<line x1="30.3" y1="451.4" x2="18.1" y2="454.3" stroke="#da744a" stroke-width="1.50"/>
<line x1="173.4" y1="539.9" x2="183.3" y2="540.2" stroke="#333" stroke-width="0.80" stroke-linecap="round"/>
<line x1="198.7" y1="417.8" x2="197.6" y2="419.4" stroke="#333" stroke-width="0.80" stroke-linecap="round"/>
<circle cx="71.5" cy="482.6" r="5.20" fill="url(#g50)"/>
<polygon points="134.8,454.5 174.3,450.8 154.1,419.3" fill="#d76535" fill-opacity="0.80" stroke="#e8e8e8" stroke-width="0.60" stroke-opacity="0.90" stroke-linejoin="round"/>
<circle cx="136.8" cy="501.6" r="3.80" fill="url(#g2)"/>
<line x1="204.5" y1="513.5" x2="216.7" y2="510.6" stroke="#f00808" stroke-width="1.50"/>
<circle cx="54.8" cy="445.3" r="3.80" fill="url(#g2)"/>
<line x1="29.6" y1="434.1" x2="29.9" y2="440.8" stroke="#333" stroke-width="0.80" stroke-linecap="round"/>
<line x1="194.4" y1="538.9" x2="193.3" y2="540.5" stroke="#333" stroke-width="0.80" stroke-linecap="round"/>
<line x1="122.5" y1="457.2" x2="134.8" y2="454.5" stroke="#f00808" stroke-width="1.50"/>
<line x1="112.3" y1="508.0" x2="120.1" y2="511.5" stroke="#da744a" stroke-width="1.50"/>
<path d="M106.33,508.23 A6.00,6.00 0 0 1 118.32,507.72 A6.00,1.90 -2.5 0 1 106.33,508.23 Z" fill="url(#g51)"/>
<line x1="30.4" y1="425.7" x2="29.3" y2="427.3" stroke="#333" stroke-width="0.80" stroke-linecap="round"/>
<line x1="30.3" y1="451.4" x2="38.1" y2="454.9" stroke="#da744a" stroke-width="1.50"/>
<line x1="166.6" y1="448.0" x2="174.3" y2="450.8" stroke="#f00808" stroke-width="1.50"/>
<path d="M24.33,451.63 A6.00,6.00 0 0 1 36.32,451.12 A6.00,1.90 -2.5 0 1 24.33,451.63 Z" fill="url(#g51)"/>
<line x1="183.3" y1="540.2" x2="193.3" y2="540.5" stroke="#333" stroke-width="0.80" stroke-linecap="round"/>
<polygon points="216.7,510.6 176.7,507.9 191.0,486.4" fill="#27aab1" fill-opacity="0.48" stroke="#e8e8e8" stroke-width="0.60" stroke-opacity="0.40" stroke-linejoin="round"/>
<polygon points="134.8,454.5 94.7,451.3 109.0,429.8" fill="#27aab1" fill-opacity="0.48" stroke="#e8e8e8" stroke-width="0.60" stroke-opacity="0.40" stroke-linejoin="round"/>
<line x1="29.3" y1="427.3" x2="29.6" y2="434.1" stroke="#333" stroke-width="0.80" stroke-linecap="round"/>
<line x1="193.0" y1="533.7" x2="193.3" y2="540.5" stroke="#333" stroke-width="0.80" stroke-linecap="round"/>
<circle cx="113.6" cy="538.0" r="3.80" fill="url(#g2)"/>
<line x1="197.6" y1="419.4" x2="196.5" y2="421.0" stroke="#333" stroke-width="0.80" stroke-linecap="round"/>
<polygon points="87.9,513.8 127.8,515.0 113.6,538.0" fill="#2ab8c0" fill-opacity="0.80" stroke="#e8e8e8" stroke-width="0.60" stroke-opacity="0.90" stroke-linejoin="round"/>
<circle cx="31.6" cy="481.4" r="3.80" fill="url(#g2)"/>
<polygon points="5.9,457.2 45.8,458.4 31.6,481.4" fill="#2ab8c0" fill-opacity="0.80" stroke="#e8e8e8" stroke-width="0.60" stroke-opacity="0.90" stroke-linejoin="round"/>
<line x1="29.3" y1="427.3" x2="39.3" y2="427.6" stroke="#333" stroke-width="0.80" stroke-linecap="round"/>
<line x1="192.3" y1="516.4" x2="184.5" y2="512.1" stroke="#da744a" stroke-width="1.50"/>
<line x1="110.3" y1="459.8" x2="102.5" y2="455.5" stroke="#da744a" stroke-width="1.50"/>
<line x1="100.1" y1="510.9" x2="87.9" y2="513.8" stroke="#f00808" stroke-width="1.50"/>
<line x1="192.7" y1="527.0" x2="193.0" y2="533.7" stroke="#333" stroke-width="0.80" stroke-linecap="round"/>
<line x1="18.1" y1="454.3" x2="5.9" y2="457.2" stroke="#f00808" stroke-width="1.50"/>
<circle cx="197.6" cy="419.4" r="5.20" fill="url(#g50)"/>
<line x1="39.3" y1="427.6" x2="49.2" y2="427.9" stroke="#333" stroke-width="0.80" stroke-linecap="round"/>
<circle cx="176.7" cy="507.9" r="3.80" fill="url(#g2)"/>
<line x1="192.3" y1="516.4" x2="204.5" y2="513.5" stroke="#da744a" stroke-width="1.50"/>
<circle cx="94.7" cy="451.3" r="3.80" fill="url(#g2)"/>
<line x1="110.3" y1="459.8" x2="122.5" y2="457.2" stroke="#da744a" stroke-width="1.50"/>
<line x1="192.4" y1="520.2" x2="192.7" y2="527.0" stroke="#333" stroke-width="0.80" stroke-linecap="round"/>
<circle cx="8.5" cy="517.3" r="3.80" fill="url(#g2)"/>
<line x1="196.5" y1="421.0" x2="195.4" y2="422.6" stroke="#333" stroke-width="0.80" stroke-linecap="round"/>
<line x1="49.2" y1="427.9" x2="59.2" y2="428.2" stroke="#333" stroke-width="0.80" stroke-linecap="round"/>
<line x1="192.2" y1="513.5" x2="192.4" y2="520.2" stroke="#333" stroke-width="0.80" stroke-linecap="round"/>
<polygon points="216.7,510.6 207.8,523.5 167.9,522.3 176.7,507.9" fill="#27aab1" fill-opacity="0.48" stroke="#e8e8e8" stroke-width="0.60" stroke-opacity="0.40" stroke-linejoin="round"/>
<polygon points="134.8,454.5 125.8,466.9 85.9,465.7 94.7,451.3" fill="#27aab1" fill-opacity="0.48" stroke="#e8e8e8" stroke-width="0.60" stroke-opacity="0.40" stroke-linejoin="round"/>
<polygon points="167.9,522.3 176.7,507.9 191.0,486.4" fill="#18676c" fill-opacity="0.80" stroke="#e8e8e8" stroke-width="0.60" stroke-opacity="0.90" stroke-linejoin="round"/>
<line x1="59.2" y1="428.2" x2="69.2" y2="428.6" stroke="#333" stroke-width="0.80" stroke-linecap="round"/>
<polygon points="85.9,465.7 94.7,451.3 109.0,429.8" fill="#18676c" fill-opacity="0.80" stroke="#e8e8e8" stroke-width="0.60" stroke-opacity="0.90" stroke-linejoin="round"/>
<line x1="120.1" y1="511.5" x2="127.8" y2="515.0" stroke="#f00808" stroke-width="1.50"/>
<line x1="38.1" y1="454.9" x2="45.8" y2="458.4" stroke="#f00808" stroke-width="1.50"/>
<line x1="191.9" y1="506.7" x2="192.2" y2="513.5" stroke="#333" stroke-width="0.80" stroke-linecap="round"/>
<line x1="182.0" y1="453.6" x2="174.3" y2="450.8" stroke="#f00808" stroke-width="1.50"/>
<line x1="192.3" y1="516.4" x2="191.6" y2="501.4" stroke="#da744a" stroke-width="1.50"/>
<line x1="195.4" y1="422.6" x2="194.3" y2="424.2" stroke="#333" stroke-width="0.80" stroke-linecap="round"/>
<line x1="69.2" y1="428.6" x2="79.1" y2="428.9" stroke="#333" stroke-width="0.80" stroke-linecap="round"/>
<line x1="110.3" y1="459.8" x2="109.6" y2="444.8" stroke="#da744a" stroke-width="1.50"/>
<circle cx="154.1" cy="419.3" r="3.80" fill="url(#g2)"/>
<line x1="192.3" y1="516.4" x2="180.1" y2="519.3" stroke="#da744a" stroke-width="1.50"/>
<line x1="110.3" y1="459.8" x2="98.1" y2="462.7" stroke="#da744a" stroke-width="1.50"/>
<polygon points="214.1,450.5 174.3,450.8 191.0,486.4" fill="#27aab1" fill-opacity="0.48" stroke="#e8e8e8" stroke-width="0.60" stroke-opacity="0.40" stroke-linejoin="round"/>
<line x1="191.6" y1="499.9" x2="191.9" y2="506.7" stroke="#333" stroke-width="0.80" stroke-linecap="round"/>
<circle cx="216.7" cy="510.6" r="3.80" fill="url(#g2)"/>
<circle cx="134.8" cy="454.5" r="3.80" fill="url(#g2)"/>
<line x1="79.1" y1="428.9" x2="89.1" y2="429.2" stroke="#333" stroke-width="0.80" stroke-linecap="round"/>
<line x1="192.3" y1="516.4" x2="200.0" y2="520.0" stroke="#da744a" stroke-width="1.50"/>
<circle cx="192.3" cy="516.4" r="6.00" fill="url(#g51)"/>
<line x1="110.3" y1="459.8" x2="118.0" y2="463.4" stroke="#da744a" stroke-width="1.50"/>
<polygon points="216.7,510.6 207.8,523.5 191.0,486.4" fill="#23969d" fill-opacity="0.80" stroke="#e8e8e8" stroke-width="0.60" stroke-opacity="0.90" stroke-linejoin="round"/>
<circle cx="151.2" cy="485.1" r="5.20" fill="url(#g50)"/>
<circle cx="110.3" cy="459.8" r="6.00" fill="url(#g51)"/>
<circle cx="48.4" cy="518.5" r="3.80" fill="url(#g2)"/>
<line x1="191.3" y1="493.2" x2="191.6" y2="499.9" stroke="#333" stroke-width="0.80" stroke-linecap="round"/>
<polygon points="134.8,454.5 125.8,466.9 109.0,429.8" fill="#22959c" fill-opacity="0.80" stroke="#e8e8e8" stroke-width="0.60" stroke-opacity="0.90" stroke-linejoin="round"/>
<circle cx="69.2" cy="428.6" r="5.20" fill="url(#g50)"/>
<line x1="89.1" y1="429.2" x2="99.0" y2="429.5" stroke="#333" stroke-width="0.80" stroke-linecap="round"/>
<line x1="194.3" y1="424.2" x2="193.1" y2="425.8" stroke="#333" stroke-width="0.80" stroke-linecap="round"/>
<line x1="191.6" y1="501.4" x2="191.0" y2="486.4" stroke="#f00808" stroke-width="1.50"/>
<line x1="109.6" y1="444.8" x2="109.0" y2="429.8" stroke="#f00808" stroke-width="1.50"/>
<line x1="191.0" y1="486.4" x2="191.3" y2="493.2" stroke="#333" stroke-width="0.80" stroke-linecap="round"/>
<line x1="99.0" y1="429.5" x2="109.0" y2="429.8" stroke="#333" stroke-width="0.80" stroke-linecap="round"/>
<line x1="201.9" y1="453.5" x2="214.1" y2="450.5" stroke="#f00808" stroke-width="1.50"/>
<line x1="180.1" y1="519.3" x2="167.9" y2="522.3" stroke="#f00808" stroke-width="1.50"/>
<line x1="98.1" y1="462.7" x2="85.9" y2="465.7" stroke="#f00808" stroke-width="1.50"/>
<line x1="190.7" y1="479.6" x2="191.0" y2="486.4" stroke="#333" stroke-width="0.80" stroke-linecap="round"/>
<line x1="109.0" y1="429.8" x2="119.0" y2="430.1" stroke="#333" stroke-width="0.80" stroke-linecap="round"/>
<line x1="193.1" y1="425.8" x2="192.0" y2="427.5" stroke="#333" stroke-width="0.80" stroke-linecap="round"/>
<line x1="190.4" y1="471.4" x2="191.0" y2="486.4" stroke="#f00808" stroke-width="1.50"/>
<line x1="190.4" y1="472.9" x2="190.7" y2="479.6" stroke="#333" stroke-width="0.80" stroke-linecap="round"/>
<polygon points="165.3,462.2 174.3,450.8 191.0,486.4" fill="#27aab1" fill-opacity="0.48" stroke="#e8e8e8" stroke-width="0.60" stroke-opacity="0.40" stroke-linejoin="round"/>
<line x1="119.0" y1="430.1" x2="128.9" y2="430.4" stroke="#333" stroke-width="0.80" stroke-linecap="round"/>
<line x1="189.7" y1="456.4" x2="182.0" y2="453.6" stroke="#da744a" stroke-width="1.50"/>
<circle cx="174.3" cy="450.8" r="3.80" fill="url(#g2)"/>
<line x1="190.1" y1="466.1" x2="190.4" y2="472.9" stroke="#333" stroke-width="0.80" stroke-linecap="round"/>
<polygon points="167.9,522.3 207.8,523.5 191.0,486.4" fill="#35e6f1" fill-opacity="0.80" stroke="#e8e8e8" stroke-width="0.60" stroke-opacity="0.90" stroke-linejoin="round"/>
<line x1="128.9" y1="430.4" x2="138.9" y2="430.7" stroke="#333" stroke-width="0.80" stroke-linecap="round"/>
<polygon points="85.9,465.7 125.8,466.9 109.0,429.8" fill="#35e6f1" fill-opacity="0.80" stroke="#e8e8e8" stroke-width="0.60" stroke-opacity="0.90" stroke-linejoin="round"/>
<line x1="192.0" y1="427.5" x2="190.9" y2="429.1" stroke="#333" stroke-width="0.80" stroke-linecap="round"/>
<line x1="189.7" y1="456.4" x2="201.9" y2="453.5" stroke="#da744a" stroke-width="1.50"/>
<line x1="200.0" y1="520.0" x2="207.8" y2="523.5" stroke="#f00808" stroke-width="1.50"/>
<circle cx="87.9" cy="513.8" r="3.80" fill="url(#g2)"/>
<line x1="189.7" y1="456.4" x2="190.4" y2="471.4" stroke="#da744a" stroke-width="1.50"/>
<line x1="118.0" y1="463.4" x2="125.8" y2="466.9" stroke="#f00808" stroke-width="1.50"/>
<circle cx="5.9" cy="457.2" r="3.80" fill="url(#g2)"/>
<line x1="189.9" y1="459.3" x2="190.1" y2="466.1" stroke="#333" stroke-width="0.80" stroke-linecap="round"/>
<line x1="138.9" y1="430.7" x2="148.8" y2="431.1" stroke="#333" stroke-width="0.80" stroke-linecap="round"/>
<polygon points="214.1,450.5 205.2,463.4 191.0,486.4" fill="#18686c" fill-opacity="0.80" stroke="#e8e8e8" stroke-width="0.60" stroke-opacity="0.90" stroke-linejoin="round"/>
<polygon points="214.1,450.5 205.2,463.4 165.3,462.2 174.3,450.8" fill="#219197" fill-opacity="0.80" stroke="#e8e8e8" stroke-width="0.60" stroke-opacity="0.90" stroke-linejoin="round"/>
<circle cx="189.7" cy="456.4" r="6.00" fill="url(#g51)"/>
<line x1="189.6" y1="452.6" x2="189.9" y2="459.3" stroke="#333" stroke-width="0.80" stroke-linecap="round"/>
<line x1="148.8" y1="431.1" x2="158.8" y2="431.4" stroke="#333" stroke-width="0.80" stroke-linecap="round"/>
<line x1="190.9" y1="429.1" x2="189.8" y2="430.7" stroke="#333" stroke-width="0.80" stroke-linecap="round"/>
<line x1="189.3" y1="445.8" x2="189.6" y2="452.6" stroke="#333" stroke-width="0.80" stroke-linecap="round"/>
<line x1="158.8" y1="431.4" x2="168.8" y2="431.7" stroke="#333" stroke-width="0.80" stroke-linecap="round"/>
<line x1="189.7" y1="456.4" x2="177.5" y2="459.3" stroke="#da744a" stroke-width="1.50"/>
<circle cx="148.8" cy="431.1" r="5.20" fill="url(#g50)"/>
<circle cx="214.1" cy="450.5" r="3.80" fill="url(#g2)"/>
<line x1="189.0" y1="439.1" x2="189.3" y2="445.8" stroke="#333" stroke-width="0.80" stroke-linecap="round"/>
<line x1="168.8" y1="431.7" x2="178.7" y2="432.0" stroke="#333" stroke-width="0.80" stroke-linecap="round"/>
<line x1="189.8" y1="430.7" x2="188.7" y2="432.3" stroke="#333" stroke-width="0.80" stroke-linecap="round"/>
<line x1="189.7" y1="456.4" x2="197.5" y2="459.9" stroke="#da744a" stroke-width="1.50"/>
<path d="M183.73,456.63 A6.00,6.00 0 0 1 195.72,456.12 A6.00,1.90 -2.5 0 1 183.73,456.63 Z" fill="url(#g51)"/>
<circle cx="127.8" cy="515.0" r="3.80" fill="url(#g2)"/>
<circle cx="45.8" cy="458.4" r="3.80" fill="url(#g2)"/>
<line x1="188.7" y1="432.3" x2="189.0" y2="439.1" stroke="#333" stroke-width="0.80" stroke-linecap="round"/>
<line x1="178.7" y1="432.0" x2="188.7" y2="432.3" stroke="#333" stroke-width="0.80" stroke-linecap="round"/>
<circle cx="191.0" cy="486.4" r="3.80" fill="url(#g2)"/>
<polygon points="165.3,462.2 205.2,463.4 191.0,486.4" fill="#2ab8c0" fill-opacity="0.80" stroke="#e8e8e8" stroke-width="0.60" stroke-opacity="0.90" stroke-linejoin="round"/>
<circle cx="109.0" cy="429.8" r="3.80" fill="url(#g2)"/>
<line x1="177.5" y1="459.3" x2="165.3" y2="462.2" stroke="#f00808" stroke-width="1.50"/>
<circle cx="167.9" cy="522.3" r="3.80" fill="url(#g2)"/>
<circle cx="85.9" cy="465.7" r="3.80" fill="url(#g2)"/>
<line x1="197.5" y1="459.9" x2="205.2" y2="463.4" stroke="#f00808" stroke-width="1.50"/>
<circle cx="207.8" cy="523.5" r="3.80" fill="url(#g2)"/>
<circle cx="125.8" cy="466.9" r="3.80" fill="url(#g2)"/>
<circle cx="165.3" cy="462.2" r="3.80" fill="url(#g2)"/>
<circle cx="205.2" cy="463.4" r="3.80" fill="url(#g2)"/>
<line x1="329.4" y1="481.5" x2="322.9" y2="479.3" stroke="#f00808" stroke-width="1.50"/>
<polygon points="362.3,481.5 322.9,479.3 335.9,451.5" fill="#41b4ba" fill-opacity="0.48" stroke="#e8e8e8" stroke-width="0.60" stroke-opacity="0.40" stroke-linejoin="round"/>
<line x1="349.1" y1="482.6" x2="362.3" y2="481.5" stroke="#f00808" stroke-width="1.50"/>
<line x1="329.4" y1="417.1" x2="322.9" y2="414.9" stroke="#f00808" stroke-width="1.50"/>
<circle cx="322.9" cy="479.3" r="3.90" fill="url(#g94)"/>
<line x1="335.9" y1="483.7" x2="329.4" y2="481.5" stroke="#da744a" stroke-width="1.50"/>
<polygon points="362.3,417.1 322.9,414.9 335.9,451.5" fill="#41b4ba" fill-opacity="0.48" stroke="#e8e8e8" stroke-width="0.60" stroke-opacity="0.40" stroke-linejoin="round"/>
<line x1="335.9" y1="499.7" x2="335.9" y2="506.7" stroke="#333" stroke-width="0.80" stroke-linecap="round"/>
<line x1="335.9" y1="483.7" x2="349.1" y2="482.6" stroke="#da744a" stroke-width="1.50"/>
<polygon points="309.5,485.9 322.9,479.3 335.9,451.5" fill="#41b4ba" fill-opacity="0.48" stroke="#e8e8e8" stroke-width="0.60" stroke-opacity="0.40" stroke-linejoin="round"/>
<line x1="335.9" y1="506.7" x2="345.8" y2="507.3" stroke="#333" stroke-width="0.80" stroke-linecap="round"/>
<line x1="335.9" y1="492.7" x2="335.9" y2="499.7" stroke="#333" stroke-width="0.80" stroke-linecap="round"/>
<line x1="335.9" y1="485.7" x2="335.9" y2="492.7" stroke="#333" stroke-width="0.80" stroke-linecap="round"/>
<polygon points="362.3,481.5 348.9,488.1 309.5,485.9 322.9,479.3" fill="#41b4ba" fill-opacity="0.48" stroke="#e8e8e8" stroke-width="0.60" stroke-opacity="0.40" stroke-linejoin="round"/>
<line x1="335.9" y1="478.6" x2="335.9" y2="485.7" stroke="#333" stroke-width="0.80" stroke-linecap="round"/>
<line x1="332.6" y1="508.4" x2="335.9" y2="506.7" stroke="#333" stroke-width="0.80" stroke-linecap="round"/>
<line x1="345.8" y1="507.3" x2="355.6" y2="507.8" stroke="#333" stroke-width="0.80" stroke-linecap="round"/>
<line x1="349.1" y1="418.2" x2="362.3" y2="417.1" stroke="#f00808" stroke-width="1.50"/>
<line x1="335.9" y1="483.7" x2="335.9" y2="467.6" stroke="#da744a" stroke-width="1.50"/>
<line x1="335.9" y1="471.6" x2="335.9" y2="478.6" stroke="#333" stroke-width="0.80" stroke-linecap="round"/>
<line x1="335.9" y1="464.6" x2="335.9" y2="471.6" stroke="#333" stroke-width="0.80" stroke-linecap="round"/>
<line x1="335.9" y1="483.7" x2="322.7" y2="484.8" stroke="#da744a" stroke-width="1.50"/>
<line x1="335.9" y1="457.6" x2="335.9" y2="464.6" stroke="#333" stroke-width="0.80" stroke-linecap="round"/>
<line x1="335.9" y1="467.6" x2="335.9" y2="451.5" stroke="#f00808" stroke-width="1.50"/>
<circle cx="322.9" cy="414.9" r="3.90" fill="url(#g94)"/>
<line x1="355.6" y1="507.8" x2="365.5" y2="508.4" stroke="#333" stroke-width="0.80" stroke-linecap="round"/>
<line x1="335.9" y1="419.3" x2="329.4" y2="417.1" stroke="#da744a" stroke-width="1.50"/>
<polygon points="309.5,421.5 322.9,414.9 335.9,451.5" fill="#41b4ba" fill-opacity="0.48" stroke="#e8e8e8" stroke-width="0.60" stroke-opacity="0.40" stroke-linejoin="round"/>
<line x1="335.9" y1="450.6" x2="335.9" y2="457.6" stroke="#333" stroke-width="0.80" stroke-linecap="round"/>
<circle cx="335.9" cy="483.7" r="6.20" fill="url(#g78)"/>
<line x1="335.9" y1="443.6" x2="335.9" y2="450.6" stroke="#333" stroke-width="0.80" stroke-linecap="round"/>
<polygon points="362.3,481.5 348.9,488.1 335.9,451.5" fill="#3da3a9" fill-opacity="0.80" stroke="#e8e8e8" stroke-width="0.60" stroke-opacity="0.90" stroke-linejoin="round"/>
<line x1="335.9" y1="483.7" x2="342.4" y2="485.9" stroke="#da744a" stroke-width="1.50"/>
<circle cx="362.3" cy="481.5" r="3.90" fill="url(#g94)"/>
<line x1="335.9" y1="435.4" x2="335.9" y2="451.5" stroke="#f00808" stroke-width="1.50"/>
<line x1="335.9" y1="436.5" x2="335.9" y2="443.6" stroke="#333" stroke-width="0.80" stroke-linecap="round"/>
<line x1="408.2" y1="482.7" x2="401.7" y2="480.5" stroke="#f00808" stroke-width="1.50"/>
<line x1="365.5" y1="508.4" x2="375.3" y2="508.9" stroke="#333" stroke-width="0.80" stroke-linecap="round"/>
<line x1="335.9" y1="419.3" x2="349.1" y2="418.2" stroke="#da744a" stroke-width="1.50"/>
<line x1="335.9" y1="429.5" x2="335.9" y2="436.5" stroke="#333" stroke-width="0.80" stroke-linecap="round"/>
<line x1="335.9" y1="419.3" x2="335.9" y2="435.4" stroke="#da744a" stroke-width="1.50"/>
<line x1="322.7" y1="484.8" x2="309.5" y2="485.9" stroke="#f00808" stroke-width="1.50"/>
<line x1="335.9" y1="422.5" x2="335.9" y2="429.5" stroke="#333" stroke-width="0.80" stroke-linecap="round"/>
<line x1="329.2" y1="510.0" x2="332.6" y2="508.4" stroke="#333" stroke-width="0.80" stroke-linecap="round"/>
<circle cx="335.9" cy="419.3" r="6.20" fill="url(#g78)"/>
<polygon points="362.3,417.1 348.9,423.7 309.5,421.5 322.9,414.9" fill="#388c91" fill-opacity="0.80" stroke="#e8e8e8" stroke-width="0.60" stroke-opacity="0.90" stroke-linejoin="round"/>
<line x1="375.3" y1="508.9" x2="385.2" y2="509.5" stroke="#333" stroke-width="0.80" stroke-linecap="round"/>
<line x1="335.9" y1="415.5" x2="335.9" y2="422.5" stroke="#333" stroke-width="0.80" stroke-linecap="round"/>
<line x1="335.9" y1="408.5" x2="335.9" y2="415.5" stroke="#333" stroke-width="0.80" stroke-linecap="round"/>
<polygon points="441.1,482.7 401.7,480.5 414.7,513.9" fill="#ab6141" fill-opacity="0.48" stroke="#e8e8e8" stroke-width="0.60" stroke-opacity="0.40" stroke-linejoin="round"/>
<line x1="335.9" y1="401.4" x2="335.9" y2="408.5" stroke="#333" stroke-width="0.80" stroke-linecap="round"/>
<polygon points="362.3,417.1 348.9,423.7 335.9,451.5" fill="#388d92" fill-opacity="0.80" stroke="#e8e8e8" stroke-width="0.60" stroke-opacity="0.90" stroke-linejoin="round"/>
<line x1="335.9" y1="419.3" x2="322.7" y2="420.4" stroke="#da744a" stroke-width="1.50"/>
<line x1="385.2" y1="509.5" x2="395.0" y2="510.0" stroke="#333" stroke-width="0.80" stroke-linecap="round"/>
<circle cx="375.3" cy="511.7" r="5.70" fill="url(#g109)"/>
<line x1="335.9" y1="394.4" x2="335.9" y2="401.4" stroke="#333" stroke-width="0.80" stroke-linecap="round"/>
<polygon points="309.5,485.9 348.9,488.1 335.9,451.5" fill="#4be1e9" fill-opacity="0.80" stroke="#e8e8e8" stroke-width="0.60" stroke-opacity="0.90" stroke-linejoin="round"/>
<polygon points="441.1,482.7 401.7,480.5 414.7,455.9" fill="#ab6141" fill-opacity="0.48" stroke="#e8e8e8" stroke-width="0.60" stroke-opacity="0.40" stroke-linejoin="round"/>
<line x1="335.9" y1="394.4" x2="345.8" y2="395.0" stroke="#333" stroke-width="0.80" stroke-linecap="round"/>
<path d="M329.70,419.32 A6.20,6.20 0 0 1 342.10,419.30 A6.20,1.04 -0.1 0 1 329.70,419.32 Z" fill="url(#g78)"/>
<line x1="408.2" y1="424.7" x2="401.7" y2="422.5" stroke="#f00808" stroke-width="1.50"/>
<line x1="427.9" y1="483.8" x2="441.1" y2="482.7" stroke="#f00808" stroke-width="1.50"/>
<line x1="335.9" y1="419.3" x2="342.4" y2="421.5" stroke="#da744a" stroke-width="1.50"/>
<circle cx="362.3" cy="417.1" r="3.90" fill="url(#g94)"/>
<line x1="395.0" y1="510.0" x2="404.9" y2="510.6" stroke="#333" stroke-width="0.80" stroke-linecap="round"/>
<line x1="342.4" y1="485.9" x2="348.9" y2="488.1" stroke="#f00808" stroke-width="1.50"/>
<line x1="332.6" y1="396.1" x2="335.9" y2="394.4" stroke="#333" stroke-width="0.80" stroke-linecap="round"/>
<line x1="345.8" y1="395.0" x2="355.6" y2="395.5" stroke="#333" stroke-width="0.80" stroke-linecap="round"/>
<circle cx="401.7" cy="480.5" r="3.90" fill="url(#g94)"/>
<line x1="325.9" y1="511.7" x2="329.2" y2="510.0" stroke="#333" stroke-width="0.80" stroke-linecap="round"/>
<line x1="414.7" y1="484.9" x2="408.2" y2="482.7" stroke="#da744a" stroke-width="1.50"/>
<line x1="322.7" y1="420.4" x2="309.5" y2="421.5" stroke="#f00808" stroke-width="1.50"/>
<line x1="404.9" y1="510.6" x2="414.7" y2="511.1" stroke="#333" stroke-width="0.80" stroke-linecap="round"/>
<polygon points="388.3,487.1 401.7,480.5 414.7,513.9" fill="#ab6141" fill-opacity="0.48" stroke="#e8e8e8" stroke-width="0.60" stroke-opacity="0.40" stroke-linejoin="round"/>
<polygon points="309.5,421.5 348.9,423.7 335.9,451.5" fill="#46cbd3" fill-opacity="0.80" stroke="#e8e8e8" stroke-width="0.60" stroke-opacity="0.90" stroke-linejoin="round"/>
<polygon points="441.1,424.7 401.7,422.5 414.7,455.9" fill="#ab6141" fill-opacity="0.48" stroke="#e8e8e8" stroke-width="0.60" stroke-opacity="0.40" stroke-linejoin="round"/>
<line x1="414.7" y1="499.4" x2="414.7" y2="513.9" stroke="#f00808" stroke-width="1.50"/>
<line x1="355.6" y1="395.5" x2="365.5" y2="396.1" stroke="#333" stroke-width="0.80" stroke-linecap="round"/>
<line x1="414.7" y1="484.9" x2="427.9" y2="483.8" stroke="#da744a" stroke-width="1.50"/>
<line x1="414.7" y1="511.1" x2="424.6" y2="511.7" stroke="#333" stroke-width="0.80" stroke-linecap="round"/>
<polygon points="388.3,487.1 401.7,480.5 414.7,455.9" fill="#ab6141" fill-opacity="0.48" stroke="#e8e8e8" stroke-width="0.60" stroke-opacity="0.40" stroke-linejoin="round"/>
<circle cx="375.3" cy="453.7" r="5.70" fill="url(#g109)"/>
<circle cx="335.9" cy="451.5" r="3.90" fill="url(#g94)"/>
<polygon points="441.1,424.7 401.7,422.5 414.7,397.9" fill="#ab6141" fill-opacity="0.48" stroke="#e8e8e8" stroke-width="0.60" stroke-opacity="0.40" stroke-linejoin="round"/>
<line x1="414.7" y1="484.9" x2="414.7" y2="499.4" stroke="#da744a" stroke-width="1.50"/>
<line x1="365.5" y1="396.1" x2="375.3" y2="396.6" stroke="#333" stroke-width="0.80" stroke-linecap="round"/>
<line x1="427.9" y1="425.8" x2="441.1" y2="424.7" stroke="#f00808" stroke-width="1.50"/>
<line x1="424.6" y1="511.7" x2="434.4" y2="512.2" stroke="#333" stroke-width="0.80" stroke-linecap="round"/>
<line x1="414.7" y1="484.9" x2="414.7" y2="470.4" stroke="#da744a" stroke-width="1.50"/>
<line x1="329.2" y1="397.7" x2="332.6" y2="396.1" stroke="#333" stroke-width="0.80" stroke-linecap="round"/>
<polygon points="441.1,482.7 427.7,489.3 414.7,513.9" fill="#854f38" fill-opacity="0.80" stroke="#e8e8e8" stroke-width="0.60" stroke-opacity="0.90" stroke-linejoin="round"/>
<line x1="375.3" y1="396.6" x2="385.2" y2="397.2" stroke="#333" stroke-width="0.80" stroke-linecap="round"/>
<line x1="322.5" y1="513.3" x2="325.9" y2="511.7" stroke="#333" stroke-width="0.80" stroke-linecap="round"/>
<line x1="414.7" y1="484.9" x2="401.5" y2="486.0" stroke="#da744a" stroke-width="1.50"/>
<circle cx="401.7" cy="422.5" r="3.90" fill="url(#g94)"/>
<line x1="414.7" y1="426.9" x2="408.2" y2="424.7" stroke="#da744a" stroke-width="1.50"/>
<line x1="342.4" y1="421.5" x2="348.9" y2="423.7" stroke="#f00808" stroke-width="1.50"/>
<line x1="414.7" y1="470.4" x2="414.7" y2="455.9" stroke="#f00808" stroke-width="1.50"/>
<polygon points="388.3,429.1 401.7,422.5 414.7,455.9" fill="#ab6141" fill-opacity="0.48" stroke="#e8e8e8" stroke-width="0.60" stroke-opacity="0.40" stroke-linejoin="round"/>
<line x1="434.4" y1="512.2" x2="444.2" y2="512.8" stroke="#333" stroke-width="0.80" stroke-linecap="round"/>
<circle cx="309.5" cy="485.9" r="3.90" fill="url(#g94)"/>
<line x1="355.4" y1="488.7" x2="348.9" y2="488.1" stroke="#f00808" stroke-width="1.50"/>
<polygon points="441.1,482.7 427.7,489.3 414.7,455.9" fill="#9a593d" fill-opacity="0.80" stroke="#e8e8e8" stroke-width="0.60" stroke-opacity="0.90" stroke-linejoin="round"/>
<line x1="414.7" y1="441.4" x2="414.7" y2="455.9" stroke="#f00808" stroke-width="1.50"/>
<circle cx="414.7" cy="484.9" r="6.20" fill="url(#g78)"/>
<line x1="385.2" y1="397.2" x2="395.0" y2="397.7" stroke="#333" stroke-width="0.80" stroke-linecap="round"/>
<line x1="487.0" y1="490.3" x2="480.5" y2="488.1" stroke="#f00808" stroke-width="1.50"/>
<line x1="414.7" y1="484.9" x2="421.2" y2="487.1" stroke="#da744a" stroke-width="1.50"/>
<circle cx="441.1" cy="482.7" r="3.90" fill="url(#g94)"/>
<line x1="414.7" y1="426.9" x2="427.9" y2="425.8" stroke="#da744a" stroke-width="1.50"/>
<polygon points="388.3,429.1 401.7,422.5 414.7,397.9" fill="#ab6141" fill-opacity="0.48" stroke="#e8e8e8" stroke-width="0.60" stroke-opacity="0.40" stroke-linejoin="round"/>
<line x1="444.2" y1="512.8" x2="454.1" y2="513.3" stroke="#333" stroke-width="0.80" stroke-linecap="round"/>
<circle cx="375.3" cy="395.7" r="5.70" fill="url(#g109)"/>
<line x1="414.7" y1="426.9" x2="414.7" y2="441.4" stroke="#da744a" stroke-width="1.50"/>
<line x1="401.5" y1="486.0" x2="388.3" y2="487.1" stroke="#f00808" stroke-width="1.50"/>
<line x1="395.0" y1="397.7" x2="404.9" y2="398.3" stroke="#333" stroke-width="0.80" stroke-linecap="round"/>
<line x1="454.1" y1="513.3" x2="464.0" y2="513.9" stroke="#333" stroke-width="0.80" stroke-linecap="round"/>
<polygon points="388.3,487.1 348.9,488.1 361.9,518.3" fill="#ab6141" fill-opacity="0.48" stroke="#e8e8e8" stroke-width="0.60" stroke-opacity="0.40" stroke-linejoin="round"/>
<line x1="414.7" y1="426.9" x2="414.7" y2="412.4" stroke="#da744a" stroke-width="1.50"/>
<polygon points="388.3,487.1 427.7,489.3 414.7,513.9" fill="#bd6945" fill-opacity="0.80" stroke="#e8e8e8" stroke-width="0.60" stroke-opacity="0.90" stroke-linejoin="round"/>
<line x1="325.9" y1="399.4" x2="329.2" y2="397.7" stroke="#333" stroke-width="0.80" stroke-linecap="round"/>
<polygon points="441.1,424.7 427.7,431.3 414.7,455.9" fill="#854f38" fill-opacity="0.80" stroke="#e8e8e8" stroke-width="0.60" stroke-opacity="0.90" stroke-linejoin="round"/>
<line x1="319.2" y1="515.0" x2="322.5" y2="513.3" stroke="#333" stroke-width="0.80" stroke-linecap="round"/>
<line x1="404.9" y1="398.3" x2="414.7" y2="398.8" stroke="#333" stroke-width="0.80" stroke-linecap="round"/>
<line x1="414.7" y1="426.9" x2="401.5" y2="428.0" stroke="#da744a" stroke-width="1.50"/>
<circle cx="322.5" cy="516.1" r="5.70" fill="url(#g109)"/>
<line x1="414.7" y1="412.4" x2="414.7" y2="397.9" stroke="#f00808" stroke-width="1.50"/>
<line x1="464.0" y1="513.9" x2="473.8" y2="514.4" stroke="#333" stroke-width="0.80" stroke-linecap="round"/>
<circle cx="454.1" cy="516.1" r="5.70" fill="url(#g109)"/>
<polygon points="388.3,487.1 348.9,488.1 361.9,460.3" fill="#ab6141" fill-opacity="0.48" stroke="#e8e8e8" stroke-width="0.60" stroke-opacity="0.40" stroke-linejoin="round"/>
<circle cx="414.7" cy="513.9" r="3.90" fill="url(#g94)"/>
<polygon points="388.3,487.1 427.7,489.3 414.7,455.9" fill="#d3744b" fill-opacity="0.80" stroke="#e8e8e8" stroke-width="0.60" stroke-opacity="0.90" stroke-linejoin="round"/>
<polygon points="519.9,490.3 480.5,488.1 493.5,460.3" fill="#41b4ba" fill-opacity="0.48" stroke="#e8e8e8" stroke-width="0.60" stroke-opacity="0.40" stroke-linejoin="round"/>
<polygon points="441.1,424.7 427.7,431.3 414.7,397.9" fill="#9a593d" fill-opacity="0.80" stroke="#e8e8e8" stroke-width="0.60" stroke-opacity="0.90" stroke-linejoin="round"/>
<line x1="375.1" y1="488.2" x2="388.3" y2="487.1" stroke="#f00808" stroke-width="1.50"/>
<circle cx="414.7" cy="426.9" r="6.20" fill="url(#g78)"/>
<circle cx="309.5" cy="421.5" r="3.90" fill="url(#g94)"/>
<line x1="414.7" y1="398.8" x2="424.6" y2="399.4" stroke="#333" stroke-width="0.80" stroke-linecap="round"/>
<line x1="506.7" y1="491.4" x2="519.9" y2="490.3" stroke="#f00808" stroke-width="1.50"/>
<line x1="414.7" y1="426.9" x2="421.2" y2="429.1" stroke="#da744a" stroke-width="1.50"/>
<line x1="355.4" y1="427.5" x2="348.9" y2="423.7" stroke="#f00808" stroke-width="1.50"/>
<circle cx="441.1" cy="424.7" r="3.90" fill="url(#g94)"/>
<line x1="473.8" y1="514.4" x2="483.6" y2="515.0" stroke="#333" stroke-width="0.80" stroke-linecap="round"/>
<line x1="487.0" y1="425.9" x2="480.5" y2="423.7" stroke="#f00808" stroke-width="1.50"/>
<circle cx="348.9" cy="488.1" r="3.90" fill="url(#g94)"/>
<line x1="361.9" y1="489.3" x2="355.4" y2="488.7" stroke="#da744a" stroke-width="1.50"/>
<circle cx="480.5" cy="488.1" r="3.90" fill="url(#g94)"/>
<line x1="493.5" y1="492.5" x2="487.0" y2="490.3" stroke="#da744a" stroke-width="1.50"/>
<polygon points="335.5,491.5 348.9,488.1 361.9,518.3" fill="#ab6141" fill-opacity="0.48" stroke="#e8e8e8" stroke-width="0.60" stroke-opacity="0.40" stroke-linejoin="round"/>
<line x1="401.5" y1="428.0" x2="388.3" y2="429.1" stroke="#f00808" stroke-width="1.50"/>
<line x1="421.2" y1="487.1" x2="427.7" y2="489.3" stroke="#f00808" stroke-width="1.50"/>
<line x1="424.6" y1="399.4" x2="434.4" y2="399.9" stroke="#333" stroke-width="0.80" stroke-linecap="round"/>
<line x1="483.6" y1="515.0" x2="493.5" y2="515.5" stroke="#333" stroke-width="0.80" stroke-linecap="round"/>
<polygon points="388.3,429.1 348.9,423.7 361.9,460.3" fill="#ab6141" fill-opacity="0.48" stroke="#e8e8e8" stroke-width="0.60" stroke-opacity="0.40" stroke-linejoin="round"/>
<polygon points="388.3,429.1 427.7,431.3 414.7,455.9" fill="#bd6945" fill-opacity="0.80" stroke="#e8e8e8" stroke-width="0.60" stroke-opacity="0.90" stroke-linejoin="round"/>
<line x1="361.9" y1="503.8" x2="361.9" y2="518.3" stroke="#f00808" stroke-width="1.50"/>
<polygon points="519.9,425.9 480.5,423.7 493.5,460.3" fill="#41b4ba" fill-opacity="0.48" stroke="#e8e8e8" stroke-width="0.60" stroke-opacity="0.40" stroke-linejoin="round"/>
<line x1="322.5" y1="401.0" x2="325.9" y2="399.4" stroke="#333" stroke-width="0.80" stroke-linecap="round"/>
<line x1="361.9" y1="489.3" x2="375.1" y2="488.2" stroke="#da744a" stroke-width="1.50"/>
<line x1="315.8" y1="516.6" x2="319.2" y2="515.0" stroke="#333" stroke-width="0.80" stroke-linecap="round"/>
<line x1="493.5" y1="508.5" x2="493.5" y2="515.5" stroke="#333" stroke-width="0.80" stroke-linecap="round"/>
<line x1="493.5" y1="492.5" x2="506.7" y2="491.4" stroke="#da744a" stroke-width="1.50"/>
<polygon points="335.5,491.5 348.9,488.1 361.9,460.3" fill="#ab6141" fill-opacity="0.48" stroke="#e8e8e8" stroke-width="0.60" stroke-opacity="0.40" stroke-linejoin="round"/>
<line x1="434.4" y1="399.9" x2="444.2" y2="400.5" stroke="#333" stroke-width="0.80" stroke-linecap="round"/>
<circle cx="322.5" cy="458.1" r="5.70" fill="url(#g109)"/>
<polygon points="467.1,494.7 480.5,488.1 493.5,460.3" fill="#41b4ba" fill-opacity="0.48" stroke="#e8e8e8" stroke-width="0.60" stroke-opacity="0.40" stroke-linejoin="round"/>
<line x1="493.5" y1="501.5" x2="493.5" y2="508.5" stroke="#333" stroke-width="0.80" stroke-linecap="round"/>
<circle cx="454.1" cy="458.1" r="5.70" fill="url(#g109)"/>
<circle cx="414.7" cy="455.9" r="3.90" fill="url(#g94)"/>
<polygon points="388.3,429.1 348.9,423.7 361.9,402.3" fill="#ab6141" fill-opacity="0.48" stroke="#e8e8e8" stroke-width="0.60" stroke-opacity="0.40" stroke-linejoin="round"/>
<line x1="361.9" y1="489.3" x2="361.9" y2="503.8" stroke="#da744a" stroke-width="1.50"/>
<polygon points="388.3,429.1 427.7,431.3 414.7,397.9" fill="#d3744b" fill-opacity="0.80" stroke="#e8e8e8" stroke-width="0.60" stroke-opacity="0.90" stroke-linejoin="round"/>
<line x1="493.5" y1="494.5" x2="493.5" y2="501.5" stroke="#333" stroke-width="0.80" stroke-linecap="round"/>
<line x1="375.1" y1="430.2" x2="388.3" y2="429.1" stroke="#f00808" stroke-width="1.50"/>
<polygon points="519.9,490.3 506.5,496.9 467.1,494.7 480.5,488.1" fill="#41b4ba" fill-opacity="0.48" stroke="#e8e8e8" stroke-width="0.60" stroke-opacity="0.40" stroke-linejoin="round"/>
<line x1="493.5" y1="487.4" x2="493.5" y2="494.5" stroke="#333" stroke-width="0.80" stroke-linecap="round"/>
<line x1="444.2" y1="400.5" x2="454.1" y2="401.0" stroke="#333" stroke-width="0.80" stroke-linecap="round"/>
<line x1="490.1" y1="517.2" x2="493.5" y2="515.5" stroke="#333" stroke-width="0.80" stroke-linecap="round"/>
<line x1="361.9" y1="489.3" x2="361.9" y2="474.8" stroke="#da744a" stroke-width="1.50"/>
<line x1="506.7" y1="427.0" x2="519.9" y2="425.9" stroke="#f00808" stroke-width="1.50"/>
<line x1="493.5" y1="492.5" x2="493.5" y2="476.4" stroke="#da744a" stroke-width="1.50"/>
<line x1="493.5" y1="480.4" x2="493.5" y2="487.4" stroke="#333" stroke-width="0.80" stroke-linecap="round"/>
<line x1="493.5" y1="473.4" x2="493.5" y2="480.4" stroke="#333" stroke-width="0.80" stroke-linecap="round"/>
<polygon points="388.3,487.1 374.9,490.5 361.9,518.3" fill="#8a5138" fill-opacity="0.80" stroke="#e8e8e8" stroke-width="0.60" stroke-opacity="0.90" stroke-linejoin="round"/>
<line x1="361.9" y1="489.3" x2="348.7" y2="490.4" stroke="#da744a" stroke-width="1.50"/>
<line x1="493.5" y1="492.5" x2="480.3" y2="493.6" stroke="#da744a" stroke-width="1.50"/>
<line x1="361.9" y1="431.3" x2="355.4" y2="427.5" stroke="#da744a" stroke-width="1.50"/>
<line x1="361.9" y1="474.8" x2="361.9" y2="460.3" stroke="#f00808" stroke-width="1.50"/>
<line x1="421.2" y1="429.1" x2="427.7" y2="431.3" stroke="#f00808" stroke-width="1.50"/>
<circle cx="348.9" cy="423.7" r="3.90" fill="url(#g94)"/>
<line x1="454.1" y1="401.0" x2="464.0" y2="401.6" stroke="#333" stroke-width="0.80" stroke-linecap="round"/>
<polygon points="335.5,433.5 348.9,423.7 361.9,460.3" fill="#aa6040" fill-opacity="0.48" stroke="#e8e8e8" stroke-width="0.60" stroke-opacity="0.40" stroke-linejoin="round"/>
<line x1="493.5" y1="466.4" x2="493.5" y2="473.4" stroke="#333" stroke-width="0.80" stroke-linecap="round"/>
<line x1="493.5" y1="476.4" x2="493.5" y2="460.3" stroke="#f00808" stroke-width="1.50"/>
<circle cx="480.5" cy="423.7" r="3.90" fill="url(#g94)"/>
<line x1="493.5" y1="428.1" x2="487.0" y2="425.9" stroke="#da744a" stroke-width="1.50"/>
<polygon points="467.1,430.3 480.5,423.7 493.5,460.3" fill="#40b3ba" fill-opacity="0.48" stroke="#e8e8e8" stroke-width="0.60" stroke-opacity="0.40" stroke-linejoin="round"/>
<line x1="493.5" y1="459.4" x2="493.5" y2="466.4" stroke="#333" stroke-width="0.80" stroke-linecap="round"/>
<line x1="302.6" y1="491.5" x2="296.1" y2="489.3" stroke="#f00808" stroke-width="1.50"/>
<line x1="361.9" y1="445.8" x2="361.9" y2="460.3" stroke="#f00808" stroke-width="1.50"/>
<circle cx="361.9" cy="489.3" r="6.20" fill="url(#g78)"/>
<polygon points="388.3,487.1 374.9,490.5 361.9,460.3" fill="#95553a" fill-opacity="0.80" stroke="#e8e8e8" stroke-width="0.60" stroke-opacity="0.90" stroke-linejoin="round"/>
<line x1="319.2" y1="402.7" x2="322.5" y2="401.0" stroke="#333" stroke-width="0.80" stroke-linecap="round"/>
<circle cx="493.5" cy="492.5" r="6.20" fill="url(#g78)"/>
<line x1="493.5" y1="452.4" x2="493.5" y2="459.4" stroke="#333" stroke-width="0.80" stroke-linecap="round"/>
<polygon points="519.9,490.3 506.5,496.9 493.5,460.3" fill="#3ba2a8" fill-opacity="0.80" stroke="#e8e8e8" stroke-width="0.60" stroke-opacity="0.90" stroke-linejoin="round"/>
<circle cx="388.3" cy="487.1" r="3.90" fill="url(#g94)"/>
<line x1="312.5" y1="518.3" x2="315.8" y2="516.6" stroke="#333" stroke-width="0.80" stroke-linecap="round"/>
<line x1="361.9" y1="431.3" x2="375.1" y2="430.2" stroke="#da744a" stroke-width="1.50"/>
<line x1="361.9" y1="489.3" x2="368.4" y2="489.9" stroke="#da744a" stroke-width="1.50"/>
<line x1="493.5" y1="492.5" x2="500.0" y2="494.7" stroke="#da744a" stroke-width="1.50"/>
<circle cx="519.9" cy="490.3" r="3.90" fill="url(#g94)"/>
<line x1="434.2" y1="491.5" x2="427.7" y2="489.3" stroke="#f00808" stroke-width="1.50"/>
<line x1="493.5" y1="444.2" x2="493.5" y2="460.3" stroke="#f00808" stroke-width="1.50"/>
<line x1="464.0" y1="401.6" x2="473.8" y2="402.1" stroke="#333" stroke-width="0.80" stroke-linecap="round"/>
<circle cx="322.5" cy="400.1" r="5.70" fill="url(#g109)"/>
<polygon points="335.5,433.5 348.9,423.7 361.9,402.3" fill="#aa5f3f" fill-opacity="0.48" stroke="#e8e8e8" stroke-width="0.60" stroke-opacity="0.40" stroke-linejoin="round"/>
<line x1="493.5" y1="445.3" x2="493.5" y2="452.4" stroke="#333" stroke-width="0.80" stroke-linecap="round"/>
<line x1="493.5" y1="428.1" x2="506.7" y2="427.0" stroke="#da744a" stroke-width="1.50"/>
<circle cx="454.1" cy="400.1" r="5.70" fill="url(#g120)"/>
<circle cx="414.7" cy="397.9" r="3.90" fill="url(#g94)"/>
<line x1="361.9" y1="431.3" x2="361.9" y2="445.8" stroke="#da744a" stroke-width="1.50"/>
<line x1="493.5" y1="438.3" x2="493.5" y2="445.3" stroke="#333" stroke-width="0.80" stroke-linecap="round"/>
<line x1="348.7" y1="490.4" x2="335.5" y2="491.5" stroke="#f00808" stroke-width="1.50"/>
<line x1="493.5" y1="428.1" x2="493.5" y2="444.2" stroke="#da744a" stroke-width="1.50"/>
<line x1="480.3" y1="493.6" x2="467.1" y2="494.7" stroke="#f00808" stroke-width="1.50"/>
<line x1="493.5" y1="431.3" x2="493.5" y2="438.3" stroke="#333" stroke-width="0.80" stroke-linecap="round"/>
<line x1="473.8" y1="402.1" x2="483.6" y2="402.7" stroke="#333" stroke-width="0.80" stroke-linecap="round"/>
<line x1="486.8" y1="518.8" x2="490.1" y2="517.2" stroke="#333" stroke-width="0.80" stroke-linecap="round"/>
<polygon points="335.5,491.5 296.1,489.3 309.1,522.7" fill="#a95f3e" fill-opacity="0.48" stroke="#e8e8e8" stroke-width="0.60" stroke-opacity="0.40" stroke-linejoin="round"/>
<line x1="361.9" y1="431.3" x2="361.9" y2="416.8" stroke="#da744a" stroke-width="1.50"/>
<circle cx="493.5" cy="428.1" r="6.20" fill="url(#g85)"/>
<polygon points="519.9,425.9 506.5,432.5 467.1,430.3 480.5,423.7" fill="#358b8f" fill-opacity="0.80" stroke="#e8e8e8" stroke-width="0.60" stroke-opacity="0.90" stroke-linejoin="round"/>
<line x1="493.5" y1="424.3" x2="493.5" y2="431.3" stroke="#333" stroke-width="0.80" stroke-linecap="round"/>
<polygon points="335.5,491.5 374.9,490.5 361.9,518.3" fill="#c06944" fill-opacity="0.80" stroke="#e8e8e8" stroke-width="0.60" stroke-opacity="0.90" stroke-linejoin="round"/>
<polygon points="467.1,494.7 427.7,489.3 440.7,522.7" fill="#a95e3e" fill-opacity="0.48" stroke="#e8e8e8" stroke-width="0.60" stroke-opacity="0.40" stroke-linejoin="round"/>
<line x1="493.5" y1="417.3" x2="493.5" y2="424.3" stroke="#333" stroke-width="0.80" stroke-linecap="round"/>
<polygon points="388.3,429.1 374.9,438.9 361.9,460.3" fill="#7d4933" fill-opacity="0.80" stroke="#e8e8e8" stroke-width="0.60" stroke-opacity="0.90" stroke-linejoin="round"/>
<line x1="361.9" y1="431.3" x2="348.7" y2="432.4" stroke="#da744a" stroke-width="1.50"/>
<line x1="361.9" y1="416.8" x2="361.9" y2="402.3" stroke="#f00808" stroke-width="1.50"/>
<line x1="493.5" y1="410.2" x2="493.5" y2="417.3" stroke="#333" stroke-width="0.80" stroke-linecap="round"/>
<line x1="483.6" y1="402.7" x2="493.5" y2="403.2" stroke="#333" stroke-width="0.80" stroke-linecap="round"/>
<polygon points="519.9,425.9 506.5,432.5 493.5,460.3" fill="#358b90" fill-opacity="0.80" stroke="#e8e8e8" stroke-width="0.60" stroke-opacity="0.90" stroke-linejoin="round"/>
<circle cx="401.3" cy="520.5" r="5.70" fill="url(#g117)"/>
<polygon points="335.5,491.5 296.1,489.3 309.1,464.7" fill="#a95e3e" fill-opacity="0.48" stroke="#e8e8e8" stroke-width="0.60" stroke-opacity="0.40" stroke-linejoin="round"/>
<line x1="493.5" y1="428.1" x2="480.3" y2="429.2" stroke="#da744a" stroke-width="1.50"/>
<circle cx="361.9" cy="518.3" r="3.90" fill="url(#g94)"/>
<polygon points="335.5,491.5 374.9,490.5 361.9,460.3" fill="#cf7047" fill-opacity="0.80" stroke="#e8e8e8" stroke-width="0.60" stroke-opacity="0.90" stroke-linejoin="round"/>
<line x1="493.5" y1="403.2" x2="493.5" y2="410.2" stroke="#333" stroke-width="0.80" stroke-linecap="round"/>
<polygon points="467.1,494.7 427.7,489.3 440.7,464.7" fill="#a95e3e" fill-opacity="0.48" stroke="#e8e8e8" stroke-width="0.60" stroke-opacity="0.40" stroke-linejoin="round"/>
<polygon points="467.1,494.7 506.5,496.9 493.5,460.3" fill="#48e0e9" fill-opacity="0.80" stroke="#e8e8e8" stroke-width="0.60" stroke-opacity="0.90" stroke-linejoin="round"/>
<polygon points="388.3,429.1 374.9,438.9 361.9,402.3" fill="#9d583b" fill-opacity="0.80" stroke="#e8e8e8" stroke-width="0.60" stroke-opacity="0.90" stroke-linejoin="round"/>
<line x1="302.6" y1="433.5" x2="296.1" y2="431.3" stroke="#f00808" stroke-width="1.50"/>
<line x1="315.8" y1="404.3" x2="319.2" y2="402.7" stroke="#333" stroke-width="0.80" stroke-linecap="round"/>
<line x1="322.3" y1="492.6" x2="335.5" y2="491.5" stroke="#f00808" stroke-width="1.50"/>
<circle cx="361.9" cy="431.3" r="6.20" fill="url(#g79)"/>
<line x1="361.9" y1="431.3" x2="368.4" y2="435.1" stroke="#da744a" stroke-width="1.50"/>
<line x1="309.1" y1="519.9" x2="312.5" y2="518.3" stroke="#333" stroke-width="0.80" stroke-linecap="round"/>
<line x1="453.9" y1="494.2" x2="467.1" y2="494.7" stroke="#f00808" stroke-width="1.50"/>
<circle cx="388.3" cy="429.1" r="3.90" fill="url(#g94)"/>
<line x1="434.2" y1="433.5" x2="427.7" y2="431.3" stroke="#f00808" stroke-width="1.50"/>
<path d="M487.30,428.12 A6.20,6.20 0 0 1 499.70,428.10 A6.20,1.04 -0.1 0 1 487.30,428.12 Z" fill="url(#g85)"/>
<line x1="493.5" y1="428.1" x2="500.0" y2="430.3" stroke="#da744a" stroke-width="1.50"/>
<circle cx="519.9" cy="425.9" r="3.90" fill="url(#g94)"/>
<circle cx="296.1" cy="489.3" r="3.90" fill="url(#g94)"/>
<line x1="309.1" y1="493.7" x2="302.6" y2="491.5" stroke="#da744a" stroke-width="1.50"/>
<line x1="348.7" y1="432.4" x2="335.5" y2="433.5" stroke="#f00808" stroke-width="1.50"/>
<polygon points="282.7,495.9 296.1,489.3 309.1,522.7" fill="#a95d3d" fill-opacity="0.48" stroke="#e8e8e8" stroke-width="0.60" stroke-opacity="0.40" stroke-linejoin="round"/>
<line x1="500.0" y1="494.7" x2="506.5" y2="496.9" stroke="#f00808" stroke-width="1.50"/>
<circle cx="427.7" cy="489.3" r="3.90" fill="url(#g102)"/>
<line x1="440.7" y1="493.7" x2="434.2" y2="491.5" stroke="#da744a" stroke-width="1.50"/>
<line x1="368.4" y1="489.9" x2="374.9" y2="490.5" stroke="#f00808" stroke-width="1.50"/>
<line x1="490.1" y1="404.9" x2="493.5" y2="403.2" stroke="#333" stroke-width="0.80" stroke-linecap="round"/>
<polygon points="414.3,492.7 427.7,489.3 440.7,522.7" fill="#a95d3c" fill-opacity="0.48" stroke="#e8e8e8" stroke-width="0.60" stroke-opacity="0.40" stroke-linejoin="round"/>
<line x1="483.5" y1="520.5" x2="486.8" y2="518.8" stroke="#333" stroke-width="0.80" stroke-linecap="round"/>
<line x1="480.3" y1="429.2" x2="467.1" y2="430.3" stroke="#f00808" stroke-width="1.50"/>
<polygon points="335.5,433.5 296.1,431.3 309.1,464.7" fill="#a85d3c" fill-opacity="0.48" stroke="#e8e8e8" stroke-width="0.60" stroke-opacity="0.40" stroke-linejoin="round"/>
<polygon points="335.5,433.5 374.9,438.9 361.9,460.3" fill="#b86440" fill-opacity="0.80" stroke="#e8e8e8" stroke-width="0.60" stroke-opacity="0.90" stroke-linejoin="round"/>
<polygon points="467.1,430.3 427.7,431.3 440.7,464.7" fill="#a85d3c" fill-opacity="0.48" stroke="#e8e8e8" stroke-width="0.60" stroke-opacity="0.40" stroke-linejoin="round"/>
<line x1="309.1" y1="508.2" x2="309.1" y2="522.7" stroke="#f00808" stroke-width="1.50"/>
<polygon points="467.1,430.3 506.5,432.5 493.5,460.3" fill="#42cad2" fill-opacity="0.80" stroke="#e8e8e8" stroke-width="0.60" stroke-opacity="0.90" stroke-linejoin="round"/>
<line x1="309.1" y1="493.7" x2="322.3" y2="492.6" stroke="#da744a" stroke-width="1.50"/>
<line x1="440.7" y1="508.2" x2="440.7" y2="522.7" stroke="#f00808" stroke-width="1.50"/>
<polygon points="282.7,495.9 296.1,489.3 309.1,464.7" fill="#a85c3c" fill-opacity="0.48" stroke="#e8e8e8" stroke-width="0.60" stroke-opacity="0.40" stroke-linejoin="round"/>
<line x1="440.7" y1="493.7" x2="453.9" y2="494.2" stroke="#da744a" stroke-width="1.50"/>
<circle cx="401.3" cy="462.5" r="5.70" fill="url(#g116)"/>
<polygon points="414.3,492.7 427.7,489.3 440.7,464.7" fill="#a85c3c" fill-opacity="0.48" stroke="#e8e8e8" stroke-width="0.60" stroke-opacity="0.40" stroke-linejoin="round"/>
<polygon points="335.5,433.5 296.1,431.3 309.1,406.7" fill="#a85c3c" fill-opacity="0.48" stroke="#e8e8e8" stroke-width="0.60" stroke-opacity="0.40" stroke-linejoin="round"/>
<polygon points="335.5,433.5 374.9,438.9 361.9,402.3" fill="#d47146" fill-opacity="0.80" stroke="#e8e8e8" stroke-width="0.60" stroke-opacity="0.90" stroke-linejoin="round"/>
<circle cx="361.9" cy="460.3" r="3.90" fill="url(#g96)"/>
<line x1="309.1" y1="493.7" x2="309.1" y2="508.2" stroke="#da744a" stroke-width="1.50"/>
<circle cx="493.5" cy="460.3" r="3.90" fill="url(#g105)"/>
<polygon points="467.1,430.3 427.7,431.3 440.7,406.7" fill="#a85c3b" fill-opacity="0.48" stroke="#e8e8e8" stroke-width="0.60" stroke-opacity="0.40" stroke-linejoin="round"/>
<line x1="440.7" y1="493.7" x2="440.7" y2="508.2" stroke="#da744a" stroke-width="1.50"/>
<line x1="312.5" y1="406.0" x2="315.8" y2="404.3" stroke="#333" stroke-width="0.80" stroke-linecap="round"/>
<line x1="322.3" y1="434.6" x2="335.5" y2="433.5" stroke="#f00808" stroke-width="1.50"/>
<line x1="305.8" y1="521.6" x2="309.1" y2="519.9" stroke="#333" stroke-width="0.80" stroke-linecap="round"/>
<line x1="309.1" y1="493.7" x2="309.1" y2="479.2" stroke="#da744a" stroke-width="1.50"/>
<line x1="453.9" y1="433.0" x2="467.1" y2="430.3" stroke="#f00808" stroke-width="1.50"/>
<line x1="440.7" y1="493.7" x2="440.7" y2="479.2" stroke="#da744a" stroke-width="1.50"/>
<polygon points="335.5,491.5 322.1,498.1 309.1,522.7" fill="#814931" fill-opacity="0.80" stroke="#e8e8e8" stroke-width="0.60" stroke-opacity="0.90" stroke-linejoin="round"/>
<line x1="309.1" y1="493.7" x2="295.9" y2="494.8" stroke="#da744a" stroke-width="1.50"/>
<circle cx="296.1" cy="431.3" r="3.90" fill="url(#g90)"/>
<line x1="368.4" y1="435.1" x2="374.9" y2="438.9" stroke="#f00808" stroke-width="1.50"/>
<line x1="309.1" y1="435.7" x2="302.6" y2="433.5" stroke="#da744a" stroke-width="1.50"/>
<polygon points="467.1,494.7 453.7,498.1 440.7,522.7" fill="#854b32" fill-opacity="0.80" stroke="#e8e8e8" stroke-width="0.60" stroke-opacity="0.90" stroke-linejoin="round"/>
<line x1="309.1" y1="479.2" x2="309.1" y2="464.7" stroke="#f00808" stroke-width="1.50"/>
<polygon points="282.7,437.9 296.1,431.3 309.1,464.7" fill="#a85b3a" fill-opacity="0.48" stroke="#e8e8e8" stroke-width="0.60" stroke-opacity="0.40" stroke-linejoin="round"/>
<circle cx="427.7" cy="431.3" r="3.90" fill="url(#g29)"/>
<line x1="440.7" y1="435.7" x2="434.2" y2="433.5" stroke="#da744a" stroke-width="1.50"/>
<line x1="440.7" y1="493.7" x2="427.5" y2="493.2" stroke="#da744a" stroke-width="1.50"/>
<line x1="486.8" y1="406.5" x2="490.1" y2="404.9" stroke="#333" stroke-width="0.80" stroke-linecap="round"/>
<polygon points="414.3,441.1 427.7,431.3 440.7,464.7" fill="#a85b3a" fill-opacity="0.48" stroke="#e8e8e8" stroke-width="0.60" stroke-opacity="0.40" stroke-linejoin="round"/>
<line x1="440.7" y1="479.2" x2="440.7" y2="464.7" stroke="#f00808" stroke-width="1.50"/>
<line x1="480.1" y1="522.1" x2="483.5" y2="520.5" stroke="#333" stroke-width="0.80" stroke-linecap="round"/>
<line x1="500.0" y1="430.3" x2="506.5" y2="432.5" stroke="#f00808" stroke-width="1.50"/>
<polygon points="335.5,491.5 322.1,498.1 309.1,464.7" fill="#975336" fill-opacity="0.80" stroke="#e8e8e8" stroke-width="0.60" stroke-opacity="0.90" stroke-linejoin="round"/>
<line x1="309.1" y1="450.2" x2="309.1" y2="464.7" stroke="#f00808" stroke-width="1.50"/>
<circle cx="309.1" cy="493.7" r="6.20" fill="url(#g75)"/>
<line x1="309.1" y1="493.7" x2="315.6" y2="495.9" stroke="#da744a" stroke-width="1.50"/>
<circle cx="335.5" cy="491.5" r="3.90" fill="url(#g17)"/>
<line x1="309.1" y1="435.7" x2="322.3" y2="434.6" stroke="#da744a" stroke-width="1.50"/>
<polygon points="467.1,494.7 453.7,498.1 440.7,464.7" fill="#925135" fill-opacity="0.80" stroke="#e8e8e8" stroke-width="0.60" stroke-opacity="0.90" stroke-linejoin="round"/>
<circle cx="467.1" cy="494.7" r="3.90" fill="url(#g17)"/>
<line x1="440.7" y1="450.2" x2="440.7" y2="464.7" stroke="#f00808" stroke-width="1.50"/>
<circle cx="440.7" cy="493.7" r="6.20" fill="url(#g82)"/>
<polygon points="282.7,437.9 296.1,431.3 309.1,406.7" fill="#a75b3a" fill-opacity="0.48" stroke="#e8e8e8" stroke-width="0.60" stroke-opacity="0.40" stroke-linejoin="round"/>
<line x1="440.7" y1="493.7" x2="447.2" y2="495.9" stroke="#da744a" stroke-width="1.50"/>
<line x1="381.4" y1="492.7" x2="374.9" y2="490.5" stroke="#f00808" stroke-width="1.50"/>
<line x1="440.7" y1="435.7" x2="453.9" y2="433.0" stroke="#da744a" stroke-width="1.50"/>
<polygon points="414.3,441.1 427.7,431.3 440.7,406.7" fill="#a75b3a" fill-opacity="0.48" stroke="#e8e8e8" stroke-width="0.60" stroke-opacity="0.40" stroke-linejoin="round"/>
<circle cx="401.3" cy="404.5" r="5.70" fill="url(#g115)"/>
<circle cx="361.9" cy="402.3" r="3.90" fill="url(#g17)"/>
<line x1="309.1" y1="435.7" x2="309.1" y2="450.2" stroke="#da744a" stroke-width="1.50"/>
<line x1="440.7" y1="435.7" x2="440.7" y2="450.2" stroke="#da744a" stroke-width="1.50"/>
<line x1="295.9" y1="494.8" x2="282.7" y2="495.9" stroke="#f00808" stroke-width="1.50"/>
<line x1="309.1" y1="407.6" x2="312.5" y2="406.0" stroke="#333" stroke-width="0.80" stroke-linecap="round"/>
<line x1="302.4" y1="523.2" x2="305.8" y2="521.6" stroke="#333" stroke-width="0.80" stroke-linecap="round"/>
<line x1="427.5" y1="493.2" x2="414.3" y2="492.7" stroke="#f00808" stroke-width="1.50"/>
<line x1="309.1" y1="435.7" x2="309.1" y2="421.2" stroke="#da744a" stroke-width="1.50"/>
<polygon points="282.7,495.9 322.1,498.1 309.1,522.7" fill="#ba633e" fill-opacity="0.80" stroke="#e8e8e8" stroke-width="0.60" stroke-opacity="0.90" stroke-linejoin="round"/>
<line x1="440.7" y1="435.7" x2="440.7" y2="421.2" stroke="#da744a" stroke-width="1.50"/>
<polygon points="414.3,492.7 374.9,490.5 387.9,527.1" fill="#39b0b7" fill-opacity="0.48" stroke="#e8e8e8" stroke-width="0.60" stroke-opacity="0.40" stroke-linejoin="round"/>
<polygon points="414.3,492.7 453.7,498.1 440.7,522.7" fill="#ba633d" fill-opacity="0.80" stroke="#e8e8e8" stroke-width="0.60" stroke-opacity="0.90" stroke-linejoin="round"/>
<polygon points="335.5,433.5 322.1,440.1 309.1,464.7" fill="#7f472f" fill-opacity="0.80" stroke="#e8e8e8" stroke-width="0.60" stroke-opacity="0.90" stroke-linejoin="round"/>
<line x1="309.1" y1="435.7" x2="295.9" y2="436.8" stroke="#da744a" stroke-width="1.50"/>
<line x1="309.1" y1="421.2" x2="309.1" y2="406.7" stroke="#f00808" stroke-width="1.50"/>
<polygon points="467.1,430.3 453.7,440.1 440.7,464.7" fill="#7b452e" fill-opacity="0.80" stroke="#e8e8e8" stroke-width="0.60" stroke-opacity="0.90" stroke-linejoin="round"/>
<line x1="440.7" y1="435.7" x2="427.5" y2="438.4" stroke="#da744a" stroke-width="1.50"/>
<circle cx="348.5" cy="524.9" r="5.70" fill="url(#g112)"/>
<line x1="483.5" y1="408.2" x2="486.8" y2="406.5" stroke="#333" stroke-width="0.80" stroke-linecap="round"/>
<line x1="440.7" y1="421.2" x2="440.7" y2="406.7" stroke="#f00808" stroke-width="1.50"/>
<line x1="476.8" y1="523.8" x2="480.1" y2="522.1" stroke="#333" stroke-width="0.80" stroke-linecap="round"/>
<circle cx="309.1" cy="522.7" r="3.90" fill="url(#g36)"/>
<polygon points="282.7,495.9 322.1,498.1 309.1,464.7" fill="#d16d42" fill-opacity="0.80" stroke="#e8e8e8" stroke-width="0.60" stroke-opacity="0.90" stroke-linejoin="round"/>
<circle cx="480.1" cy="524.9" r="5.70" fill="url(#g112)"/>
<circle cx="440.7" cy="522.7" r="3.90" fill="url(#g36)"/>
<polygon points="414.3,492.7 453.7,498.1 440.7,464.7" fill="#d16d42" fill-opacity="0.80" stroke="#e8e8e8" stroke-width="0.60" stroke-opacity="0.90" stroke-linejoin="round"/>
<polygon points="335.5,433.5 322.1,440.1 309.1,406.7" fill="#965134" fill-opacity="0.80" stroke="#e8e8e8" stroke-width="0.60" stroke-opacity="0.90" stroke-linejoin="round"/>
<circle cx="309.1" cy="435.7" r="6.20" fill="url(#g74)"/>
<line x1="381.4" y1="441.1" x2="374.9" y2="438.9" stroke="#f00808" stroke-width="1.50"/>
<line x1="309.1" y1="435.7" x2="315.6" y2="437.9" stroke="#da744a" stroke-width="1.50"/>
<circle cx="335.5" cy="433.5" r="3.90" fill="url(#g36)"/>
<circle cx="440.7" cy="435.7" r="6.20" fill="url(#g74)"/>
<polygon points="467.1,430.3 453.7,440.1 440.7,406.7" fill="#9a5335" fill-opacity="0.80" stroke="#e8e8e8" stroke-width="0.60" stroke-opacity="0.90" stroke-linejoin="round"/>
<line x1="440.7" y1="435.7" x2="447.2" y2="437.9" stroke="#da744a" stroke-width="1.50"/>
<line x1="401.1" y1="493.8" x2="414.3" y2="492.7" stroke="#f00808" stroke-width="1.50"/>
<circle cx="467.1" cy="430.3" r="3.90" fill="url(#g7)"/>
<line x1="295.9" y1="436.8" x2="282.7" y2="437.9" stroke="#f00808" stroke-width="1.50"/>
<line x1="305.8" y1="409.3" x2="309.1" y2="407.6" stroke="#333" stroke-width="0.80" stroke-linecap="round"/>
<line x1="315.6" y1="495.9" x2="322.1" y2="498.1" stroke="#f00808" stroke-width="1.50"/>
<line x1="299.1" y1="524.9" x2="302.4" y2="523.2" stroke="#333" stroke-width="0.80" stroke-linecap="round"/>
<line x1="427.5" y1="438.4" x2="414.3" y2="441.1" stroke="#f00808" stroke-width="1.50"/>
<circle cx="506.5" cy="496.9" r="3.90" fill="url(#g97)"/>
<line x1="447.2" y1="495.9" x2="453.7" y2="498.1" stroke="#f00808" stroke-width="1.50"/>
<circle cx="374.9" cy="490.5" r="3.90" fill="url(#g97)"/>
<line x1="387.9" y1="494.9" x2="381.4" y2="492.7" stroke="#da744a" stroke-width="1.50"/>
<polygon points="361.5,497.1 374.9,490.5 387.9,527.1" fill="#37b0b7" fill-opacity="0.48" stroke="#e8e8e8" stroke-width="0.60" stroke-opacity="0.40" stroke-linejoin="round"/>
<polygon points="282.7,437.9 322.1,440.1 309.1,464.7" fill="#ba613c" fill-opacity="0.80" stroke="#e8e8e8" stroke-width="0.60" stroke-opacity="0.90" stroke-linejoin="round"/>
<polygon points="414.3,441.1 453.7,440.1 440.7,464.7" fill="#b9613b" fill-opacity="0.80" stroke="#e8e8e8" stroke-width="0.60" stroke-opacity="0.90" stroke-linejoin="round"/>
<line x1="387.9" y1="511.0" x2="387.9" y2="527.1" stroke="#f00808" stroke-width="1.50"/>
<line x1="480.1" y1="409.8" x2="483.5" y2="408.2" stroke="#333" stroke-width="0.80" stroke-linecap="round"/>
<line x1="387.9" y1="494.9" x2="401.1" y2="493.8" stroke="#da744a" stroke-width="1.50"/>
<circle cx="348.5" cy="466.9" r="5.70" fill="url(#g111)"/>
<line x1="473.4" y1="525.4" x2="476.8" y2="523.8" stroke="#333" stroke-width="0.80" stroke-linecap="round"/>
<circle cx="309.1" cy="464.7" r="3.90" fill="url(#g60)"/>
<polygon points="282.7,437.9 322.1,440.1 309.1,406.7" fill="#d06c40" fill-opacity="0.80" stroke="#e8e8e8" stroke-width="0.60" stroke-opacity="0.90" stroke-linejoin="round"/>
<polygon points="414.3,441.1 374.9,438.9 387.9,411.1" fill="#36afb6" fill-opacity="0.48" stroke="#e8e8e8" stroke-width="0.60" stroke-opacity="0.40" stroke-linejoin="round"/>
<circle cx="480.1" cy="466.9" r="5.70" fill="url(#g121)"/>
<polygon points="414.3,441.1 453.7,440.1 440.7,406.7" fill="#d06b40" fill-opacity="0.80" stroke="#e8e8e8" stroke-width="0.60" stroke-opacity="0.90" stroke-linejoin="round"/>
<circle cx="440.7" cy="464.7" r="3.90" fill="url(#g60)"/>
<line x1="387.9" y1="494.9" x2="387.9" y2="511.0" stroke="#da744a" stroke-width="1.50"/>
<line x1="401.1" y1="442.2" x2="414.3" y2="441.1" stroke="#f00808" stroke-width="1.50"/>
<circle cx="387.9" cy="494.9" r="6.20" fill="url(#g81)"/>
<polygon points="414.3,492.7 400.9,499.3 361.5,497.1 374.9,490.5" fill="#2c858a" fill-opacity="0.80" stroke="#e8e8e8" stroke-width="0.60" stroke-opacity="0.90" stroke-linejoin="round"/>
<circle cx="374.9" cy="438.9" r="3.90" fill="url(#g95)"/>
<line x1="302.4" y1="410.9" x2="305.8" y2="409.3" stroke="#333" stroke-width="0.80" stroke-linecap="round"/>
<line x1="387.9" y1="443.3" x2="381.4" y2="441.1" stroke="#da744a" stroke-width="1.50"/>
<line x1="315.6" y1="437.9" x2="322.1" y2="440.1" stroke="#f00808" stroke-width="1.50"/>
<line x1="295.7" y1="526.5" x2="299.1" y2="524.9" stroke="#333" stroke-width="0.80" stroke-linecap="round"/>
<polygon points="414.3,492.7 400.9,499.3 387.9,527.1" fill="#2c868b" fill-opacity="0.80" stroke="#e8e8e8" stroke-width="0.60" stroke-opacity="0.90" stroke-linejoin="round"/>
<line x1="447.2" y1="437.9" x2="453.7" y2="440.1" stroke="#f00808" stroke-width="1.50"/>
<line x1="387.9" y1="494.9" x2="374.7" y2="496.0" stroke="#da744a" stroke-width="1.50"/>
<circle cx="506.5" cy="432.5" r="3.90" fill="url(#g92)"/>
<circle cx="282.7" cy="495.9" r="3.90" fill="url(#g92)"/>
<line x1="387.9" y1="443.3" x2="401.1" y2="442.2" stroke="#da744a" stroke-width="1.50"/>
<line x1="328.6" y1="500.3" x2="322.1" y2="498.1" stroke="#f00808" stroke-width="1.50"/>
<polygon points="361.5,445.5 374.9,438.9 387.9,411.1" fill="#34afb6" fill-opacity="0.48" stroke="#e8e8e8" stroke-width="0.60" stroke-opacity="0.40" stroke-linejoin="round"/>
<path d="M381.70,494.92 A6.20,6.20 0 0 1 394.10,494.90 A6.20,1.04 -0.1 0 1 381.70,494.92 Z" fill="url(#g81)"/>
<line x1="460.2" y1="500.3" x2="453.7" y2="498.1" stroke="#f00808" stroke-width="1.50"/>
<line x1="476.8" y1="411.5" x2="480.1" y2="409.8" stroke="#333" stroke-width="0.80" stroke-linecap="round"/>
<line x1="387.9" y1="494.9" x2="394.4" y2="497.1" stroke="#da744a" stroke-width="1.50"/>
<circle cx="414.3" cy="492.7" r="3.90" fill="url(#g91)"/>
<circle cx="348.5" cy="408.9" r="5.70" fill="url(#g110)"/>
<line x1="470.1" y1="527.1" x2="473.4" y2="525.4" stroke="#333" stroke-width="0.80" stroke-linecap="round"/>
<circle cx="309.1" cy="406.7" r="3.90" fill="url(#g91)"/>
<circle cx="480.1" cy="408.9" r="5.70" fill="url(#g110)"/>
<circle cx="440.7" cy="406.7" r="3.90" fill="url(#g103)"/>
<polygon points="414.3,441.1 400.9,447.7 361.5,445.5 374.9,438.9" fill="#34aeb6" fill-opacity="0.48" stroke="#e8e8e8" stroke-width="0.60" stroke-opacity="0.40" stroke-linejoin="round"/>
<line x1="374.7" y1="496.0" x2="361.5" y2="497.1" stroke="#f00808" stroke-width="1.50"/>
<line x1="387.9" y1="443.3" x2="387.9" y2="427.2" stroke="#da744a" stroke-width="1.50"/>
<polygon points="361.5,497.1 322.1,498.1 335.1,531.5" fill="#a45533" fill-opacity="0.48" stroke="#e8e8e8" stroke-width="0.60" stroke-opacity="0.40" stroke-linejoin="round"/>
<polygon points="361.5,497.1 400.9,499.3 387.9,527.1" fill="#39c8d0" fill-opacity="0.80" stroke="#e8e8e8" stroke-width="0.60" stroke-opacity="0.90" stroke-linejoin="round"/>
<polygon points="493.1,500.3 453.7,498.1 466.7,531.5" fill="#a45533" fill-opacity="0.48" stroke="#e8e8e8" stroke-width="0.60" stroke-opacity="0.40" stroke-linejoin="round"/>
<line x1="299.1" y1="412.6" x2="302.4" y2="410.9" stroke="#333" stroke-width="0.80" stroke-linecap="round"/>
<line x1="387.9" y1="443.3" x2="374.7" y2="444.4" stroke="#da744a" stroke-width="1.50"/>
<line x1="292.4" y1="528.2" x2="295.7" y2="526.5" stroke="#333" stroke-width="0.80" stroke-linecap="round"/>
<circle cx="295.7" cy="529.3" r="5.70" fill="url(#g107)"/>
<line x1="387.9" y1="427.2" x2="387.9" y2="411.1" stroke="#f00808" stroke-width="1.50"/>
<circle cx="427.3" cy="529.3" r="5.70" fill="url(#g119)"/>
<circle cx="387.9" cy="527.1" r="3.90" fill="url(#g58)"/>
<polygon points="361.5,497.1 322.1,498.1 335.1,473.5" fill="#a45532" fill-opacity="0.48" stroke="#e8e8e8" stroke-width="0.60" stroke-opacity="0.40" stroke-linejoin="round"/>
<polygon points="493.1,500.3 453.7,498.1 466.7,473.5" fill="#a45432" fill-opacity="0.48" stroke="#e8e8e8" stroke-width="0.60" stroke-opacity="0.40" stroke-linejoin="round"/>
<circle cx="387.9" cy="443.3" r="6.20" fill="url(#g80)"/>
<polygon points="414.3,441.1 400.9,447.7 387.9,411.1" fill="#2e9ca2" fill-opacity="0.80" stroke="#e8e8e8" stroke-width="0.60" stroke-opacity="0.90" stroke-linejoin="round"/>
<circle cx="282.7" cy="437.9" r="3.90" fill="url(#g89)"/>
<line x1="387.9" y1="443.3" x2="394.4" y2="445.5" stroke="#da744a" stroke-width="1.50"/>
<circle cx="414.3" cy="441.1" r="3.90" fill="url(#g89)"/>
<line x1="328.6" y1="442.3" x2="322.1" y2="440.1" stroke="#f00808" stroke-width="1.50"/>
<line x1="348.3" y1="499.8" x2="361.5" y2="497.1" stroke="#f00808" stroke-width="1.50"/>
<line x1="460.2" y1="442.3" x2="453.7" y2="440.1" stroke="#f00808" stroke-width="1.50"/>
<line x1="473.4" y1="413.1" x2="476.8" y2="411.5" stroke="#333" stroke-width="0.80" stroke-linecap="round"/>
<line x1="479.9" y1="501.4" x2="493.1" y2="500.3" stroke="#f00808" stroke-width="1.50"/>
<line x1="466.7" y1="528.7" x2="470.1" y2="527.1" stroke="#333" stroke-width="0.80" stroke-linecap="round"/>
<line x1="374.7" y1="444.4" x2="361.5" y2="445.5" stroke="#f00808" stroke-width="1.50"/>
<circle cx="322.1" cy="498.1" r="3.90" fill="url(#g93)"/>
<line x1="335.1" y1="502.5" x2="328.6" y2="500.3" stroke="#da744a" stroke-width="1.50"/>
<polygon points="308.7,507.9 322.1,498.1 335.1,531.5" fill="#a45431" fill-opacity="0.48" stroke="#e8e8e8" stroke-width="0.60" stroke-opacity="0.40" stroke-linejoin="round"/>
<circle cx="453.7" cy="498.1" r="3.90" fill="url(#g93)"/>
<line x1="466.7" y1="502.5" x2="460.2" y2="500.3" stroke="#da744a" stroke-width="1.50"/>
<line x1="394.4" y1="497.1" x2="400.9" y2="499.3" stroke="#f00808" stroke-width="1.50"/>
<polygon points="440.3,504.7 453.7,498.1 466.7,531.5" fill="#a45331" fill-opacity="0.48" stroke="#e8e8e8" stroke-width="0.60" stroke-opacity="0.40" stroke-linejoin="round"/>
<polygon points="361.5,445.5 322.1,440.1 335.1,473.5" fill="#a35331" fill-opacity="0.48" stroke="#e8e8e8" stroke-width="0.60" stroke-opacity="0.40" stroke-linejoin="round"/>
<polygon points="493.1,442.3 453.7,440.1 466.7,473.5" fill="#a35331" fill-opacity="0.48" stroke="#e8e8e8" stroke-width="0.60" stroke-opacity="0.40" stroke-linejoin="round"/>
<line x1="335.1" y1="517.0" x2="335.1" y2="531.5" stroke="#f00808" stroke-width="1.50"/>
<line x1="295.7" y1="414.2" x2="299.1" y2="412.6" stroke="#333" stroke-width="0.80" stroke-linecap="round"/>
<line x1="289.0" y1="529.8" x2="292.4" y2="528.2" stroke="#333" stroke-width="0.80" stroke-linecap="round"/>
<line x1="335.1" y1="502.5" x2="348.3" y2="499.8" stroke="#da744a" stroke-width="1.50"/>
<polygon points="308.7,507.9 322.1,498.1 335.1,473.5" fill="#a35331" fill-opacity="0.48" stroke="#e8e8e8" stroke-width="0.60" stroke-opacity="0.40" stroke-linejoin="round"/>
<line x1="466.7" y1="517.0" x2="466.7" y2="531.5" stroke="#f00808" stroke-width="1.50"/>
<circle cx="295.7" cy="471.3" r="5.70" fill="url(#g106)"/>
<line x1="466.7" y1="502.5" x2="479.9" y2="501.4" stroke="#da744a" stroke-width="1.50"/>
<polygon points="440.3,504.7 453.7,498.1 466.7,473.5" fill="#a35330" fill-opacity="0.48" stroke="#e8e8e8" stroke-width="0.60" stroke-opacity="0.40" stroke-linejoin="round"/>
<circle cx="427.3" cy="471.3" r="5.70" fill="url(#g118)"/>
<polygon points="361.5,445.5 322.1,440.1 335.1,415.5" fill="#a35330" fill-opacity="0.48" stroke="#e8e8e8" stroke-width="0.60" stroke-opacity="0.40" stroke-linejoin="round"/>
<polygon points="361.5,445.5 400.9,447.7 387.9,411.1" fill="#3cdee7" fill-opacity="0.80" stroke="#e8e8e8" stroke-width="0.60" stroke-opacity="0.90" stroke-linejoin="round"/>
<line x1="335.1" y1="502.5" x2="335.1" y2="517.0" stroke="#da744a" stroke-width="1.50"/>
<polygon points="493.1,442.3 453.7,440.1 466.7,415.5" fill="#a35330" fill-opacity="0.48" stroke="#e8e8e8" stroke-width="0.60" stroke-opacity="0.40" stroke-linejoin="round"/>
<line x1="466.7" y1="502.5" x2="466.7" y2="517.0" stroke="#da744a" stroke-width="1.50"/>
<line x1="348.3" y1="445.0" x2="361.5" y2="445.5" stroke="#f00808" stroke-width="1.50"/>
<line x1="470.1" y1="414.8" x2="473.4" y2="413.1" stroke="#333" stroke-width="0.80" stroke-linecap="round"/>
<line x1="479.9" y1="443.4" x2="493.1" y2="442.3" stroke="#f00808" stroke-width="1.50"/>
<line x1="463.4" y1="530.4" x2="466.7" y2="528.7" stroke="#333" stroke-width="0.80" stroke-linecap="round"/>
<line x1="335.1" y1="502.5" x2="335.1" y2="488.0" stroke="#da744a" stroke-width="1.50"/>
<line x1="466.7" y1="502.5" x2="466.7" y2="488.0" stroke="#da744a" stroke-width="1.50"/>
<polygon points="361.5,497.1 348.1,506.9 335.1,531.5" fill="#763d24" fill-opacity="0.80" stroke="#e8e8e8" stroke-width="0.60" stroke-opacity="0.90" stroke-linejoin="round"/>
<line x1="335.1" y1="502.5" x2="321.9" y2="505.2" stroke="#da744a" stroke-width="1.50"/>
<line x1="394.4" y1="445.5" x2="400.9" y2="447.7" stroke="#f00808" stroke-width="1.50"/>
<circle cx="322.1" cy="440.1" r="3.90" fill="url(#g12)"/>
<line x1="335.1" y1="444.5" x2="328.6" y2="442.3" stroke="#da744a" stroke-width="1.50"/>
<polygon points="493.1,500.3 479.7,506.9 466.7,531.5" fill="#793e25" fill-opacity="0.80" stroke="#e8e8e8" stroke-width="0.60" stroke-opacity="0.90" stroke-linejoin="round"/>
<line x1="335.1" y1="488.0" x2="335.1" y2="473.5" stroke="#f00808" stroke-width="1.50"/>
<polygon points="308.7,443.5 322.1,440.1 335.1,473.5" fill="#a3522f" fill-opacity="0.48" stroke="#e8e8e8" stroke-width="0.60" stroke-opacity="0.40" stroke-linejoin="round"/>
<line x1="466.7" y1="502.5" x2="453.5" y2="503.6" stroke="#da744a" stroke-width="1.50"/>
<circle cx="453.7" cy="440.1" r="3.90" fill="url(#g12)"/>
<line x1="466.7" y1="444.5" x2="460.2" y2="442.3" stroke="#da744a" stroke-width="1.50"/>
<line x1="466.7" y1="488.0" x2="466.7" y2="473.5" stroke="#f00808" stroke-width="1.50"/>
<polygon points="440.3,446.7 453.7,440.1 466.7,473.5" fill="#a3522f" fill-opacity="0.48" stroke="#e8e8e8" stroke-width="0.60" stroke-opacity="0.40" stroke-linejoin="round"/>
<line x1="275.8" y1="507.9" x2="269.3" y2="505.7" stroke="#f00808" stroke-width="1.50"/>
<line x1="335.1" y1="459.0" x2="335.1" y2="473.5" stroke="#f00808" stroke-width="1.50"/>
<circle cx="335.1" cy="502.5" r="6.20" fill="url(#g77)"/>
<polygon points="361.5,497.1 348.1,506.9 335.1,473.5" fill="#964b2c" fill-opacity="0.80" stroke="#e8e8e8" stroke-width="0.60" stroke-opacity="0.90" stroke-linejoin="round"/>
<line x1="292.4" y1="415.9" x2="295.7" y2="414.2" stroke="#333" stroke-width="0.80" stroke-linecap="round"/>
<line x1="335.1" y1="444.5" x2="348.3" y2="445.0" stroke="#da744a" stroke-width="1.50"/>
<line x1="335.1" y1="502.5" x2="341.6" y2="504.7" stroke="#da744a" stroke-width="1.50"/>
<line x1="285.7" y1="531.5" x2="289.0" y2="529.8" stroke="#333" stroke-width="0.80" stroke-linecap="round"/>
<polygon points="493.1,500.3 479.7,506.9 466.7,473.5" fill="#91492a" fill-opacity="0.80" stroke="#e8e8e8" stroke-width="0.60" stroke-opacity="0.90" stroke-linejoin="round"/>
<line x1="466.7" y1="459.0" x2="466.7" y2="473.5" stroke="#f00808" stroke-width="1.50"/>
<circle cx="466.7" cy="502.5" r="6.20" fill="url(#g84)"/>
<circle cx="361.5" cy="497.1" r="3.90" fill="url(#g64)"/>
<circle cx="295.7" cy="413.3" r="5.70" fill="url(#g70)"/>
<polygon points="308.7,443.5 322.1,440.1 335.1,415.5" fill="#a2512e" fill-opacity="0.48" stroke="#e8e8e8" stroke-width="0.60" stroke-opacity="0.40" stroke-linejoin="round"/>
<line x1="466.7" y1="502.5" x2="473.2" y2="504.7" stroke="#da744a" stroke-width="1.50"/>
<line x1="407.4" y1="503.1" x2="400.9" y2="499.3" stroke="#f00808" stroke-width="1.50"/>
<circle cx="493.1" cy="500.3" r="3.90" fill="url(#g64)"/>
<line x1="466.7" y1="444.5" x2="479.9" y2="443.4" stroke="#da744a" stroke-width="1.50"/>
<polygon points="440.3,446.7 453.7,440.1 466.7,415.5" fill="#a2512e" fill-opacity="0.48" stroke="#e8e8e8" stroke-width="0.60" stroke-opacity="0.40" stroke-linejoin="round"/>
<circle cx="427.3" cy="413.3" r="5.70" fill="url(#g70)"/>
<circle cx="387.9" cy="411.1" r="3.90" fill="url(#g98)"/>
<line x1="335.1" y1="444.5" x2="335.1" y2="459.0" stroke="#da744a" stroke-width="1.50"/>
<line x1="321.9" y1="505.2" x2="308.7" y2="507.9" stroke="#f00808" stroke-width="1.50"/>
<line x1="466.7" y1="444.5" x2="466.7" y2="459.0" stroke="#da744a" stroke-width="1.50"/>
<line x1="453.5" y1="503.6" x2="440.3" y2="504.7" stroke="#f00808" stroke-width="1.50"/>
<line x1="466.7" y1="416.4" x2="470.1" y2="414.8" stroke="#333" stroke-width="0.80" stroke-linecap="round"/>
<line x1="460.0" y1="532.0" x2="463.4" y2="530.4" stroke="#333" stroke-width="0.80" stroke-linecap="round"/>
<line x1="335.1" y1="444.5" x2="335.1" y2="430.0" stroke="#da744a" stroke-width="1.50"/>
<polygon points="308.7,507.9 348.1,506.9 335.1,531.5" fill="#b65a33" fill-opacity="0.80" stroke="#e8e8e8" stroke-width="0.60" stroke-opacity="0.90" stroke-linejoin="round"/>
<line x1="466.7" y1="444.5" x2="466.7" y2="430.0" stroke="#da744a" stroke-width="1.50"/>
<polygon points="440.3,504.7 400.9,499.3 413.9,535.9" fill="#a2502d" fill-opacity="0.48" stroke="#e8e8e8" stroke-width="0.60" stroke-opacity="0.40" stroke-linejoin="round"/>
<polygon points="440.3,504.7 479.7,506.9 466.7,531.5" fill="#b65a32" fill-opacity="0.80" stroke="#e8e8e8" stroke-width="0.60" stroke-opacity="0.90" stroke-linejoin="round"/>
<polygon points="361.5,445.5 348.1,448.9 335.1,473.5" fill="#7c3f24" fill-opacity="0.80" stroke="#e8e8e8" stroke-width="0.60" stroke-opacity="0.90" stroke-linejoin="round"/>
<line x1="335.1" y1="444.5" x2="321.9" y2="444.0" stroke="#da744a" stroke-width="1.50"/>
<polygon points="493.1,442.3 479.7,448.9 466.7,473.5" fill="#783c23" fill-opacity="0.80" stroke="#e8e8e8" stroke-width="0.60" stroke-opacity="0.90" stroke-linejoin="round"/>
<line x1="335.1" y1="430.0" x2="335.1" y2="415.5" stroke="#f00808" stroke-width="1.50"/>
<line x1="466.7" y1="444.5" x2="453.5" y2="445.6" stroke="#da744a" stroke-width="1.50"/>
<polygon points="308.7,507.9 269.3,505.7 282.3,477.9" fill="#2dacb3" fill-opacity="0.48" stroke="#e8e8e8" stroke-width="0.60" stroke-opacity="0.40" stroke-linejoin="round"/>
<circle cx="374.5" cy="533.7" r="5.70" fill="url(#g114)"/>
<line x1="466.7" y1="430.0" x2="466.7" y2="415.5" stroke="#f00808" stroke-width="1.50"/>
<polygon points="308.7,507.9 348.1,506.9 335.1,473.5" fill="#cd6538" fill-opacity="0.80" stroke="#e8e8e8" stroke-width="0.60" stroke-opacity="0.90" stroke-linejoin="round"/>
<circle cx="335.1" cy="531.5" r="3.90" fill="url(#g22)"/>
<circle cx="466.7" cy="531.5" r="3.90" fill="url(#g15)"/>
<polygon points="440.3,504.7 400.9,499.3 413.9,477.9" fill="#a2502d" fill-opacity="0.48" stroke="#e8e8e8" stroke-width="0.60" stroke-opacity="0.40" stroke-linejoin="round"/>
<polygon points="440.3,504.7 479.7,506.9 466.7,473.5" fill="#ce6538" fill-opacity="0.80" stroke="#e8e8e8" stroke-width="0.60" stroke-opacity="0.90" stroke-linejoin="round"/>
<line x1="295.5" y1="509.0" x2="308.7" y2="507.9" stroke="#f00808" stroke-width="1.50"/>
<polygon points="361.5,445.5 348.1,448.9 335.1,415.5" fill="#8b4527" fill-opacity="0.80" stroke="#e8e8e8" stroke-width="0.60" stroke-opacity="0.90" stroke-linejoin="round"/>
<circle cx="361.5" cy="445.5" r="3.90" fill="url(#g15)"/>
<line x1="289.0" y1="417.5" x2="292.4" y2="415.9" stroke="#333" stroke-width="0.80" stroke-linecap="round"/>
<circle cx="335.1" cy="444.5" r="6.20" fill="url(#g76)"/>
<line x1="282.3" y1="533.1" x2="285.7" y2="531.5" stroke="#333" stroke-width="0.80" stroke-linecap="round"/>
<line x1="407.4" y1="448.3" x2="400.9" y2="447.7" stroke="#f00808" stroke-width="1.50"/>
<line x1="335.1" y1="444.5" x2="341.6" y2="446.7" stroke="#da744a" stroke-width="1.50"/>
<line x1="275.8" y1="443.5" x2="269.3" y2="441.3" stroke="#f00808" stroke-width="1.50"/>
<polygon points="493.1,442.3 479.7,448.9 466.7,415.5" fill="#904728" fill-opacity="0.80" stroke="#e8e8e8" stroke-width="0.60" stroke-opacity="0.90" stroke-linejoin="round"/>
<line x1="427.1" y1="505.8" x2="440.3" y2="504.7" stroke="#f00808" stroke-width="1.50"/>
<circle cx="466.7" cy="444.5" r="6.20" fill="url(#g83)"/>
<line x1="466.7" y1="444.5" x2="473.2" y2="446.7" stroke="#da744a" stroke-width="1.50"/>
<circle cx="493.1" cy="442.3" r="3.90" fill="url(#g104)"/>
<circle cx="269.3" cy="505.7" r="3.90" fill="url(#g88)"/>
<line x1="282.3" y1="510.1" x2="275.8" y2="507.9" stroke="#da744a" stroke-width="1.50"/>
<line x1="341.6" y1="504.7" x2="348.1" y2="506.9" stroke="#f00808" stroke-width="1.50"/>
<line x1="321.9" y1="444.0" x2="308.7" y2="443.5" stroke="#f00808" stroke-width="1.50"/>
<line x1="413.9" y1="506.9" x2="407.4" y2="503.1" stroke="#da744a" stroke-width="1.50"/>
<line x1="453.5" y1="445.6" x2="440.3" y2="446.7" stroke="#f00808" stroke-width="1.50"/>
<line x1="463.4" y1="418.1" x2="466.7" y2="416.4" stroke="#333" stroke-width="0.80" stroke-linecap="round"/>
<line x1="473.2" y1="504.7" x2="479.7" y2="506.9" stroke="#f00808" stroke-width="1.50"/>
<circle cx="400.9" cy="499.3" r="3.90" fill="url(#g99)"/>
<polygon points="387.5,509.1 400.9,499.3 413.9,535.9" fill="#a14f2c" fill-opacity="0.48" stroke="#e8e8e8" stroke-width="0.60" stroke-opacity="0.40" stroke-linejoin="round"/>
<line x1="456.7" y1="533.7" x2="460.0" y2="532.0" stroke="#333" stroke-width="0.80" stroke-linecap="round"/>
<polygon points="308.7,443.5 269.3,441.3 282.3,477.9" fill="#2babb3" fill-opacity="0.48" stroke="#e8e8e8" stroke-width="0.60" stroke-opacity="0.40" stroke-linejoin="round"/>
<polygon points="308.7,443.5 348.1,448.9 335.1,473.5" fill="#b65931" fill-opacity="0.80" stroke="#e8e8e8" stroke-width="0.60" stroke-opacity="0.90" stroke-linejoin="round"/>
<polygon points="440.3,446.7 400.9,447.7 413.9,477.9" fill="#a14f2b" fill-opacity="0.48" stroke="#e8e8e8" stroke-width="0.60" stroke-opacity="0.40" stroke-linejoin="round"/>
<line x1="282.3" y1="526.1" x2="282.3" y2="533.1" stroke="#333" stroke-width="0.80" stroke-linecap="round"/>
<line x1="282.3" y1="510.1" x2="295.5" y2="509.0" stroke="#da744a" stroke-width="1.50"/>
<polygon points="440.3,446.7 479.7,448.9 466.7,473.5" fill="#b65830" fill-opacity="0.80" stroke="#e8e8e8" stroke-width="0.60" stroke-opacity="0.90" stroke-linejoin="round"/>
<polygon points="255.9,512.3 269.3,505.7 282.3,477.9" fill="#2babb3" fill-opacity="0.48" stroke="#e8e8e8" stroke-width="0.60" stroke-opacity="0.40" stroke-linejoin="round"/>
<line x1="413.9" y1="521.4" x2="413.9" y2="535.9" stroke="#f00808" stroke-width="1.50"/>
<line x1="282.3" y1="533.1" x2="292.2" y2="533.7" stroke="#333" stroke-width="0.80" stroke-linecap="round"/>
<line x1="282.3" y1="519.1" x2="282.3" y2="526.1" stroke="#333" stroke-width="0.80" stroke-linecap="round"/>
<line x1="413.9" y1="506.9" x2="427.1" y2="505.8" stroke="#da744a" stroke-width="1.50"/>
<circle cx="374.5" cy="475.7" r="5.70" fill="url(#g113)"/>
<polygon points="387.5,509.1 400.9,499.3 413.9,477.9" fill="#a14e2b" fill-opacity="0.48" stroke="#e8e8e8" stroke-width="0.60" stroke-opacity="0.40" stroke-linejoin="round"/>
<line x1="282.3" y1="512.1" x2="282.3" y2="519.1" stroke="#333" stroke-width="0.80" stroke-linecap="round"/>
<circle cx="335.1" cy="473.5" r="3.90" fill="url(#g13)"/>
<polygon points="308.7,443.5 348.1,448.9 335.1,415.5" fill="#ce6336" fill-opacity="0.80" stroke="#e8e8e8" stroke-width="0.60" stroke-opacity="0.90" stroke-linejoin="round"/>
<polygon points="440.3,446.7 400.9,447.7 413.9,419.9" fill="#a14e2b" fill-opacity="0.48" stroke="#e8e8e8" stroke-width="0.60" stroke-opacity="0.40" stroke-linejoin="round"/>
<polygon points="308.7,507.9 295.3,514.5 255.9,512.3 269.3,505.7" fill="#2babb2" fill-opacity="0.48" stroke="#e8e8e8" stroke-width="0.60" stroke-opacity="0.40" stroke-linejoin="round"/>
<circle cx="466.7" cy="473.5" r="3.90" fill="url(#g45)"/>
<line x1="413.9" y1="506.9" x2="413.9" y2="521.4" stroke="#da744a" stroke-width="1.50"/>
<polygon points="440.3,446.7 479.7,448.9 466.7,415.5" fill="#cd6336" fill-opacity="0.80" stroke="#e8e8e8" stroke-width="0.60" stroke-opacity="0.90" stroke-linejoin="round"/>
<line x1="282.3" y1="505.0" x2="282.3" y2="512.1" stroke="#333" stroke-width="0.80" stroke-linecap="round"/>
<line x1="285.7" y1="419.2" x2="289.0" y2="417.5" stroke="#333" stroke-width="0.80" stroke-linecap="round"/>
<line x1="292.2" y1="533.7" x2="302.0" y2="534.2" stroke="#333" stroke-width="0.80" stroke-linecap="round"/>
<line x1="295.5" y1="444.6" x2="308.7" y2="443.5" stroke="#f00808" stroke-width="1.50"/>
<line x1="282.3" y1="510.1" x2="282.3" y2="494.0" stroke="#da744a" stroke-width="1.50"/>
<line x1="282.3" y1="498.0" x2="282.3" y2="505.0" stroke="#333" stroke-width="0.80" stroke-linecap="round"/>
<line x1="427.1" y1="447.8" x2="440.3" y2="446.7" stroke="#f00808" stroke-width="1.50"/>
<line x1="413.9" y1="506.9" x2="413.9" y2="492.4" stroke="#da744a" stroke-width="1.50"/>
<line x1="282.3" y1="491.0" x2="282.3" y2="498.0" stroke="#333" stroke-width="0.80" stroke-linecap="round"/>
<line x1="282.3" y1="510.1" x2="269.1" y2="511.2" stroke="#da744a" stroke-width="1.50"/>
<line x1="282.3" y1="484.0" x2="282.3" y2="491.0" stroke="#333" stroke-width="0.80" stroke-linecap="round"/>
<polygon points="440.3,504.7 426.9,514.5 413.9,535.9" fill="#6f361e" fill-opacity="0.80" stroke="#e8e8e8" stroke-width="0.60" stroke-opacity="0.90" stroke-linejoin="round"/>
<circle cx="400.9" cy="447.7" r="3.90" fill="url(#g86)"/>
<line x1="282.3" y1="494.0" x2="282.3" y2="477.9" stroke="#f00808" stroke-width="1.50"/>
<line x1="341.6" y1="446.7" x2="348.1" y2="448.9" stroke="#f00808" stroke-width="1.50"/>
<circle cx="269.3" cy="441.3" r="3.90" fill="url(#g86)"/>
<line x1="302.0" y1="534.2" x2="311.9" y2="534.8" stroke="#333" stroke-width="0.80" stroke-linecap="round"/>
<line x1="282.3" y1="445.7" x2="275.8" y2="443.5" stroke="#da744a" stroke-width="1.50"/>
<line x1="413.9" y1="448.9" x2="407.4" y2="448.3" stroke="#da744a" stroke-width="1.50"/>
<line x1="413.9" y1="506.9" x2="400.7" y2="508.0" stroke="#da744a" stroke-width="1.50"/>
<polygon points="255.9,447.9 269.3,441.3 282.3,477.9" fill="#2aabb2" fill-opacity="0.48" stroke="#e8e8e8" stroke-width="0.60" stroke-opacity="0.40" stroke-linejoin="round"/>
<line x1="460.0" y1="419.7" x2="463.4" y2="418.1" stroke="#333" stroke-width="0.80" stroke-linecap="round"/>
<polygon points="387.5,451.1 400.9,447.7 413.9,477.9" fill="#a04d2a" fill-opacity="0.48" stroke="#e8e8e8" stroke-width="0.60" stroke-opacity="0.40" stroke-linejoin="round"/>
<line x1="413.9" y1="492.4" x2="413.9" y2="477.9" stroke="#f00808" stroke-width="1.50"/>
<line x1="282.3" y1="477.0" x2="282.3" y2="484.0" stroke="#333" stroke-width="0.80" stroke-linecap="round"/>
<line x1="473.2" y1="446.7" x2="479.7" y2="448.9" stroke="#f00808" stroke-width="1.50"/>
<line x1="453.3" y1="535.3" x2="456.7" y2="533.7" stroke="#333" stroke-width="0.80" stroke-linecap="round"/>
<circle cx="282.3" cy="510.1" r="6.20" fill="url(#g54)"/>
<line x1="282.3" y1="470.0" x2="282.3" y2="477.0" stroke="#333" stroke-width="0.80" stroke-linecap="round"/>
<polygon points="308.7,507.9 295.3,514.5 282.3,477.9" fill="#25979e" fill-opacity="0.80" stroke="#e8e8e8" stroke-width="0.60" stroke-opacity="0.90" stroke-linejoin="round"/>
<line x1="282.3" y1="510.1" x2="288.8" y2="512.3" stroke="#da744a" stroke-width="1.50"/>
<circle cx="308.7" cy="507.9" r="3.90" fill="url(#g87)"/>
<line x1="282.3" y1="461.8" x2="282.3" y2="477.9" stroke="#f00808" stroke-width="1.50"/>
<polygon points="440.3,504.7 426.9,514.5 413.9,477.9" fill="#934726" fill-opacity="0.80" stroke="#e8e8e8" stroke-width="0.60" stroke-opacity="0.90" stroke-linejoin="round"/>
<line x1="282.3" y1="462.9" x2="282.3" y2="470.0" stroke="#333" stroke-width="0.80" stroke-linecap="round"/>
<line x1="354.6" y1="509.1" x2="348.1" y2="506.9" stroke="#f00808" stroke-width="1.50"/>
<line x1="413.9" y1="463.4" x2="413.9" y2="477.9" stroke="#f00808" stroke-width="1.50"/>
<circle cx="413.9" cy="506.9" r="6.20" fill="url(#g54)"/>
<line x1="311.9" y1="534.8" x2="321.7" y2="535.3" stroke="#333" stroke-width="0.80" stroke-linecap="round"/>
<line x1="413.9" y1="506.9" x2="420.4" y2="510.7" stroke="#da744a" stroke-width="1.50"/>
<line x1="282.3" y1="445.7" x2="295.5" y2="444.6" stroke="#da744a" stroke-width="1.50"/>
<circle cx="440.3" cy="504.7" r="3.90" fill="url(#g23)"/>
<line x1="413.9" y1="448.9" x2="427.1" y2="447.8" stroke="#da744a" stroke-width="1.50"/>
<polygon points="387.5,451.1 400.9,447.7 413.9,419.9" fill="#a04d29" fill-opacity="0.48" stroke="#e8e8e8" stroke-width="0.60" stroke-opacity="0.40" stroke-linejoin="round"/>
<circle cx="374.5" cy="417.7" r="5.70" fill="url(#g72)"/>
<line x1="282.3" y1="455.9" x2="282.3" y2="462.9" stroke="#333" stroke-width="0.80" stroke-linecap="round"/>
<circle cx="335.1" cy="415.5" r="3.90" fill="url(#g23)"/>
<line x1="282.3" y1="445.7" x2="282.3" y2="461.8" stroke="#da744a" stroke-width="1.50"/>
<line x1="269.1" y1="511.2" x2="255.9" y2="512.3" stroke="#f00808" stroke-width="1.50"/>
<line x1="282.3" y1="448.9" x2="282.3" y2="455.9" stroke="#333" stroke-width="0.80" stroke-linecap="round"/>
<circle cx="466.7" cy="415.5" r="3.90" fill="url(#g23)"/>
<line x1="413.9" y1="448.9" x2="413.9" y2="463.4" stroke="#da744a" stroke-width="1.50"/>
<line x1="282.3" y1="420.8" x2="285.7" y2="419.2" stroke="#333" stroke-width="0.80" stroke-linecap="round"/>
<circle cx="282.3" cy="445.7" r="6.20" fill="url(#g73)"/>
<polygon points="308.7,443.5 295.3,450.1 255.9,447.9 269.3,441.3" fill="#1e7d83" fill-opacity="0.80" stroke="#e8e8e8" stroke-width="0.60" stroke-opacity="0.90" stroke-linejoin="round"/>
<line x1="400.7" y1="508.0" x2="387.5" y2="509.1" stroke="#f00808" stroke-width="1.50"/>
<line x1="321.7" y1="535.3" x2="331.6" y2="535.9" stroke="#333" stroke-width="0.80" stroke-linecap="round"/>
<line x1="282.3" y1="441.9" x2="282.3" y2="448.9" stroke="#333" stroke-width="0.80" stroke-linecap="round"/>
<line x1="282.3" y1="434.9" x2="282.3" y2="441.9" stroke="#333" stroke-width="0.80" stroke-linecap="round"/>
<polygon points="387.5,509.1 348.1,506.9 361.1,540.3" fill="#9f4c28" fill-opacity="0.48" stroke="#e8e8e8" stroke-width="0.60" stroke-opacity="0.40" stroke-linejoin="round"/>
<line x1="413.9" y1="448.9" x2="413.9" y2="434.4" stroke="#da744a" stroke-width="1.50"/>
<polygon points="387.5,509.1 426.9,514.5 413.9,535.9" fill="#b0542c" fill-opacity="0.80" stroke="#e8e8e8" stroke-width="0.60" stroke-opacity="0.90" stroke-linejoin="round"/>
<line x1="282.3" y1="427.8" x2="282.3" y2="434.9" stroke="#333" stroke-width="0.80" stroke-linecap="round"/>
<polygon points="308.7,443.5 295.3,450.1 282.3,477.9" fill="#1e7e84" fill-opacity="0.80" stroke="#e8e8e8" stroke-width="0.60" stroke-opacity="0.90" stroke-linejoin="round"/>
<polygon points="440.3,446.7 426.9,450.1 413.9,477.9" fill="#7b3a1f" fill-opacity="0.80" stroke="#e8e8e8" stroke-width="0.60" stroke-opacity="0.90" stroke-linejoin="round"/>
<line x1="282.3" y1="445.7" x2="269.1" y2="446.8" stroke="#da744a" stroke-width="1.50"/>
<line x1="331.6" y1="535.9" x2="341.4" y2="536.4" stroke="#333" stroke-width="0.80" stroke-linecap="round"/>
<line x1="413.9" y1="448.9" x2="400.7" y2="450.0" stroke="#da744a" stroke-width="1.50"/>
<circle cx="321.7" cy="538.1" r="5.70" fill="url(#g108)"/>
<line x1="282.3" y1="420.8" x2="282.3" y2="427.8" stroke="#333" stroke-width="0.80" stroke-linecap="round"/>
<line x1="456.7" y1="421.4" x2="460.0" y2="419.7" stroke="#333" stroke-width="0.80" stroke-linecap="round"/>
<polygon points="255.9,512.3 295.3,514.5 282.3,477.9" fill="#33dde6" fill-opacity="0.80" stroke="#e8e8e8" stroke-width="0.60" stroke-opacity="0.90" stroke-linejoin="round"/>
<line x1="413.9" y1="434.4" x2="413.9" y2="419.9" stroke="#f00808" stroke-width="1.50"/>
<line x1="450.0" y1="537.0" x2="453.3" y2="535.3" stroke="#333" stroke-width="0.80" stroke-linecap="round"/>
<circle cx="453.3" cy="538.1" r="5.70" fill="url(#g108)"/>
<polygon points="387.5,509.1 348.1,506.9 361.1,482.3" fill="#9f4b27" fill-opacity="0.48" stroke="#e8e8e8" stroke-width="0.60" stroke-opacity="0.40" stroke-linejoin="round"/>
<polygon points="387.5,509.1 426.9,514.5 413.9,477.9" fill="#d06233" fill-opacity="0.80" stroke="#e8e8e8" stroke-width="0.60" stroke-opacity="0.90" stroke-linejoin="round"/>
<circle cx="413.9" cy="535.9" r="3.90" fill="url(#g101)"/>
<line x1="282.3" y1="420.8" x2="292.2" y2="421.4" stroke="#333" stroke-width="0.80" stroke-linecap="round"/>
<path d="M276.10,445.72 A6.20,6.20 0 0 1 288.50,445.70 A6.20,1.04 -0.1 0 1 276.10,445.72 Z" fill="url(#g73)"/>
<line x1="354.6" y1="451.1" x2="348.1" y2="448.9" stroke="#f00808" stroke-width="1.50"/>
<line x1="374.3" y1="510.2" x2="387.5" y2="509.1" stroke="#f00808" stroke-width="1.50"/>
<circle cx="413.9" cy="448.9" r="6.20" fill="url(#g73)"/>
<polygon points="440.3,446.7 426.9,450.1 413.9,419.9" fill="#874021" fill-opacity="0.80" stroke="#e8e8e8" stroke-width="0.60" stroke-opacity="0.90" stroke-linejoin="round"/>
<line x1="282.3" y1="445.7" x2="288.8" y2="447.9" stroke="#da744a" stroke-width="1.50"/>
<circle cx="308.7" cy="443.5" r="3.90" fill="url(#g66)"/>
<line x1="341.4" y1="536.4" x2="351.2" y2="537.0" stroke="#333" stroke-width="0.80" stroke-linecap="round"/>
<circle cx="440.3" cy="446.7" r="3.90" fill="url(#g66)"/>
<line x1="413.9" y1="448.9" x2="420.4" y2="449.5" stroke="#da744a" stroke-width="1.50"/>
<line x1="288.8" y1="512.3" x2="295.3" y2="514.5" stroke="#f00808" stroke-width="1.50"/>
<line x1="292.2" y1="421.4" x2="302.0" y2="421.9" stroke="#333" stroke-width="0.80" stroke-linecap="round"/>
<circle cx="348.1" cy="506.9" r="3.90" fill="url(#g20)"/>
<line x1="420.4" y1="510.7" x2="426.9" y2="514.5" stroke="#f00808" stroke-width="1.50"/>
<line x1="361.1" y1="511.3" x2="354.6" y2="509.1" stroke="#da744a" stroke-width="1.50"/>
<line x1="269.1" y1="446.8" x2="255.9" y2="447.9" stroke="#f00808" stroke-width="1.50"/>
<line x1="400.7" y1="450.0" x2="387.5" y2="451.1" stroke="#f00808" stroke-width="1.50"/>
<line x1="351.2" y1="537.0" x2="361.1" y2="537.5" stroke="#333" stroke-width="0.80" stroke-linecap="round"/>
<polygon points="334.7,513.5 348.1,506.9 361.1,540.3" fill="#9f4b27" fill-opacity="0.48" stroke="#e8e8e8" stroke-width="0.60" stroke-opacity="0.40" stroke-linejoin="round"/>
<circle cx="479.7" cy="506.9" r="3.90" fill="url(#g20)"/>
<polygon points="255.9,447.9 295.3,450.1 282.3,477.9" fill="#2dc4cd" fill-opacity="0.80" stroke="#e8e8e8" stroke-width="0.60" stroke-opacity="0.90" stroke-linejoin="round"/>
<polygon points="387.5,451.1 348.1,448.9 361.1,482.3" fill="#9f4b27" fill-opacity="0.48" stroke="#e8e8e8" stroke-width="0.60" stroke-opacity="0.40" stroke-linejoin="round"/>
<polygon points="387.5,451.1 426.9,450.1 413.9,477.9" fill="#b8572d" fill-opacity="0.80" stroke="#e8e8e8" stroke-width="0.60" stroke-opacity="0.90" stroke-linejoin="round"/>
<line x1="361.1" y1="525.8" x2="361.1" y2="540.3" stroke="#f00808" stroke-width="1.50"/>
<line x1="302.0" y1="421.9" x2="311.9" y2="422.5" stroke="#333" stroke-width="0.80" stroke-linecap="round"/>
<line x1="361.1" y1="511.3" x2="374.3" y2="510.2" stroke="#da744a" stroke-width="1.50"/>
<line x1="361.1" y1="537.5" x2="371.0" y2="538.1" stroke="#333" stroke-width="0.80" stroke-linecap="round"/>
<polygon points="334.7,513.5 348.1,506.9 361.1,482.3" fill="#9f4b27" fill-opacity="0.48" stroke="#e8e8e8" stroke-width="0.60" stroke-opacity="0.40" stroke-linejoin="round"/>
<line x1="453.3" y1="423.0" x2="456.7" y2="421.4" stroke="#333" stroke-width="0.80" stroke-linecap="round"/>
<circle cx="321.7" cy="480.1" r="5.70" fill="url(#g50)"/>
<line x1="446.6" y1="538.6" x2="450.0" y2="537.0" stroke="#333" stroke-width="0.80" stroke-linecap="round"/>
<circle cx="282.3" cy="477.9" r="3.90" fill="url(#g4)"/>
<circle cx="453.3" cy="480.1" r="5.70" fill="url(#g50)"/>
<polygon points="387.5,451.1 348.1,448.9 361.1,424.3" fill="#9f4b27" fill-opacity="0.48" stroke="#e8e8e8" stroke-width="0.60" stroke-opacity="0.40" stroke-linejoin="round"/>
<circle cx="413.9" cy="477.9" r="3.90" fill="url(#g4)"/>
<line x1="361.1" y1="511.3" x2="361.1" y2="525.8" stroke="#da744a" stroke-width="1.50"/>
<polygon points="387.5,451.1 426.9,450.1 413.9,419.9" fill="#c95f31" fill-opacity="0.80" stroke="#e8e8e8" stroke-width="0.60" stroke-opacity="0.90" stroke-linejoin="round"/>
<line x1="311.9" y1="422.5" x2="321.7" y2="423.0" stroke="#333" stroke-width="0.80" stroke-linecap="round"/>
<line x1="374.3" y1="452.2" x2="387.5" y2="451.1" stroke="#f00808" stroke-width="1.50"/>
<line x1="371.0" y1="538.1" x2="380.8" y2="538.6" stroke="#333" stroke-width="0.80" stroke-linecap="round"/>
<line x1="361.1" y1="511.3" x2="361.1" y2="496.8" stroke="#da744a" stroke-width="1.50"/>
<polygon points="387.5,509.1 374.1,515.7 361.1,540.3" fill="#74371c" fill-opacity="0.80" stroke="#e8e8e8" stroke-width="0.60" stroke-opacity="0.90" stroke-linejoin="round"/>
<line x1="321.7" y1="423.0" x2="331.6" y2="423.6" stroke="#333" stroke-width="0.80" stroke-linecap="round"/>
<line x1="361.1" y1="511.3" x2="347.9" y2="512.4" stroke="#da744a" stroke-width="1.50"/>
<circle cx="348.1" cy="448.9" r="3.90" fill="url(#g63)"/>
<line x1="361.1" y1="453.3" x2="354.6" y2="451.1" stroke="#da744a" stroke-width="1.50"/>
<line x1="288.8" y1="447.9" x2="295.3" y2="450.1" stroke="#f00808" stroke-width="1.50"/>
<line x1="361.1" y1="496.8" x2="361.1" y2="482.3" stroke="#f00808" stroke-width="1.50"/>
<polygon points="334.7,455.5 348.1,448.9 361.1,482.3" fill="#9f4b27" fill-opacity="0.48" stroke="#e8e8e8" stroke-width="0.60" stroke-opacity="0.40" stroke-linejoin="round"/>
<line x1="380.8" y1="538.6" x2="390.7" y2="539.2" stroke="#333" stroke-width="0.80" stroke-linecap="round"/>
<circle cx="479.7" cy="448.9" r="3.90" fill="url(#g63)"/>
<line x1="420.4" y1="449.5" x2="426.9" y2="450.1" stroke="#f00808" stroke-width="1.50"/>
<circle cx="255.9" cy="512.3" r="3.90" fill="url(#g57)"/>
<polygon points="387.5,509.1 374.1,515.7 361.1,482.3" fill="#8d4223" fill-opacity="0.80" stroke="#e8e8e8" stroke-width="0.60" stroke-opacity="0.90" stroke-linejoin="round"/>
<line x1="361.1" y1="467.8" x2="361.1" y2="482.3" stroke="#f00808" stroke-width="1.50"/>
<circle cx="361.1" cy="511.3" r="6.20" fill="url(#g51)"/>
<line x1="331.6" y1="423.6" x2="341.4" y2="424.1" stroke="#333" stroke-width="0.80" stroke-linecap="round"/>
<line x1="433.4" y1="516.7" x2="426.9" y2="514.5" stroke="#f00808" stroke-width="1.50"/>
<line x1="361.1" y1="511.3" x2="367.6" y2="513.5" stroke="#da744a" stroke-width="1.50"/>
<circle cx="387.5" cy="509.1" r="3.90" fill="url(#g44)"/>
<line x1="361.1" y1="453.3" x2="374.3" y2="452.2" stroke="#da744a" stroke-width="1.50"/>
<line x1="450.0" y1="424.7" x2="453.3" y2="423.0" stroke="#333" stroke-width="0.80" stroke-linecap="round"/>
<polygon points="334.7,455.5 348.1,448.9 361.1,424.3" fill="#9f4b27" fill-opacity="0.48" stroke="#e8e8e8" stroke-width="0.60" stroke-opacity="0.40" stroke-linejoin="round"/>
<line x1="390.7" y1="539.2" x2="400.5" y2="539.7" stroke="#333" stroke-width="0.80" stroke-linecap="round"/>
<circle cx="321.7" cy="422.1" r="5.70" fill="url(#g50)"/>
<line x1="443.2" y1="540.3" x2="446.6" y2="538.6" stroke="#333" stroke-width="0.80" stroke-linecap="round"/>
<circle cx="453.3" cy="422.1" r="5.70" fill="url(#g50)"/>
<circle cx="413.9" cy="419.9" r="3.90" fill="url(#g100)"/>
<line x1="361.1" y1="453.3" x2="361.1" y2="467.8" stroke="#da744a" stroke-width="1.50"/>
<line x1="347.9" y1="512.4" x2="334.7" y2="513.5" stroke="#f00808" stroke-width="1.50"/>
<line x1="341.4" y1="424.1" x2="351.2" y2="424.7" stroke="#333" stroke-width="0.80" stroke-linecap="round"/>
<line x1="400.5" y1="539.7" x2="410.4" y2="540.3" stroke="#333" stroke-width="0.80" stroke-linecap="round"/>
<line x1="361.1" y1="453.3" x2="361.1" y2="438.8" stroke="#da744a" stroke-width="1.50"/>
<polygon points="334.7,513.5 374.1,515.7 361.1,540.3" fill="#b4552c" fill-opacity="0.80" stroke="#e8e8e8" stroke-width="0.60" stroke-opacity="0.90" stroke-linejoin="round"/>
<polygon points="387.5,451.1 374.1,457.7 361.1,482.3" fill="#74371c" fill-opacity="0.80" stroke="#e8e8e8" stroke-width="0.60" stroke-opacity="0.90" stroke-linejoin="round"/>
<line x1="351.2" y1="424.7" x2="361.1" y2="425.2" stroke="#333" stroke-width="0.80" stroke-linecap="round"/>
<line x1="361.1" y1="453.3" x2="347.9" y2="454.4" stroke="#da744a" stroke-width="1.50"/>
<line x1="361.1" y1="438.8" x2="361.1" y2="424.3" stroke="#f00808" stroke-width="1.50"/>
<line x1="410.4" y1="540.3" x2="420.2" y2="540.8" stroke="#333" stroke-width="0.80" stroke-linecap="round"/>
<circle cx="400.5" cy="542.5" r="5.70" fill="url(#g50)"/>
<circle cx="361.1" cy="540.3" r="3.90" fill="url(#g2)"/>
<polygon points="334.7,513.5 374.1,515.7 361.1,482.3" fill="#cd6132" fill-opacity="0.80" stroke="#e8e8e8" stroke-width="0.60" stroke-opacity="0.90" stroke-linejoin="round"/>
<polygon points="466.3,516.7 426.9,514.5 439.9,486.7" fill="#27aab1" fill-opacity="0.48" stroke="#e8e8e8" stroke-width="0.60" stroke-opacity="0.40" stroke-linejoin="round"/>
<polygon points="387.5,451.1 374.1,457.7 361.1,424.3" fill="#8d4223" fill-opacity="0.80" stroke="#e8e8e8" stroke-width="0.60" stroke-opacity="0.90" stroke-linejoin="round"/>
<circle cx="361.1" cy="453.3" r="6.20" fill="url(#g51)"/>
<circle cx="255.9" cy="447.9" r="3.90" fill="url(#g2)"/>
<line x1="361.1" y1="425.2" x2="371.0" y2="425.8" stroke="#333" stroke-width="0.80" stroke-linecap="round"/>
<line x1="453.1" y1="517.8" x2="466.3" y2="516.7" stroke="#f00808" stroke-width="1.50"/>
<line x1="361.1" y1="453.3" x2="367.6" y2="455.5" stroke="#da744a" stroke-width="1.50"/>
<circle cx="387.5" cy="451.1" r="3.90" fill="url(#g2)"/>
<line x1="446.6" y1="426.3" x2="450.0" y2="424.7" stroke="#333" stroke-width="0.80" stroke-linecap="round"/>
<line x1="420.2" y1="540.8" x2="430.1" y2="541.4" stroke="#333" stroke-width="0.80" stroke-linecap="round"/>
<line x1="439.9" y1="541.9" x2="443.2" y2="540.3" stroke="#333" stroke-width="0.80" stroke-linecap="round"/>
<line x1="433.4" y1="452.3" x2="426.9" y2="450.1" stroke="#f00808" stroke-width="1.50"/>
<circle cx="295.3" cy="514.5" r="3.90" fill="url(#g2)"/>
<circle cx="426.9" cy="514.5" r="3.90" fill="url(#g2)"/>
<line x1="439.9" y1="518.9" x2="433.4" y2="516.7" stroke="#da744a" stroke-width="1.50"/>
<line x1="347.9" y1="454.4" x2="334.7" y2="455.5" stroke="#f00808" stroke-width="1.50"/>
<line x1="367.6" y1="513.5" x2="374.1" y2="515.7" stroke="#f00808" stroke-width="1.50"/>
<line x1="371.0" y1="425.8" x2="380.8" y2="426.3" stroke="#333" stroke-width="0.80" stroke-linecap="round"/>
<line x1="430.1" y1="541.4" x2="439.9" y2="541.9" stroke="#333" stroke-width="0.80" stroke-linecap="round"/>
<polygon points="334.7,455.5 374.1,457.7 361.1,482.3" fill="#b4552c" fill-opacity="0.80" stroke="#e8e8e8" stroke-width="0.60" stroke-opacity="0.90" stroke-linejoin="round"/>
<polygon points="466.3,452.3 426.9,450.1 439.9,486.7" fill="#27aab1" fill-opacity="0.48" stroke="#e8e8e8" stroke-width="0.60" stroke-opacity="0.40" stroke-linejoin="round"/>
<line x1="439.9" y1="534.9" x2="439.9" y2="541.9" stroke="#333" stroke-width="0.80" stroke-linecap="round"/>
<line x1="439.9" y1="518.9" x2="453.1" y2="517.8" stroke="#da744a" stroke-width="1.50"/>
<line x1="380.8" y1="426.3" x2="390.7" y2="426.9" stroke="#333" stroke-width="0.80" stroke-linecap="round"/>
<polygon points="413.5,521.1 426.9,514.5 439.9,486.7" fill="#27aab1" fill-opacity="0.48" stroke="#e8e8e8" stroke-width="0.60" stroke-opacity="0.40" stroke-linejoin="round"/>
<line x1="439.9" y1="527.9" x2="439.9" y2="534.9" stroke="#333" stroke-width="0.80" stroke-linecap="round"/>
<circle cx="400.5" cy="484.5" r="5.70" fill="url(#g50)"/>
<circle cx="361.1" cy="482.3" r="3.90" fill="url(#g2)"/>
<polygon points="334.7,455.5 374.1,457.7 361.1,424.3" fill="#cd6132" fill-opacity="0.80" stroke="#e8e8e8" stroke-width="0.60" stroke-opacity="0.90" stroke-linejoin="round"/>
<line x1="439.9" y1="520.9" x2="439.9" y2="527.9" stroke="#333" stroke-width="0.80" stroke-linecap="round"/>
<polygon points="466.3,516.7 452.9,523.3 413.5,521.1 426.9,514.5" fill="#27aab1" fill-opacity="0.48" stroke="#e8e8e8" stroke-width="0.60" stroke-opacity="0.40" stroke-linejoin="round"/>
<line x1="439.9" y1="513.8" x2="439.9" y2="520.9" stroke="#333" stroke-width="0.80" stroke-linecap="round"/>
<line x1="390.7" y1="426.9" x2="400.5" y2="427.4" stroke="#333" stroke-width="0.80" stroke-linecap="round"/>
<line x1="443.2" y1="428.0" x2="446.6" y2="426.3" stroke="#333" stroke-width="0.80" stroke-linecap="round"/>
<line x1="453.1" y1="453.4" x2="466.3" y2="452.3" stroke="#f00808" stroke-width="1.50"/>
<line x1="439.9" y1="518.9" x2="439.9" y2="502.8" stroke="#da744a" stroke-width="1.50"/>
<line x1="439.9" y1="506.8" x2="439.9" y2="513.8" stroke="#333" stroke-width="0.80" stroke-linecap="round"/>
<line x1="439.9" y1="499.8" x2="439.9" y2="506.8" stroke="#333" stroke-width="0.80" stroke-linecap="round"/>
<line x1="439.9" y1="518.9" x2="426.7" y2="520.0" stroke="#da744a" stroke-width="1.50"/>
<line x1="367.6" y1="455.5" x2="374.1" y2="457.7" stroke="#f00808" stroke-width="1.50"/>
<circle cx="295.3" cy="450.1" r="3.90" fill="url(#g2)"/>
<line x1="400.5" y1="427.4" x2="410.4" y2="428.0" stroke="#333" stroke-width="0.80" stroke-linecap="round"/>
<line x1="439.9" y1="492.8" x2="439.9" y2="499.8" stroke="#333" stroke-width="0.80" stroke-linecap="round"/>
<line x1="439.9" y1="502.8" x2="439.9" y2="486.7" stroke="#f00808" stroke-width="1.50"/>
<circle cx="426.9" cy="450.1" r="3.90" fill="url(#g2)"/>
<line x1="439.9" y1="454.5" x2="433.4" y2="452.3" stroke="#da744a" stroke-width="1.50"/>
<polygon points="413.5,456.7 426.9,450.1 439.9,486.7" fill="#27aab1" fill-opacity="0.48" stroke="#e8e8e8" stroke-width="0.60" stroke-opacity="0.40" stroke-linejoin="round"/>
<line x1="439.9" y1="485.8" x2="439.9" y2="492.8" stroke="#333" stroke-width="0.80" stroke-linecap="round"/>
<circle cx="439.9" cy="518.9" r="6.20" fill="url(#g51)"/>
<line x1="439.9" y1="478.8" x2="439.9" y2="485.8" stroke="#333" stroke-width="0.80" stroke-linecap="round"/>
<polygon points="466.3,516.7 452.9,523.3 439.9,486.7" fill="#23969d" fill-opacity="0.80" stroke="#e8e8e8" stroke-width="0.60" stroke-opacity="0.90" stroke-linejoin="round"/>
<circle cx="334.7" cy="513.5" r="3.90" fill="url(#g2)"/>
<line x1="439.9" y1="518.9" x2="446.4" y2="521.1" stroke="#da744a" stroke-width="1.50"/>
<circle cx="466.3" cy="516.7" r="3.90" fill="url(#g2)"/>
<line x1="439.9" y1="470.6" x2="439.9" y2="486.7" stroke="#f00808" stroke-width="1.50"/>
<line x1="410.4" y1="428.0" x2="420.2" y2="428.5" stroke="#333" stroke-width="0.80" stroke-linecap="round"/>
<line x1="439.9" y1="471.7" x2="439.9" y2="478.8" stroke="#333" stroke-width="0.80" stroke-linecap="round"/>
<line x1="439.9" y1="454.5" x2="453.1" y2="453.4" stroke="#da744a" stroke-width="1.50"/>
<circle cx="400.5" cy="426.5" r="5.70" fill="url(#g50)"/>
<circle cx="361.1" cy="424.3" r="3.90" fill="url(#g2)"/>
<line x1="439.9" y1="464.7" x2="439.9" y2="471.7" stroke="#333" stroke-width="0.80" stroke-linecap="round"/>
<line x1="439.9" y1="454.5" x2="439.9" y2="470.6" stroke="#da744a" stroke-width="1.50"/>
<line x1="426.7" y1="520.0" x2="413.5" y2="521.1" stroke="#f00808" stroke-width="1.50"/>
<line x1="439.9" y1="457.7" x2="439.9" y2="464.7" stroke="#333" stroke-width="0.80" stroke-linecap="round"/>
<line x1="420.2" y1="428.5" x2="430.1" y2="429.1" stroke="#333" stroke-width="0.80" stroke-linecap="round"/>
<line x1="439.9" y1="429.6" x2="443.2" y2="428.0" stroke="#333" stroke-width="0.80" stroke-linecap="round"/>
<circle cx="439.9" cy="454.5" r="6.20" fill="url(#g51)"/>
<polygon points="466.3,452.3 452.9,458.9 413.5,456.7 426.9,450.1" fill="#1d7c82" fill-opacity="0.80" stroke="#e8e8e8" stroke-width="0.60" stroke-opacity="0.90" stroke-linejoin="round"/>
<line x1="439.9" y1="450.7" x2="439.9" y2="457.7" stroke="#333" stroke-width="0.80" stroke-linecap="round"/>
<line x1="439.9" y1="443.7" x2="439.9" y2="450.7" stroke="#333" stroke-width="0.80" stroke-linecap="round"/>
<line x1="439.9" y1="436.6" x2="439.9" y2="443.7" stroke="#333" stroke-width="0.80" stroke-linecap="round"/>
<line x1="430.1" y1="429.1" x2="439.9" y2="429.6" stroke="#333" stroke-width="0.80" stroke-linecap="round"/>
<polygon points="466.3,452.3 452.9,458.9 439.9,486.7" fill="#1d7e83" fill-opacity="0.80" stroke="#e8e8e8" stroke-width="0.60" stroke-opacity="0.90" stroke-linejoin="round"/>
<line x1="439.9" y1="454.5" x2="426.7" y2="455.6" stroke="#da744a" stroke-width="1.50"/>
<line x1="439.9" y1="429.6" x2="439.9" y2="436.6" stroke="#333" stroke-width="0.80" stroke-linecap="round"/>
<polygon points="413.5,521.1 452.9,523.3 439.9,486.7" fill="#33dde6" fill-opacity="0.80" stroke="#e8e8e8" stroke-width="0.60" stroke-opacity="0.90" stroke-linejoin="round"/>
<circle cx="334.7" cy="455.5" r="3.90" fill="url(#g2)"/>
<path d="M433.70,454.52 A6.20,6.20 0 0 1 446.10,454.50 A6.20,1.04 -0.1 0 1 433.70,454.52 Z" fill="url(#g51)"/>
<line x1="439.9" y1="454.5" x2="446.4" y2="456.7" stroke="#da744a" stroke-width="1.50"/>
<circle cx="466.3" cy="452.3" r="3.90" fill="url(#g2)"/>
<line x1="446.4" y1="521.1" x2="452.9" y2="523.3" stroke="#f00808" stroke-width="1.50"/>
<circle cx="374.1" cy="515.7" r="3.90" fill="url(#g2)"/>
<line x1="426.7" y1="455.6" x2="413.5" y2="456.7" stroke="#f00808" stroke-width="1.50"/>
<polygon points="413.5,456.7 452.9,458.9 439.9,486.7" fill="#2dc4cd" fill-opacity="0.80" stroke="#e8e8e8" stroke-width="0.60" stroke-opacity="0.90" stroke-linejoin="round"/>
<circle cx="439.9" cy="486.7" r="3.90" fill="url(#g2)"/>
<circle cx="374.1" cy="457.7" r="3.90" fill="url(#g2)"/>
<line x1="446.4" y1="456.7" x2="452.9" y2="458.9" stroke="#f00808" stroke-width="1.50"/>
<circle cx="413.5" cy="521.1" r="3.90" fill="url(#g2)"/>
<circle cx="413.5" cy="456.7" r="3.90" fill="url(#g2)"/>
<circle cx="452.9" cy="523.3" r="3.90" fill="url(#g2)"/>
<circle cx="452.9" cy="458.9" r="3.90" fill="url(#g2)"/>
<polygon points="563.4,492.2 599.8,488.9 590.6,522.2" fill="#c38f79" fill-opacity="0.48" stroke="#e8e8e8" stroke-width="0.60" stroke-opacity="0.40" stroke-linejoin="round"/>
<circle cx="599.8" cy="488.9" r="4.20" fill="url(#g126)"/>
<polygon points="563.4,492.2 599.8,488.9 590.6,464.8" fill="#c38f79" fill-opacity="0.48" stroke="#e8e8e8" stroke-width="0.60" stroke-opacity="0.40" stroke-linejoin="round"/>
<polygon points="617.9,494.9 599.8,488.9 590.6,522.2" fill="#c38f79" fill-opacity="0.48" stroke="#e8e8e8" stroke-width="0.60" stroke-opacity="0.40" stroke-linejoin="round"/>
<polygon points="617.9,494.9 599.8,488.9 590.6,464.8" fill="#c28d76" fill-opacity="0.48" stroke="#e8e8e8" stroke-width="0.60" stroke-opacity="0.40" stroke-linejoin="round"/>
<polygon points="563.4,434.8 599.8,431.5 590.6,464.8" fill="#c28d76" fill-opacity="0.48" stroke="#e8e8e8" stroke-width="0.60" stroke-opacity="0.40" stroke-linejoin="round"/>
<circle cx="599.8" cy="431.5" r="4.20" fill="url(#g126)"/>
<polygon points="563.4,434.8 599.8,431.5 590.6,407.4" fill="#c08972" fill-opacity="0.48" stroke="#e8e8e8" stroke-width="0.60" stroke-opacity="0.40" stroke-linejoin="round"/>
<polygon points="617.9,437.4 599.8,431.5 590.6,464.8" fill="#be866e" fill-opacity="0.48" stroke="#e8e8e8" stroke-width="0.60" stroke-opacity="0.40" stroke-linejoin="round"/>
<polygon points="563.4,492.2 581.4,498.1 590.6,522.2" fill="#a87965" fill-opacity="0.80" stroke="#e8e8e8" stroke-width="0.60" stroke-opacity="0.90" stroke-linejoin="round"/>
<polygon points="617.9,494.9 654.3,491.6 645.1,524.9" fill="#bd836a" fill-opacity="0.48" stroke="#e8e8e8" stroke-width="0.60" stroke-opacity="0.40" stroke-linejoin="round"/>
<polygon points="617.9,437.4 599.8,431.5 590.6,407.4" fill="#bc8269" fill-opacity="0.48" stroke="#e8e8e8" stroke-width="0.60" stroke-opacity="0.40" stroke-linejoin="round"/>
<circle cx="563.4" cy="492.2" r="4.20" fill="url(#g126)"/>
<circle cx="654.3" cy="491.6" r="4.20" fill="url(#g126)"/>
<polygon points="563.4,492.2 581.4,498.1 590.6,464.8" fill="#b77d65" fill-opacity="0.80" stroke="#e8e8e8" stroke-width="0.60" stroke-opacity="0.90" stroke-linejoin="round"/>
<polygon points="617.9,494.9 654.3,491.6 645.1,467.5" fill="#bb7f66" fill-opacity="0.48" stroke="#e8e8e8" stroke-width="0.60" stroke-opacity="0.40" stroke-linejoin="round"/>
<circle cx="590.6" cy="522.2" r="4.20" fill="url(#g130)"/>
<polygon points="617.9,494.9 581.4,498.1 590.6,522.2" fill="#c58265" fill-opacity="0.80" stroke="#e8e8e8" stroke-width="0.60" stroke-opacity="0.90" stroke-linejoin="round"/>
<polygon points="672.4,497.6 654.3,491.6 645.1,524.9" fill="#b97c62" fill-opacity="0.48" stroke="#e8e8e8" stroke-width="0.60" stroke-opacity="0.40" stroke-linejoin="round"/>
<polygon points="617.9,494.9 581.4,498.1 590.6,464.8" fill="#d68765" fill-opacity="0.80" stroke="#e8e8e8" stroke-width="0.60" stroke-opacity="0.90" stroke-linejoin="round"/>
<polygon points="672.4,497.6 654.3,491.6 645.1,467.5" fill="#b7785d" fill-opacity="0.48" stroke="#e8e8e8" stroke-width="0.60" stroke-opacity="0.40" stroke-linejoin="round"/>
<polygon points="563.4,434.8 581.4,440.7 590.6,464.8" fill="#a16e58" fill-opacity="0.80" stroke="#e8e8e8" stroke-width="0.60" stroke-opacity="0.90" stroke-linejoin="round"/>
<polygon points="617.9,437.4 654.3,434.2 645.1,467.5" fill="#b7785d" fill-opacity="0.48" stroke="#e8e8e8" stroke-width="0.60" stroke-opacity="0.40" stroke-linejoin="round"/>
<circle cx="563.4" cy="434.8" r="4.20" fill="url(#g125)"/>
<circle cx="654.3" cy="434.2" r="4.20" fill="url(#g131)"/>
<polygon points="563.4,434.8 581.4,440.7 590.6,407.4" fill="#b07258" fill-opacity="0.80" stroke="#e8e8e8" stroke-width="0.60" stroke-opacity="0.90" stroke-linejoin="round"/>
<polygon points="617.9,437.4 654.3,434.2 645.1,410.1" fill="#b57459" fill-opacity="0.48" stroke="#e8e8e8" stroke-width="0.60" stroke-opacity="0.40" stroke-linejoin="round"/>
<circle cx="590.6" cy="464.8" r="4.20" fill="url(#g127)"/>
<polygon points="617.9,437.4 581.4,440.7 590.6,464.8" fill="#c07758" fill-opacity="0.80" stroke="#e8e8e8" stroke-width="0.60" stroke-opacity="0.90" stroke-linejoin="round"/>
<polygon points="672.4,440.2 654.3,434.2 645.1,467.5" fill="#b37155" fill-opacity="0.48" stroke="#e8e8e8" stroke-width="0.60" stroke-opacity="0.40" stroke-linejoin="round"/>
<polygon points="617.9,494.9 635.9,500.8 645.1,524.9" fill="#9a634b" fill-opacity="0.80" stroke="#e8e8e8" stroke-width="0.60" stroke-opacity="0.90" stroke-linejoin="round"/>
<polygon points="617.9,437.4 581.4,440.7 590.6,407.4" fill="#d27d59" fill-opacity="0.80" stroke="#e8e8e8" stroke-width="0.60" stroke-opacity="0.90" stroke-linejoin="round"/>
<polygon points="672.4,440.2 654.3,434.2 645.1,410.1" fill="#b16d50" fill-opacity="0.48" stroke="#e8e8e8" stroke-width="0.60" stroke-opacity="0.40" stroke-linejoin="round"/>
<circle cx="617.9" cy="494.9" r="4.20" fill="url(#g129)"/>
<polygon points="617.9,494.9 635.9,500.8 645.1,467.5" fill="#ab684c" fill-opacity="0.80" stroke="#e8e8e8" stroke-width="0.60" stroke-opacity="0.90" stroke-linejoin="round"/>
<circle cx="645.1" cy="524.9" r="4.20" fill="url(#g133)"/>
<polygon points="672.4,497.6 635.9,500.8 645.1,524.9" fill="#bc6e4c" fill-opacity="0.80" stroke="#e8e8e8" stroke-width="0.60" stroke-opacity="0.90" stroke-linejoin="round"/>
<circle cx="590.6" cy="407.4" r="4.20" fill="url(#g128)"/>
<polygon points="672.4,497.6 635.9,500.8 645.1,467.5" fill="#cf744d" fill-opacity="0.80" stroke="#e8e8e8" stroke-width="0.60" stroke-opacity="0.90" stroke-linejoin="round"/>
<polygon points="617.9,437.4 635.9,443.4 645.1,467.5" fill="#92573e" fill-opacity="0.80" stroke="#e8e8e8" stroke-width="0.60" stroke-opacity="0.90" stroke-linejoin="round"/>
<circle cx="617.9" cy="437.4" r="4.20" fill="url(#g124)"/>
<polygon points="617.9,437.4 635.9,443.4 645.1,410.1" fill="#a55d3f" fill-opacity="0.80" stroke="#e8e8e8" stroke-width="0.60" stroke-opacity="0.90" stroke-linejoin="round"/>
<circle cx="645.1" cy="467.5" r="4.20" fill="url(#g46)"/>
<polygon points="672.4,440.2 635.9,443.4 645.1,467.5" fill="#b76340" fill-opacity="0.80" stroke="#e8e8e8" stroke-width="0.60" stroke-opacity="0.90" stroke-linejoin="round"/>
<polygon points="545.0,501.4 581.4,498.1 572.2,531.4" fill="#a75a39" fill-opacity="0.48" stroke="#e8e8e8" stroke-width="0.60" stroke-opacity="0.40" stroke-linejoin="round"/>
<polygon points="672.4,440.2 635.9,443.4 645.1,410.1" fill="#cc6a41" fill-opacity="0.80" stroke="#e8e8e8" stroke-width="0.60" stroke-opacity="0.90" stroke-linejoin="round"/>
<circle cx="581.4" cy="498.1" r="4.20" fill="url(#g28)"/>
<circle cx="672.4" cy="497.6" r="4.20" fill="url(#g132)"/>
<polygon points="545.0,501.4 581.4,498.1 572.2,474.0" fill="#a55635" fill-opacity="0.48" stroke="#e8e8e8" stroke-width="0.60" stroke-opacity="0.40" stroke-linejoin="round"/>
<polygon points="599.5,504.1 581.4,498.1 572.2,531.4" fill="#a35331" fill-opacity="0.48" stroke="#e8e8e8" stroke-width="0.60" stroke-opacity="0.40" stroke-linejoin="round"/>
<circle cx="608.7" cy="470.8" r="5.90" fill="url(#g134)"/>
<circle cx="645.1" cy="410.1" r="4.20" fill="url(#g10)"/>
<polygon points="599.5,504.1 581.4,498.1 572.2,474.0" fill="#a14f2c" fill-opacity="0.48" stroke="#e8e8e8" stroke-width="0.60" stroke-opacity="0.40" stroke-linejoin="round"/>
<polygon points="545.0,443.9 581.4,440.7 572.2,474.0" fill="#a14f2c" fill-opacity="0.48" stroke="#e8e8e8" stroke-width="0.60" stroke-opacity="0.40" stroke-linejoin="round"/>
<circle cx="581.4" cy="440.7" r="4.20" fill="url(#g122)"/>
<circle cx="672.4" cy="440.2" r="4.20" fill="url(#g17)"/>
<polygon points="545.0,443.9 581.4,440.7 572.2,416.6" fill="#9f4c28" fill-opacity="0.48" stroke="#e8e8e8" stroke-width="0.60" stroke-opacity="0.40" stroke-linejoin="round"/>
<polygon points="599.5,446.7 581.4,440.7 572.2,474.0" fill="#9f4b27" fill-opacity="0.48" stroke="#e8e8e8" stroke-width="0.60" stroke-opacity="0.40" stroke-linejoin="round"/>
<polygon points="545.0,501.4 563.0,507.3 572.2,531.4" fill="#813d20" fill-opacity="0.80" stroke="#e8e8e8" stroke-width="0.60" stroke-opacity="0.90" stroke-linejoin="round"/>
<polygon points="599.5,504.1 635.9,500.8 626.7,534.1" fill="#9f4b27" fill-opacity="0.48" stroke="#e8e8e8" stroke-width="0.60" stroke-opacity="0.40" stroke-linejoin="round"/>
<polygon points="599.5,446.7 581.4,440.7 572.2,416.6" fill="#9f4b27" fill-opacity="0.48" stroke="#e8e8e8" stroke-width="0.60" stroke-opacity="0.40" stroke-linejoin="round"/>
<circle cx="545.0" cy="501.4" r="4.20" fill="url(#g123)"/>
<circle cx="635.9" cy="500.8" r="4.20" fill="url(#g98)"/>
<polygon points="545.0,501.4 563.0,507.3 572.2,474.0" fill="#994825" fill-opacity="0.80" stroke="#e8e8e8" stroke-width="0.60" stroke-opacity="0.90" stroke-linejoin="round"/>
<polygon points="599.5,504.1 635.9,500.8 626.7,476.7" fill="#9f4b27" fill-opacity="0.48" stroke="#e8e8e8" stroke-width="0.60" stroke-opacity="0.40" stroke-linejoin="round"/>
<circle cx="572.2" cy="531.4" r="4.20" fill="url(#g23)"/>
<polygon points="599.5,504.1 563.0,507.3 572.2,531.4" fill="#af532b" fill-opacity="0.80" stroke="#e8e8e8" stroke-width="0.60" stroke-opacity="0.90" stroke-linejoin="round"/>
<polygon points="654.0,506.8 635.9,500.8 626.7,534.1" fill="#9f4b27" fill-opacity="0.48" stroke="#e8e8e8" stroke-width="0.60" stroke-opacity="0.40" stroke-linejoin="round"/>
<polygon points="599.5,504.1 563.0,507.3 572.2,474.0" fill="#c75e31" fill-opacity="0.80" stroke="#e8e8e8" stroke-width="0.60" stroke-opacity="0.90" stroke-linejoin="round"/>
<polygon points="654.0,506.8 635.9,500.8 626.7,476.7" fill="#9f4b27" fill-opacity="0.48" stroke="#e8e8e8" stroke-width="0.60" stroke-opacity="0.40" stroke-linejoin="round"/>
<polygon points="545.0,443.9 563.0,449.9 572.2,474.0" fill="#813d20" fill-opacity="0.80" stroke="#e8e8e8" stroke-width="0.60" stroke-opacity="0.90" stroke-linejoin="round"/>
<polygon points="599.5,446.7 635.9,443.4 626.7,476.7" fill="#9f4b27" fill-opacity="0.48" stroke="#e8e8e8" stroke-width="0.60" stroke-opacity="0.40" stroke-linejoin="round"/>
<circle cx="545.0" cy="443.9" r="4.20" fill="url(#g2)"/>
<circle cx="635.9" cy="443.4" r="4.20" fill="url(#g2)"/>
<polygon points="545.0,443.9 563.0,449.9 572.2,416.6" fill="#994825" fill-opacity="0.80" stroke="#e8e8e8" stroke-width="0.60" stroke-opacity="0.90" stroke-linejoin="round"/>
<polygon points="599.5,446.7 635.9,443.4 626.7,419.3" fill="#9f4b27" fill-opacity="0.48" stroke="#e8e8e8" stroke-width="0.60" stroke-opacity="0.40" stroke-linejoin="round"/>
<circle cx="572.2" cy="474.0" r="4.20" fill="url(#g2)"/>
<polygon points="599.5,446.7 563.0,449.9 572.2,474.0" fill="#af532b" fill-opacity="0.80" stroke="#e8e8e8" stroke-width="0.60" stroke-opacity="0.90" stroke-linejoin="round"/>
<polygon points="654.0,449.4 635.9,443.4 626.7,476.7" fill="#9f4b27" fill-opacity="0.48" stroke="#e8e8e8" stroke-width="0.60" stroke-opacity="0.40" stroke-linejoin="round"/>
<polygon points="599.5,504.1 617.5,510.0 626.7,534.1" fill="#813d20" fill-opacity="0.80" stroke="#e8e8e8" stroke-width="0.60" stroke-opacity="0.90" stroke-linejoin="round"/>
<polygon points="599.5,446.7 563.0,449.9 572.2,416.6" fill="#c75e31" fill-opacity="0.80" stroke="#e8e8e8" stroke-width="0.60" stroke-opacity="0.90" stroke-linejoin="round"/>
<polygon points="654.0,449.4 635.9,443.4 626.7,419.3" fill="#9f4b27" fill-opacity="0.48" stroke="#e8e8e8" stroke-width="0.60" stroke-opacity="0.40" stroke-linejoin="round"/>
<circle cx="599.5" cy="504.1" r="4.20" fill="url(#g2)"/>
<polygon points="599.5,504.1 617.5,510.0 626.7,476.7" fill="#994825" fill-opacity="0.80" stroke="#e8e8e8" stroke-width="0.60" stroke-opacity="0.90" stroke-linejoin="round"/>
<circle cx="626.7" cy="534.1" r="4.20" fill="url(#g2)"/>
<polygon points="654.0,506.8 617.5,510.0 626.7,534.1" fill="#af532b" fill-opacity="0.80" stroke="#e8e8e8" stroke-width="0.60" stroke-opacity="0.90" stroke-linejoin="round"/>
<circle cx="572.2" cy="416.6" r="4.20" fill="url(#g2)"/>
<polygon points="654.0,506.8 617.5,510.0 626.7,476.7" fill="#c75e31" fill-opacity="0.80" stroke="#e8e8e8" stroke-width="0.60" stroke-opacity="0.90" stroke-linejoin="round"/>
<polygon points="599.5,446.7 617.5,452.6 626.7,476.7" fill="#813d20" fill-opacity="0.80" stroke="#e8e8e8" stroke-width="0.60" stroke-opacity="0.90" stroke-linejoin="round"/>
<circle cx="599.5" cy="446.7" r="4.20" fill="url(#g2)"/>
<polygon points="599.5,446.7 617.5,452.6 626.7,419.3" fill="#994825" fill-opacity="0.80" stroke="#e8e8e8" stroke-width="0.60" stroke-opacity="0.90" stroke-linejoin="round"/>
<circle cx="626.7" cy="476.7" r="4.20" fill="url(#g2)"/>
<polygon points="654.0,449.4 617.5,452.6 626.7,476.7" fill="#af532b" fill-opacity="0.80" stroke="#e8e8e8" stroke-width="0.60" stroke-opacity="0.90" stroke-linejoin="round"/>
<polygon points="654.0,449.4 617.5,452.6 626.7,419.3" fill="#c75e31" fill-opacity="0.80" stroke="#e8e8e8" stroke-width="0.60" stroke-opacity="0.90" stroke-linejoin="round"/>
<circle cx="563.0" cy="507.3" r="4.20" fill="url(#g2)"/>
<circle cx="654.0" cy="506.8" r="4.20" fill="url(#g2)"/>
<circle cx="626.7" cy="419.3" r="4.20" fill="url(#g2)"/>
<circle cx="563.0" cy="449.9" r="4.20" fill="url(#g2)"/>
<circle cx="654.0" cy="449.4" r="4.20" fill="url(#g2)"/>
<circle cx="617.5" cy="510.0" r="4.20" fill="url(#g2)"/>
<circle cx="617.5" cy="452.6" r="4.20" fill="url(#g2)"/>
</svg>
</body></html>
